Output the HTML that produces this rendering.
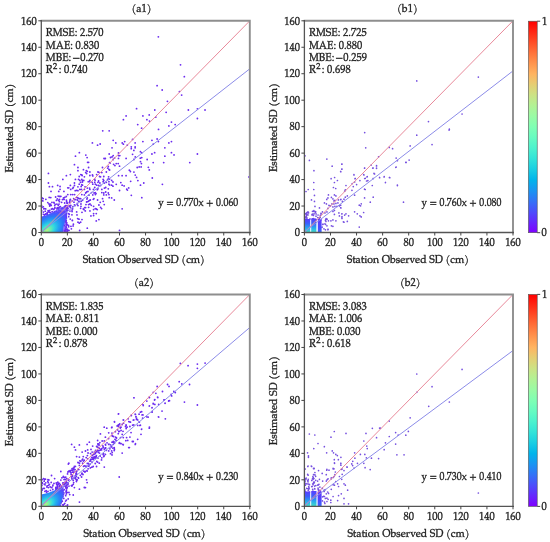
<!DOCTYPE html><html><head><meta charset="utf-8"><style>html,body{margin:0;padding:0;background:#fff}svg{display:block}text{font-family:"TeX Gyre Pagella","Liberation Serif",serif;font-size:10.5px;fill:#222;stroke:#222;stroke-width:0.3px}</style></head><body>
<svg width="550" height="542" viewBox="0 0 550 542">
<defs><filter id="soft" x="-20%" y="-20%" width="140%" height="140%"><feGaussianBlur stdDeviation="0.6"/></filter>
<radialGradient id="core" cx="0.5" cy="0.5" r="0.5"><stop offset="0" stop-color="#b8f566"/><stop offset="0.18" stop-color="#5cf0b0"/><stop offset="0.4" stop-color="#27c8e6"/><stop offset="0.7" stop-color="#2f8ef5"/><stop offset="1" stop-color="#3a6af8"/></radialGradient>
<linearGradient id="rb" x1="0" y1="1" x2="0" y2="0">
<stop offset="0.000" stop-color="rgb(127,0,255)"/>
<stop offset="0.050" stop-color="rgb(102,39,254)"/>
<stop offset="0.100" stop-color="rgb(76,78,251)"/>
<stop offset="0.150" stop-color="rgb(51,115,247)"/>
<stop offset="0.200" stop-color="rgb(25,149,242)"/>
<stop offset="0.250" stop-color="rgb(0,180,235)"/>
<stop offset="0.300" stop-color="rgb(25,206,227)"/>
<stop offset="0.350" stop-color="rgb(50,227,217)"/>
<stop offset="0.400" stop-color="rgb(76,242,206)"/>
<stop offset="0.450" stop-color="rgb(102,251,193)"/>
<stop offset="0.500" stop-color="rgb(127,255,180)"/>
<stop offset="0.550" stop-color="rgb(153,251,165)"/>
<stop offset="0.600" stop-color="rgb(178,242,149)"/>
<stop offset="0.650" stop-color="rgb(204,227,133)"/>
<stop offset="0.700" stop-color="rgb(229,206,115)"/>
<stop offset="0.750" stop-color="rgb(255,180,97)"/>
<stop offset="0.800" stop-color="rgb(255,149,78)"/>
<stop offset="0.850" stop-color="rgb(255,115,59)"/>
<stop offset="0.900" stop-color="rgb(255,78,39)"/>
<stop offset="0.950" stop-color="rgb(255,39,20)"/>
<stop offset="1.000" stop-color="rgb(255,0,0)"/>
</linearGradient></defs>
<clipPath id="ca1"><rect x="41.3" y="20.8" width="208.50" height="211.70"/></clipPath>
<g clip-path="url(#ca1)">
<polygon points="58,214 64,210 67,212 67,226 68,232.5 59,232.5" fill="#5a44ff" opacity="0.7" filter="url(#soft)"/>
<path d="M157.44 36.8a0.92 0.92 0 1 0 1.84 0a0.92 0.92 0 1 0 -1.84 0M179.59 64.8a0.92 0.92 0 1 0 1.84 0a0.92 0.92 0 1 0 -1.84 0M183.41 76.7a0.92 0.92 0 1 0 1.84 0a0.92 0.92 0 1 0 -1.84 0M156.17 85.7a0.92 0.92 0 1 0 1.84 0a0.92 0.92 0 1 0 -1.84 0M161.26 90.0a0.92 0.92 0 1 0 1.84 0a0.92 0.92 0 1 0 -1.84 0M166.52 101.3a0.92 0.92 0 1 0 1.84 0a0.92 0.92 0 1 0 -1.84 0M178.53 91.6a0.92 0.92 0 1 0 1.84 0a0.92 0.92 0 1 0 -1.84 0M135.65 108.7a0.92 0.92 0 1 0 1.84 0a0.92 0.92 0 1 0 -1.84 0M153.86 110.0a0.92 0.92 0 1 0 1.84 0a0.92 0.92 0 1 0 -1.84 0M165.23 112.3a0.92 0.92 0 1 0 1.84 0a0.92 0.92 0 1 0 -1.84 0M125.19 115.9a0.92 0.92 0 1 0 1.84 0a0.92 0.92 0 1 0 -1.84 0M122.48 119.7a0.92 0.92 0 1 0 1.84 0a0.92 0.92 0 1 0 -1.84 0M141.98 115.9a0.92 0.92 0 1 0 1.84 0a0.92 0.92 0 1 0 -1.84 0M148.31 114.9a0.92 0.92 0 1 0 1.84 0a0.92 0.92 0 1 0 -1.84 0M154.90 117.1a0.92 0.92 0 1 0 1.84 0a0.92 0.92 0 1 0 -1.84 0M145.98 119.7a0.92 0.92 0 1 0 1.84 0a0.92 0.92 0 1 0 -1.84 0M148.57 121.1a0.92 0.92 0 1 0 1.84 0a0.92 0.92 0 1 0 -1.84 0M136.81 124.6a0.92 0.92 0 1 0 1.84 0a0.92 0.92 0 1 0 -1.84 0M140.69 128.2a0.92 0.92 0 1 0 1.84 0a0.92 0.92 0 1 0 -1.84 0M170.52 122.1a0.92 0.92 0 1 0 1.84 0a0.92 0.92 0 1 0 -1.84 0M167.94 125.9a0.92 0.92 0 1 0 1.84 0a0.92 0.92 0 1 0 -1.84 0M174.27 124.6a0.92 0.92 0 1 0 1.84 0a0.92 0.92 0 1 0 -1.84 0M157.61 129.4a0.92 0.92 0 1 0 1.84 0a0.92 0.92 0 1 0 -1.84 0M112.28 140.3a0.92 0.92 0 1 0 1.84 0a0.92 0.92 0 1 0 -1.84 0M114.86 142.9a0.92 0.92 0 1 0 1.84 0a0.92 0.92 0 1 0 -1.84 0M123.77 141.6a0.92 0.92 0 1 0 1.84 0a0.92 0.92 0 1 0 -1.84 0M121.32 142.9a0.92 0.92 0 1 0 1.84 0a0.92 0.92 0 1 0 -1.84 0M122.48 144.2a0.92 0.92 0 1 0 1.84 0a0.92 0.92 0 1 0 -1.84 0M131.65 139.4a0.92 0.92 0 1 0 1.84 0a0.92 0.92 0 1 0 -1.84 0M126.35 145.2a0.92 0.92 0 1 0 1.84 0a0.92 0.92 0 1 0 -1.84 0M134.23 142.9a0.92 0.92 0 1 0 1.84 0a0.92 0.92 0 1 0 -1.84 0M134.23 146.8a0.92 0.92 0 1 0 1.84 0a0.92 0.92 0 1 0 -1.84 0M134.23 147.8a0.92 0.92 0 1 0 1.84 0a0.92 0.92 0 1 0 -1.84 0M130.36 146.8a0.92 0.92 0 1 0 1.84 0a0.92 0.92 0 1 0 -1.84 0M130.36 148.7a0.92 0.92 0 1 0 1.84 0a0.92 0.92 0 1 0 -1.84 0M132.94 150.4a0.92 0.92 0 1 0 1.84 0a0.92 0.92 0 1 0 -1.84 0M141.98 141.6a0.92 0.92 0 1 0 1.84 0a0.92 0.92 0 1 0 -1.84 0M151.02 140.3a0.92 0.92 0 1 0 1.84 0a0.92 0.92 0 1 0 -1.84 0M156.19 139.0a0.92 0.92 0 1 0 1.84 0a0.92 0.92 0 1 0 -1.84 0M157.48 141.6a0.92 0.92 0 1 0 1.84 0a0.92 0.92 0 1 0 -1.84 0M152.31 144.2a0.92 0.92 0 1 0 1.84 0a0.92 0.92 0 1 0 -1.84 0M167.94 142.9a0.92 0.92 0 1 0 1.84 0a0.92 0.92 0 1 0 -1.84 0M170.52 141.6a0.92 0.92 0 1 0 1.84 0a0.92 0.92 0 1 0 -1.84 0M163.94 147.8a0.92 0.92 0 1 0 1.84 0a0.92 0.92 0 1 0 -1.84 0M111.11 147.8a0.92 0.92 0 1 0 1.84 0a0.92 0.92 0 1 0 -1.84 0M117.57 153.0a0.92 0.92 0 1 0 1.84 0a0.92 0.92 0 1 0 -1.84 0M117.57 155.6a0.92 0.92 0 1 0 1.84 0a0.92 0.92 0 1 0 -1.84 0M118.86 155.6a0.92 0.92 0 1 0 1.84 0a0.92 0.92 0 1 0 -1.84 0M112.28 155.6a0.92 0.92 0 1 0 1.84 0a0.92 0.92 0 1 0 -1.84 0M111.11 156.9a0.92 0.92 0 1 0 1.84 0a0.92 0.92 0 1 0 -1.84 0M113.57 158.2a0.92 0.92 0 1 0 1.84 0a0.92 0.92 0 1 0 -1.84 0M112.28 159.5a0.92 0.92 0 1 0 1.84 0a0.92 0.92 0 1 0 -1.84 0M131.65 154.3a0.92 0.92 0 1 0 1.84 0a0.92 0.92 0 1 0 -1.84 0M134.36 156.9a0.92 0.92 0 1 0 1.84 0a0.92 0.92 0 1 0 -1.84 0M132.94 159.5a0.92 0.92 0 1 0 1.84 0a0.92 0.92 0 1 0 -1.84 0M139.53 151.7a0.92 0.92 0 1 0 1.84 0a0.92 0.92 0 1 0 -1.84 0M140.69 153.0a0.92 0.92 0 1 0 1.84 0a0.92 0.92 0 1 0 -1.84 0M139.40 158.2a0.92 0.92 0 1 0 1.84 0a0.92 0.92 0 1 0 -1.84 0M140.82 157.6a0.92 0.92 0 1 0 1.84 0a0.92 0.92 0 1 0 -1.84 0M151.02 154.0a0.92 0.92 0 1 0 1.84 0a0.92 0.92 0 1 0 -1.84 0M153.73 152.7a0.92 0.92 0 1 0 1.84 0a0.92 0.92 0 1 0 -1.84 0M163.94 156.2a0.92 0.92 0 1 0 1.84 0a0.92 0.92 0 1 0 -1.84 0M170.52 152.7a0.92 0.92 0 1 0 1.84 0a0.92 0.92 0 1 0 -1.84 0M173.11 154.9a0.92 0.92 0 1 0 1.84 0a0.92 0.92 0 1 0 -1.84 0M125.19 158.4a0.92 0.92 0 1 0 1.84 0a0.92 0.92 0 1 0 -1.84 0M117.57 158.4a0.92 0.92 0 1 0 1.84 0a0.92 0.92 0 1 0 -1.84 0M146.24 159.5a0.92 0.92 0 1 0 1.84 0a0.92 0.92 0 1 0 -1.84 0M180.73 95.1a0.92 0.92 0 1 0 1.84 0a0.92 0.92 0 1 0 -1.84 0M187.44 110.0a0.92 0.92 0 1 0 1.84 0a0.92 0.92 0 1 0 -1.84 0M196.48 108.8a0.92 0.92 0 1 0 1.84 0a0.92 0.92 0 1 0 -1.84 0M204.10 110.0a0.92 0.92 0 1 0 1.84 0a0.92 0.92 0 1 0 -1.84 0M196.48 118.5a0.92 0.92 0 1 0 1.84 0a0.92 0.92 0 1 0 -1.84 0M196.48 154.0a0.92 0.92 0 1 0 1.84 0a0.92 0.92 0 1 0 -1.84 0M188.86 162.6a0.92 0.92 0 1 0 1.84 0a0.92 0.92 0 1 0 -1.84 0M248.11 177.0a0.92 0.92 0 1 0 1.84 0a0.92 0.92 0 1 0 -1.84 0M101.81 130.8a0.92 0.92 0 1 0 1.84 0a0.92 0.92 0 1 0 -1.84 0M108.27 130.8a0.92 0.92 0 1 0 1.84 0a0.92 0.92 0 1 0 -1.84 0M91.48 142.9a0.92 0.92 0 1 0 1.84 0a0.92 0.92 0 1 0 -1.84 0M96.65 145.2a0.92 0.92 0 1 0 1.84 0a0.92 0.92 0 1 0 -1.84 0M99.23 144.0a0.92 0.92 0 1 0 1.84 0a0.92 0.92 0 1 0 -1.84 0M78.44 152.7a0.92 0.92 0 1 0 1.84 0a0.92 0.92 0 1 0 -1.84 0M74.56 156.2a0.92 0.92 0 1 0 1.84 0a0.92 0.92 0 1 0 -1.84 0M84.90 155.1a0.92 0.92 0 1 0 1.84 0a0.92 0.92 0 1 0 -1.84 0M86.19 157.6a0.92 0.92 0 1 0 1.84 0a0.92 0.92 0 1 0 -1.84 0M103.11 158.5a0.92 0.92 0 1 0 1.84 0a0.92 0.92 0 1 0 -1.84 0M104.40 158.5a0.92 0.92 0 1 0 1.84 0a0.92 0.92 0 1 0 -1.84 0M108.27 154.0a0.92 0.92 0 1 0 1.84 0a0.92 0.92 0 1 0 -1.84 0M109.56 157.5a0.92 0.92 0 1 0 1.84 0a0.92 0.92 0 1 0 -1.84 0M112.70 164.3a0.92 0.92 0 1 0 1.84 0a0.92 0.92 0 1 0 -1.84 0M114.01 165.6a0.92 0.92 0 1 0 1.84 0a0.92 0.92 0 1 0 -1.84 0M115.32 163.6a0.92 0.92 0 1 0 1.84 0a0.92 0.92 0 1 0 -1.84 0M117.29 163.6a0.92 0.92 0 1 0 1.84 0a0.92 0.92 0 1 0 -1.84 0M118.60 166.2a0.92 0.92 0 1 0 1.84 0a0.92 0.92 0 1 0 -1.84 0M139.57 161.7a0.92 0.92 0 1 0 1.84 0a0.92 0.92 0 1 0 -1.84 0M140.49 163.6a0.92 0.92 0 1 0 1.84 0a0.92 0.92 0 1 0 -1.84 0M152.29 162.6a0.92 0.92 0 1 0 1.84 0a0.92 0.92 0 1 0 -1.84 0M162.78 162.6a0.92 0.92 0 1 0 1.84 0a0.92 0.92 0 1 0 -1.84 0M136.30 167.5a0.92 0.92 0 1 0 1.84 0a0.92 0.92 0 1 0 -1.84 0M138.26 166.9a0.92 0.92 0 1 0 1.84 0a0.92 0.92 0 1 0 -1.84 0M140.23 166.9a0.92 0.92 0 1 0 1.84 0a0.92 0.92 0 1 0 -1.84 0M147.44 167.3a0.92 0.92 0 1 0 1.84 0a0.92 0.92 0 1 0 -1.84 0M148.36 169.9a0.92 0.92 0 1 0 1.84 0a0.92 0.92 0 1 0 -1.84 0M128.43 170.2a0.92 0.92 0 1 0 1.84 0a0.92 0.92 0 1 0 -1.84 0M129.48 171.5a0.92 0.92 0 1 0 1.84 0a0.92 0.92 0 1 0 -1.84 0M133.02 172.1a0.92 0.92 0 1 0 1.84 0a0.92 0.92 0 1 0 -1.84 0M117.68 175.7a0.92 0.92 0 1 0 1.84 0a0.92 0.92 0 1 0 -1.84 0M121.22 175.7a0.92 0.92 0 1 0 1.84 0a0.92 0.92 0 1 0 -1.84 0M125.15 175.7a0.92 0.92 0 1 0 1.84 0a0.92 0.92 0 1 0 -1.84 0M134.33 175.1a0.92 0.92 0 1 0 1.84 0a0.92 0.92 0 1 0 -1.84 0M135.64 177.4a0.92 0.92 0 1 0 1.84 0a0.92 0.92 0 1 0 -1.84 0M151.37 178.0a0.92 0.92 0 1 0 1.84 0a0.92 0.92 0 1 0 -1.84 0M110.74 180.4a0.92 0.92 0 1 0 1.84 0a0.92 0.92 0 1 0 -1.84 0M112.05 182.0a0.92 0.92 0 1 0 1.84 0a0.92 0.92 0 1 0 -1.84 0M115.32 184.3a0.92 0.92 0 1 0 1.84 0a0.92 0.92 0 1 0 -1.84 0M119.91 182.6a0.92 0.92 0 1 0 1.84 0a0.92 0.92 0 1 0 -1.84 0M121.22 185.2a0.92 0.92 0 1 0 1.84 0a0.92 0.92 0 1 0 -1.84 0M123.19 185.9a0.92 0.92 0 1 0 1.84 0a0.92 0.92 0 1 0 -1.84 0M129.74 181.3a0.92 0.92 0 1 0 1.84 0a0.92 0.92 0 1 0 -1.84 0M136.95 180.6a0.92 0.92 0 1 0 1.84 0a0.92 0.92 0 1 0 -1.84 0M142.85 183.0a0.92 0.92 0 1 0 1.84 0a0.92 0.92 0 1 0 -1.84 0M139.57 185.2a0.92 0.92 0 1 0 1.84 0a0.92 0.92 0 1 0 -1.84 0M161.47 184.3a0.92 0.92 0 1 0 1.84 0a0.92 0.92 0 1 0 -1.84 0M110.74 185.2a0.92 0.92 0 1 0 1.84 0a0.92 0.92 0 1 0 -1.84 0M112.05 186.2a0.92 0.92 0 1 0 1.84 0a0.92 0.92 0 1 0 -1.84 0M118.60 190.5a0.92 0.92 0 1 0 1.84 0a0.92 0.92 0 1 0 -1.84 0M125.81 189.2a0.92 0.92 0 1 0 1.84 0a0.92 0.92 0 1 0 -1.84 0M126.47 190.1a0.92 0.92 0 1 0 1.84 0a0.92 0.92 0 1 0 -1.84 0M127.78 187.9a0.92 0.92 0 1 0 1.84 0a0.92 0.92 0 1 0 -1.84 0M130.40 195.3a0.92 0.92 0 1 0 1.84 0a0.92 0.92 0 1 0 -1.84 0M140.89 197.7a0.92 0.92 0 1 0 1.84 0a0.92 0.92 0 1 0 -1.84 0M110.74 197.9a0.92 0.92 0 1 0 1.84 0a0.92 0.92 0 1 0 -1.84 0M113.36 200.0a0.92 0.92 0 1 0 1.84 0a0.92 0.92 0 1 0 -1.84 0M121.22 208.8a0.92 0.92 0 1 0 1.84 0a0.92 0.92 0 1 0 -1.84 0M118.60 230.4a0.92 0.92 0 1 0 1.84 0a0.92 0.92 0 1 0 -1.84 0M73.53 164.7a0.92 0.92 0 1 0 1.84 0a0.92 0.92 0 1 0 -1.84 0M47.51 173.4a0.92 0.92 0 1 0 1.84 0a0.92 0.92 0 1 0 -1.84 0M65.46 175.7a0.92 0.92 0 1 0 1.84 0a0.92 0.92 0 1 0 -1.84 0M69.46 174.6a0.92 0.92 0 1 0 1.84 0a0.92 0.92 0 1 0 -1.84 0M61.91 179.4a0.92 0.92 0 1 0 1.84 0a0.92 0.92 0 1 0 -1.84 0M74.50 179.4a0.92 0.92 0 1 0 1.84 0a0.92 0.92 0 1 0 -1.84 0M47.51 183.0a0.92 0.92 0 1 0 1.84 0a0.92 0.92 0 1 0 -1.84 0M73.53 183.0a0.92 0.92 0 1 0 1.84 0a0.92 0.92 0 1 0 -1.84 0M48.47 186.7a0.92 0.92 0 1 0 1.84 0a0.92 0.92 0 1 0 -1.84 0M51.57 186.7a0.92 0.92 0 1 0 1.84 0a0.92 0.92 0 1 0 -1.84 0M56.74 185.4a0.92 0.92 0 1 0 1.84 0a0.92 0.92 0 1 0 -1.84 0M59.13 186.5a0.92 0.92 0 1 0 1.84 0a0.92 0.92 0 1 0 -1.84 0M59.13 189.3a0.92 0.92 0 1 0 1.84 0a0.92 0.92 0 1 0 -1.84 0M69.46 185.4a0.92 0.92 0 1 0 1.84 0a0.92 0.92 0 1 0 -1.84 0M73.53 185.5a0.92 0.92 0 1 0 1.84 0a0.92 0.92 0 1 0 -1.84 0M66.88 187.8a0.92 0.92 0 1 0 1.84 0a0.92 0.92 0 1 0 -1.84 0M67.85 187.8a0.92 0.92 0 1 0 1.84 0a0.92 0.92 0 1 0 -1.84 0M69.78 189.4a0.92 0.92 0 1 0 1.84 0a0.92 0.92 0 1 0 -1.84 0M71.72 188.4a0.92 0.92 0 1 0 1.84 0a0.92 0.92 0 1 0 -1.84 0M72.37 187.5a0.92 0.92 0 1 0 1.84 0a0.92 0.92 0 1 0 -1.84 0M74.31 190.7a0.92 0.92 0 1 0 1.84 0a0.92 0.92 0 1 0 -1.84 0M50.09 191.4a0.92 0.92 0 1 0 1.84 0a0.92 0.92 0 1 0 -1.84 0M57.84 191.4a0.92 0.92 0 1 0 1.84 0a0.92 0.92 0 1 0 -1.84 0M63.00 191.4a0.92 0.92 0 1 0 1.84 0a0.92 0.92 0 1 0 -1.84 0M66.88 194.6a0.92 0.92 0 1 0 1.84 0a0.92 0.92 0 1 0 -1.84 0M69.78 194.6a0.92 0.92 0 1 0 1.84 0a0.92 0.92 0 1 0 -1.84 0M71.72 194.6a0.92 0.92 0 1 0 1.84 0a0.92 0.92 0 1 0 -1.84 0M73.66 194.6a0.92 0.92 0 1 0 1.84 0a0.92 0.92 0 1 0 -1.84 0M86.70 162.3a0.92 0.92 0 1 0 1.84 0a0.92 0.92 0 1 0 -1.84 0M87.67 162.3a0.92 0.92 0 1 0 1.84 0a0.92 0.92 0 1 0 -1.84 0M108.66 162.6a0.92 0.92 0 1 0 1.84 0a0.92 0.92 0 1 0 -1.84 0M109.31 162.9a0.92 0.92 0 1 0 1.84 0a0.92 0.92 0 1 0 -1.84 0M77.02 167.5a0.92 0.92 0 1 0 1.84 0a0.92 0.92 0 1 0 -1.84 0M87.67 167.5a0.92 0.92 0 1 0 1.84 0a0.92 0.92 0 1 0 -1.84 0M101.56 167.5a0.92 0.92 0 1 0 1.84 0a0.92 0.92 0 1 0 -1.84 0M107.37 166.5a0.92 0.92 0 1 0 1.84 0a0.92 0.92 0 1 0 -1.84 0M106.72 168.1a0.92 0.92 0 1 0 1.84 0a0.92 0.92 0 1 0 -1.84 0M82.51 169.7a0.92 0.92 0 1 0 1.84 0a0.92 0.92 0 1 0 -1.84 0M77.02 170.7a0.92 0.92 0 1 0 1.84 0a0.92 0.92 0 1 0 -1.84 0M85.41 170.7a0.92 0.92 0 1 0 1.84 0a0.92 0.92 0 1 0 -1.84 0M86.38 171.3a0.92 0.92 0 1 0 1.84 0a0.92 0.92 0 1 0 -1.84 0M108.01 169.4a0.92 0.92 0 1 0 1.84 0a0.92 0.92 0 1 0 -1.84 0M108.66 170.0a0.92 0.92 0 1 0 1.84 0a0.92 0.92 0 1 0 -1.84 0M84.77 172.6a0.92 0.92 0 1 0 1.84 0a0.92 0.92 0 1 0 -1.84 0M85.73 173.6a0.92 0.92 0 1 0 1.84 0a0.92 0.92 0 1 0 -1.84 0M88.96 172.0a0.92 0.92 0 1 0 1.84 0a0.92 0.92 0 1 0 -1.84 0M97.04 172.0a0.92 0.92 0 1 0 1.84 0a0.92 0.92 0 1 0 -1.84 0M98.00 172.3a0.92 0.92 0 1 0 1.84 0a0.92 0.92 0 1 0 -1.84 0M105.43 172.0a0.92 0.92 0 1 0 1.84 0a0.92 0.92 0 1 0 -1.84 0M100.91 172.6a0.92 0.92 0 1 0 1.84 0a0.92 0.92 0 1 0 -1.84 0M79.92 174.6a0.92 0.92 0 1 0 1.84 0a0.92 0.92 0 1 0 -1.84 0M80.89 174.9a0.92 0.92 0 1 0 1.84 0a0.92 0.92 0 1 0 -1.84 0M81.21 175.5a0.92 0.92 0 1 0 1.84 0a0.92 0.92 0 1 0 -1.84 0M88.96 175.5a0.92 0.92 0 1 0 1.84 0a0.92 0.92 0 1 0 -1.84 0M91.55 174.9a0.92 0.92 0 1 0 1.84 0a0.92 0.92 0 1 0 -1.84 0M91.87 175.9a0.92 0.92 0 1 0 1.84 0a0.92 0.92 0 1 0 -1.84 0M95.74 174.6a0.92 0.92 0 1 0 1.84 0a0.92 0.92 0 1 0 -1.84 0M98.65 176.5a0.92 0.92 0 1 0 1.84 0a0.92 0.92 0 1 0 -1.84 0M99.62 176.8a0.92 0.92 0 1 0 1.84 0a0.92 0.92 0 1 0 -1.84 0M102.85 176.5a0.92 0.92 0 1 0 1.84 0a0.92 0.92 0 1 0 -1.84 0M107.69 176.8a0.92 0.92 0 1 0 1.84 0a0.92 0.92 0 1 0 -1.84 0M78.31 176.5a0.92 0.92 0 1 0 1.84 0a0.92 0.92 0 1 0 -1.84 0M83.47 176.8a0.92 0.92 0 1 0 1.84 0a0.92 0.92 0 1 0 -1.84 0M77.66 179.4a0.92 0.92 0 1 0 1.84 0a0.92 0.92 0 1 0 -1.84 0M80.89 179.4a0.92 0.92 0 1 0 1.84 0a0.92 0.92 0 1 0 -1.84 0M81.54 180.4a0.92 0.92 0 1 0 1.84 0a0.92 0.92 0 1 0 -1.84 0M78.95 180.4a0.92 0.92 0 1 0 1.84 0a0.92 0.92 0 1 0 -1.84 0M82.83 180.4a0.92 0.92 0 1 0 1.84 0a0.92 0.92 0 1 0 -1.84 0M88.96 180.4a0.92 0.92 0 1 0 1.84 0a0.92 0.92 0 1 0 -1.84 0M93.81 179.1a0.92 0.92 0 1 0 1.84 0a0.92 0.92 0 1 0 -1.84 0M94.13 180.4a0.92 0.92 0 1 0 1.84 0a0.92 0.92 0 1 0 -1.84 0M97.68 181.0a0.92 0.92 0 1 0 1.84 0a0.92 0.92 0 1 0 -1.84 0M102.20 179.4a0.92 0.92 0 1 0 1.84 0a0.92 0.92 0 1 0 -1.84 0M102.85 180.4a0.92 0.92 0 1 0 1.84 0a0.92 0.92 0 1 0 -1.84 0M107.37 178.8a0.92 0.92 0 1 0 1.84 0a0.92 0.92 0 1 0 -1.84 0M106.72 179.7a0.92 0.92 0 1 0 1.84 0a0.92 0.92 0 1 0 -1.84 0M108.66 179.1a0.92 0.92 0 1 0 1.84 0a0.92 0.92 0 1 0 -1.84 0M79.60 182.3a0.92 0.92 0 1 0 1.84 0a0.92 0.92 0 1 0 -1.84 0M81.54 182.0a0.92 0.92 0 1 0 1.84 0a0.92 0.92 0 1 0 -1.84 0M87.35 181.7a0.92 0.92 0 1 0 1.84 0a0.92 0.92 0 1 0 -1.84 0M88.64 181.7a0.92 0.92 0 1 0 1.84 0a0.92 0.92 0 1 0 -1.84 0M91.22 182.3a0.92 0.92 0 1 0 1.84 0a0.92 0.92 0 1 0 -1.84 0M93.81 182.3a0.92 0.92 0 1 0 1.84 0a0.92 0.92 0 1 0 -1.84 0M97.04 182.3a0.92 0.92 0 1 0 1.84 0a0.92 0.92 0 1 0 -1.84 0M98.97 183.0a0.92 0.92 0 1 0 1.84 0a0.92 0.92 0 1 0 -1.84 0M102.20 181.7a0.92 0.92 0 1 0 1.84 0a0.92 0.92 0 1 0 -1.84 0M103.49 183.0a0.92 0.92 0 1 0 1.84 0a0.92 0.92 0 1 0 -1.84 0M105.43 182.3a0.92 0.92 0 1 0 1.84 0a0.92 0.92 0 1 0 -1.84 0M108.01 181.7a0.92 0.92 0 1 0 1.84 0a0.92 0.92 0 1 0 -1.84 0M78.31 184.2a0.92 0.92 0 1 0 1.84 0a0.92 0.92 0 1 0 -1.84 0M80.89 184.6a0.92 0.92 0 1 0 1.84 0a0.92 0.92 0 1 0 -1.84 0M81.54 185.2a0.92 0.92 0 1 0 1.84 0a0.92 0.92 0 1 0 -1.84 0M94.45 184.2a0.92 0.92 0 1 0 1.84 0a0.92 0.92 0 1 0 -1.84 0M95.74 185.2a0.92 0.92 0 1 0 1.84 0a0.92 0.92 0 1 0 -1.84 0M97.68 185.5a0.92 0.92 0 1 0 1.84 0a0.92 0.92 0 1 0 -1.84 0M99.62 185.5a0.92 0.92 0 1 0 1.84 0a0.92 0.92 0 1 0 -1.84 0M108.01 184.2a0.92 0.92 0 1 0 1.84 0a0.92 0.92 0 1 0 -1.84 0M108.66 184.9a0.92 0.92 0 1 0 1.84 0a0.92 0.92 0 1 0 -1.84 0M91.87 184.2a0.92 0.92 0 1 0 1.84 0a0.92 0.92 0 1 0 -1.84 0M77.02 186.8a0.92 0.92 0 1 0 1.84 0a0.92 0.92 0 1 0 -1.84 0M80.25 186.5a0.92 0.92 0 1 0 1.84 0a0.92 0.92 0 1 0 -1.84 0M84.12 186.8a0.92 0.92 0 1 0 1.84 0a0.92 0.92 0 1 0 -1.84 0M86.38 188.1a0.92 0.92 0 1 0 1.84 0a0.92 0.92 0 1 0 -1.84 0M88.64 188.1a0.92 0.92 0 1 0 1.84 0a0.92 0.92 0 1 0 -1.84 0M88.96 189.4a0.92 0.92 0 1 0 1.84 0a0.92 0.92 0 1 0 -1.84 0M93.81 187.5a0.92 0.92 0 1 0 1.84 0a0.92 0.92 0 1 0 -1.84 0M97.04 188.8a0.92 0.92 0 1 0 1.84 0a0.92 0.92 0 1 0 -1.84 0M100.91 189.4a0.92 0.92 0 1 0 1.84 0a0.92 0.92 0 1 0 -1.84 0M103.49 188.1a0.92 0.92 0 1 0 1.84 0a0.92 0.92 0 1 0 -1.84 0M104.78 187.5a0.92 0.92 0 1 0 1.84 0a0.92 0.92 0 1 0 -1.84 0M107.37 188.8a0.92 0.92 0 1 0 1.84 0a0.92 0.92 0 1 0 -1.84 0M75.73 190.4a0.92 0.92 0 1 0 1.84 0a0.92 0.92 0 1 0 -1.84 0M77.02 190.7a0.92 0.92 0 1 0 1.84 0a0.92 0.92 0 1 0 -1.84 0M78.95 189.4a0.92 0.92 0 1 0 1.84 0a0.92 0.92 0 1 0 -1.84 0M80.57 189.4a0.92 0.92 0 1 0 1.84 0a0.92 0.92 0 1 0 -1.84 0M83.47 189.4a0.92 0.92 0 1 0 1.84 0a0.92 0.92 0 1 0 -1.84 0M92.52 189.4a0.92 0.92 0 1 0 1.84 0a0.92 0.92 0 1 0 -1.84 0M96.39 189.7a0.92 0.92 0 1 0 1.84 0a0.92 0.92 0 1 0 -1.84 0M85.73 192.0a0.92 0.92 0 1 0 1.84 0a0.92 0.92 0 1 0 -1.84 0M87.03 191.4a0.92 0.92 0 1 0 1.84 0a0.92 0.92 0 1 0 -1.84 0M84.77 193.0a0.92 0.92 0 1 0 1.84 0a0.92 0.92 0 1 0 -1.84 0M90.58 192.6a0.92 0.92 0 1 0 1.84 0a0.92 0.92 0 1 0 -1.84 0M93.16 193.0a0.92 0.92 0 1 0 1.84 0a0.92 0.92 0 1 0 -1.84 0M94.45 192.6a0.92 0.92 0 1 0 1.84 0a0.92 0.92 0 1 0 -1.84 0M95.10 193.6a0.92 0.92 0 1 0 1.84 0a0.92 0.92 0 1 0 -1.84 0M100.91 192.6a0.92 0.92 0 1 0 1.84 0a0.92 0.92 0 1 0 -1.84 0M102.85 193.0a0.92 0.92 0 1 0 1.84 0a0.92 0.92 0 1 0 -1.84 0M104.78 192.0a0.92 0.92 0 1 0 1.84 0a0.92 0.92 0 1 0 -1.84 0M107.37 193.0a0.92 0.92 0 1 0 1.84 0a0.92 0.92 0 1 0 -1.84 0M80.89 194.6a0.92 0.92 0 1 0 1.84 0a0.92 0.92 0 1 0 -1.84 0M83.47 194.9a0.92 0.92 0 1 0 1.84 0a0.92 0.92 0 1 0 -1.84 0M88.00 195.2a0.92 0.92 0 1 0 1.84 0a0.92 0.92 0 1 0 -1.84 0M91.87 194.9a0.92 0.92 0 1 0 1.84 0a0.92 0.92 0 1 0 -1.84 0M94.45 194.6a0.92 0.92 0 1 0 1.84 0a0.92 0.92 0 1 0 -1.84 0M102.85 194.9a0.92 0.92 0 1 0 1.84 0a0.92 0.92 0 1 0 -1.84 0M105.43 194.9a0.92 0.92 0 1 0 1.84 0a0.92 0.92 0 1 0 -1.84 0M108.01 194.6a0.92 0.92 0 1 0 1.84 0a0.92 0.92 0 1 0 -1.84 0M75.74 197.3a0.92 0.92 0 1 0 1.84 0a0.92 0.92 0 1 0 -1.84 0M77.07 198.0a0.92 0.92 0 1 0 1.84 0a0.92 0.92 0 1 0 -1.84 0M78.40 198.7a0.92 0.92 0 1 0 1.84 0a0.92 0.92 0 1 0 -1.84 0M79.73 198.7a0.92 0.92 0 1 0 1.84 0a0.92 0.92 0 1 0 -1.84 0M76.41 200.0a0.92 0.92 0 1 0 1.84 0a0.92 0.92 0 1 0 -1.84 0M77.74 201.3a0.92 0.92 0 1 0 1.84 0a0.92 0.92 0 1 0 -1.84 0M79.06 201.3a0.92 0.92 0 1 0 1.84 0a0.92 0.92 0 1 0 -1.84 0M80.39 201.3a0.92 0.92 0 1 0 1.84 0a0.92 0.92 0 1 0 -1.84 0M81.72 200.0a0.92 0.92 0 1 0 1.84 0a0.92 0.92 0 1 0 -1.84 0M86.37 198.0a0.92 0.92 0 1 0 1.84 0a0.92 0.92 0 1 0 -1.84 0M86.04 199.0a0.92 0.92 0 1 0 1.84 0a0.92 0.92 0 1 0 -1.84 0M88.36 200.6a0.92 0.92 0 1 0 1.84 0a0.92 0.92 0 1 0 -1.84 0M89.36 200.0a0.92 0.92 0 1 0 1.84 0a0.92 0.92 0 1 0 -1.84 0M92.35 199.3a0.92 0.92 0 1 0 1.84 0a0.92 0.92 0 1 0 -1.84 0M93.01 198.7a0.92 0.92 0 1 0 1.84 0a0.92 0.92 0 1 0 -1.84 0M96.66 200.0a0.92 0.92 0 1 0 1.84 0a0.92 0.92 0 1 0 -1.84 0M99.32 202.3a0.92 0.92 0 1 0 1.84 0a0.92 0.92 0 1 0 -1.84 0M101.65 198.7a0.92 0.92 0 1 0 1.84 0a0.92 0.92 0 1 0 -1.84 0M102.31 201.3a0.92 0.92 0 1 0 1.84 0a0.92 0.92 0 1 0 -1.84 0M108.29 197.7a0.92 0.92 0 1 0 1.84 0a0.92 0.92 0 1 0 -1.84 0M85.71 202.0a0.92 0.92 0 1 0 1.84 0a0.92 0.92 0 1 0 -1.84 0M86.70 201.6a0.92 0.92 0 1 0 1.84 0a0.92 0.92 0 1 0 -1.84 0M87.37 201.3a0.92 0.92 0 1 0 1.84 0a0.92 0.92 0 1 0 -1.84 0M76.41 203.3a0.92 0.92 0 1 0 1.84 0a0.92 0.92 0 1 0 -1.84 0M76.41 204.6a0.92 0.92 0 1 0 1.84 0a0.92 0.92 0 1 0 -1.84 0M77.07 205.6a0.92 0.92 0 1 0 1.84 0a0.92 0.92 0 1 0 -1.84 0M80.06 204.0a0.92 0.92 0 1 0 1.84 0a0.92 0.92 0 1 0 -1.84 0M80.06 206.3a0.92 0.92 0 1 0 1.84 0a0.92 0.92 0 1 0 -1.84 0M85.04 204.6a0.92 0.92 0 1 0 1.84 0a0.92 0.92 0 1 0 -1.84 0M87.70 204.6a0.92 0.92 0 1 0 1.84 0a0.92 0.92 0 1 0 -1.84 0M89.03 204.0a0.92 0.92 0 1 0 1.84 0a0.92 0.92 0 1 0 -1.84 0M90.36 205.3a0.92 0.92 0 1 0 1.84 0a0.92 0.92 0 1 0 -1.84 0M92.68 206.3a0.92 0.92 0 1 0 1.84 0a0.92 0.92 0 1 0 -1.84 0M97.99 205.0a0.92 0.92 0 1 0 1.84 0a0.92 0.92 0 1 0 -1.84 0M103.31 204.6a0.92 0.92 0 1 0 1.84 0a0.92 0.92 0 1 0 -1.84 0M79.73 208.3a0.92 0.92 0 1 0 1.84 0a0.92 0.92 0 1 0 -1.84 0M82.39 209.0a0.92 0.92 0 1 0 1.84 0a0.92 0.92 0 1 0 -1.84 0M83.05 209.6a0.92 0.92 0 1 0 1.84 0a0.92 0.92 0 1 0 -1.84 0M83.71 207.6a0.92 0.92 0 1 0 1.84 0a0.92 0.92 0 1 0 -1.84 0M84.71 207.6a0.92 0.92 0 1 0 1.84 0a0.92 0.92 0 1 0 -1.84 0M84.38 210.9a0.92 0.92 0 1 0 1.84 0a0.92 0.92 0 1 0 -1.84 0M87.70 207.3a0.92 0.92 0 1 0 1.84 0a0.92 0.92 0 1 0 -1.84 0M89.03 210.9a0.92 0.92 0 1 0 1.84 0a0.92 0.92 0 1 0 -1.84 0M92.68 209.6a0.92 0.92 0 1 0 1.84 0a0.92 0.92 0 1 0 -1.84 0M94.34 208.6a0.92 0.92 0 1 0 1.84 0a0.92 0.92 0 1 0 -1.84 0M95.34 209.0a0.92 0.92 0 1 0 1.84 0a0.92 0.92 0 1 0 -1.84 0M96.33 209.6a0.92 0.92 0 1 0 1.84 0a0.92 0.92 0 1 0 -1.84 0M99.65 207.3a0.92 0.92 0 1 0 1.84 0a0.92 0.92 0 1 0 -1.84 0M100.65 208.6a0.92 0.92 0 1 0 1.84 0a0.92 0.92 0 1 0 -1.84 0M75.74 211.9a0.92 0.92 0 1 0 1.84 0a0.92 0.92 0 1 0 -1.84 0M81.06 212.3a0.92 0.92 0 1 0 1.84 0a0.92 0.92 0 1 0 -1.84 0M76.08 214.9a0.92 0.92 0 1 0 1.84 0a0.92 0.92 0 1 0 -1.84 0M90.02 215.9a0.92 0.92 0 1 0 1.84 0a0.92 0.92 0 1 0 -1.84 0M92.68 213.6a0.92 0.92 0 1 0 1.84 0a0.92 0.92 0 1 0 -1.84 0M92.68 215.6a0.92 0.92 0 1 0 1.84 0a0.92 0.92 0 1 0 -1.84 0M95.34 213.6a0.92 0.92 0 1 0 1.84 0a0.92 0.92 0 1 0 -1.84 0M76.74 218.6a0.92 0.92 0 1 0 1.84 0a0.92 0.92 0 1 0 -1.84 0M78.07 219.2a0.92 0.92 0 1 0 1.84 0a0.92 0.92 0 1 0 -1.84 0M81.06 219.6a0.92 0.92 0 1 0 1.84 0a0.92 0.92 0 1 0 -1.84 0M77.07 222.2a0.92 0.92 0 1 0 1.84 0a0.92 0.92 0 1 0 -1.84 0M78.40 223.2a0.92 0.92 0 1 0 1.84 0a0.92 0.92 0 1 0 -1.84 0M79.73 222.2a0.92 0.92 0 1 0 1.84 0a0.92 0.92 0 1 0 -1.84 0M95.34 220.9a0.92 0.92 0 1 0 1.84 0a0.92 0.92 0 1 0 -1.84 0M97.99 219.6a0.92 0.92 0 1 0 1.84 0a0.92 0.92 0 1 0 -1.84 0M86.37 228.2a0.92 0.92 0 1 0 1.84 0a0.92 0.92 0 1 0 -1.84 0M78.73 230.5a0.92 0.92 0 1 0 1.84 0a0.92 0.92 0 1 0 -1.84 0M44.94 199.3a0.92 0.92 0 1 0 1.84 0a0.92 0.92 0 1 0 -1.84 0M49.84 197.6a0.92 0.92 0 1 0 1.84 0a0.92 0.92 0 1 0 -1.84 0M48.12 204.0a0.92 0.92 0 1 0 1.84 0a0.92 0.92 0 1 0 -1.84 0M40.95 207.2a0.92 0.92 0 1 0 1.84 0a0.92 0.92 0 1 0 -1.84 0M40.64 205.5a0.92 0.92 0 1 0 1.84 0a0.92 0.92 0 1 0 -1.84 0M41.13 198.0a0.92 0.92 0 1 0 1.84 0a0.92 0.92 0 1 0 -1.84 0M46.45 214.2a0.92 0.92 0 1 0 1.84 0a0.92 0.92 0 1 0 -1.84 0M41.94 200.9a0.92 0.92 0 1 0 1.84 0a0.92 0.92 0 1 0 -1.84 0M48.74 204.7a0.92 0.92 0 1 0 1.84 0a0.92 0.92 0 1 0 -1.84 0M54.72 197.0a0.92 0.92 0 1 0 1.84 0a0.92 0.92 0 1 0 -1.84 0M52.96 202.4a0.92 0.92 0 1 0 1.84 0a0.92 0.92 0 1 0 -1.84 0M42.24 198.6a0.92 0.92 0 1 0 1.84 0a0.92 0.92 0 1 0 -1.84 0M44.71 214.0a0.92 0.92 0 1 0 1.84 0a0.92 0.92 0 1 0 -1.84 0M42.79 208.8a0.92 0.92 0 1 0 1.84 0a0.92 0.92 0 1 0 -1.84 0M49.66 204.2a0.92 0.92 0 1 0 1.84 0a0.92 0.92 0 1 0 -1.84 0M48.30 197.4a0.92 0.92 0 1 0 1.84 0a0.92 0.92 0 1 0 -1.84 0M40.97 200.5a0.92 0.92 0 1 0 1.84 0a0.92 0.92 0 1 0 -1.84 0M50.29 205.4a0.92 0.92 0 1 0 1.84 0a0.92 0.92 0 1 0 -1.84 0M44.79 208.9a0.92 0.92 0 1 0 1.84 0a0.92 0.92 0 1 0 -1.84 0M46.88 202.6a0.92 0.92 0 1 0 1.84 0a0.92 0.92 0 1 0 -1.84 0M43.74 208.6a0.92 0.92 0 1 0 1.84 0a0.92 0.92 0 1 0 -1.84 0M51.02 202.3a0.92 0.92 0 1 0 1.84 0a0.92 0.92 0 1 0 -1.84 0M46.35 212.7a0.92 0.92 0 1 0 1.84 0a0.92 0.92 0 1 0 -1.84 0M42.36 206.8a0.92 0.92 0 1 0 1.84 0a0.92 0.92 0 1 0 -1.84 0M40.67 210.7a0.92 0.92 0 1 0 1.84 0a0.92 0.92 0 1 0 -1.84 0M51.55 208.6a0.92 0.92 0 1 0 1.84 0a0.92 0.92 0 1 0 -1.84 0M53.21 202.9a0.92 0.92 0 1 0 1.84 0a0.92 0.92 0 1 0 -1.84 0M50.51 209.1a0.92 0.92 0 1 0 1.84 0a0.92 0.92 0 1 0 -1.84 0M48.78 206.0a0.92 0.92 0 1 0 1.84 0a0.92 0.92 0 1 0 -1.84 0M47.19 210.6a0.92 0.92 0 1 0 1.84 0a0.92 0.92 0 1 0 -1.84 0M68.85 202.8a0.92 0.92 0 1 0 1.84 0a0.92 0.92 0 1 0 -1.84 0M53.58 212.0a0.92 0.92 0 1 0 1.84 0a0.92 0.92 0 1 0 -1.84 0M53.76 216.9a0.92 0.92 0 1 0 1.84 0a0.92 0.92 0 1 0 -1.84 0M52.64 217.2a0.92 0.92 0 1 0 1.84 0a0.92 0.92 0 1 0 -1.84 0M73.60 199.6a0.92 0.92 0 1 0 1.84 0a0.92 0.92 0 1 0 -1.84 0M60.70 202.3a0.92 0.92 0 1 0 1.84 0a0.92 0.92 0 1 0 -1.84 0M53.00 209.6a0.92 0.92 0 1 0 1.84 0a0.92 0.92 0 1 0 -1.84 0M58.12 210.8a0.92 0.92 0 1 0 1.84 0a0.92 0.92 0 1 0 -1.84 0M63.75 197.3a0.92 0.92 0 1 0 1.84 0a0.92 0.92 0 1 0 -1.84 0M53.81 205.6a0.92 0.92 0 1 0 1.84 0a0.92 0.92 0 1 0 -1.84 0M61.57 199.6a0.92 0.92 0 1 0 1.84 0a0.92 0.92 0 1 0 -1.84 0M56.39 207.6a0.92 0.92 0 1 0 1.84 0a0.92 0.92 0 1 0 -1.84 0M69.09 199.9a0.92 0.92 0 1 0 1.84 0a0.92 0.92 0 1 0 -1.84 0M40.89 218.8a0.92 0.92 0 1 0 1.84 0a0.92 0.92 0 1 0 -1.84 0M58.57 199.5a0.92 0.92 0 1 0 1.84 0a0.92 0.92 0 1 0 -1.84 0M59.09 196.6a0.92 0.92 0 1 0 1.84 0a0.92 0.92 0 1 0 -1.84 0M58.72 214.7a0.92 0.92 0 1 0 1.84 0a0.92 0.92 0 1 0 -1.84 0M49.15 212.6a0.92 0.92 0 1 0 1.84 0a0.92 0.92 0 1 0 -1.84 0M73.51 204.8a0.92 0.92 0 1 0 1.84 0a0.92 0.92 0 1 0 -1.84 0M69.50 207.5a0.92 0.92 0 1 0 1.84 0a0.92 0.92 0 1 0 -1.84 0M66.33 207.5a0.92 0.92 0 1 0 1.84 0a0.92 0.92 0 1 0 -1.84 0M46.33 214.9a0.92 0.92 0 1 0 1.84 0a0.92 0.92 0 1 0 -1.84 0M51.72 215.2a0.92 0.92 0 1 0 1.84 0a0.92 0.92 0 1 0 -1.84 0M74.09 205.5a0.92 0.92 0 1 0 1.84 0a0.92 0.92 0 1 0 -1.84 0M65.45 200.1a0.92 0.92 0 1 0 1.84 0a0.92 0.92 0 1 0 -1.84 0M52.34 209.2a0.92 0.92 0 1 0 1.84 0a0.92 0.92 0 1 0 -1.84 0M69.00 201.1a0.92 0.92 0 1 0 1.84 0a0.92 0.92 0 1 0 -1.84 0M44.67 217.8a0.92 0.92 0 1 0 1.84 0a0.92 0.92 0 1 0 -1.84 0M57.64 208.8a0.92 0.92 0 1 0 1.84 0a0.92 0.92 0 1 0 -1.84 0M58.40 196.4a0.92 0.92 0 1 0 1.84 0a0.92 0.92 0 1 0 -1.84 0M55.48 200.4a0.92 0.92 0 1 0 1.84 0a0.92 0.92 0 1 0 -1.84 0M65.46 209.4a0.92 0.92 0 1 0 1.84 0a0.92 0.92 0 1 0 -1.84 0M67.11 208.2a0.92 0.92 0 1 0 1.84 0a0.92 0.92 0 1 0 -1.84 0M72.02 206.6a0.92 0.92 0 1 0 1.84 0a0.92 0.92 0 1 0 -1.84 0M61.52 208.1a0.92 0.92 0 1 0 1.84 0a0.92 0.92 0 1 0 -1.84 0M58.01 212.6a0.92 0.92 0 1 0 1.84 0a0.92 0.92 0 1 0 -1.84 0M55.91 208.8a0.92 0.92 0 1 0 1.84 0a0.92 0.92 0 1 0 -1.84 0M73.06 202.2a0.92 0.92 0 1 0 1.84 0a0.92 0.92 0 1 0 -1.84 0M69.48 199.3a0.92 0.92 0 1 0 1.84 0a0.92 0.92 0 1 0 -1.84 0M63.19 199.4a0.92 0.92 0 1 0 1.84 0a0.92 0.92 0 1 0 -1.84 0M47.77 218.9a0.92 0.92 0 1 0 1.84 0a0.92 0.92 0 1 0 -1.84 0M54.02 207.7a0.92 0.92 0 1 0 1.84 0a0.92 0.92 0 1 0 -1.84 0M58.13 204.1a0.92 0.92 0 1 0 1.84 0a0.92 0.92 0 1 0 -1.84 0M65.36 196.5a0.92 0.92 0 1 0 1.84 0a0.92 0.92 0 1 0 -1.84 0M59.47 206.6a0.92 0.92 0 1 0 1.84 0a0.92 0.92 0 1 0 -1.84 0M61.92 208.3a0.92 0.92 0 1 0 1.84 0a0.92 0.92 0 1 0 -1.84 0M42.33 219.6a0.92 0.92 0 1 0 1.84 0a0.92 0.92 0 1 0 -1.84 0M68.74 202.2a0.92 0.92 0 1 0 1.84 0a0.92 0.92 0 1 0 -1.84 0M45.31 218.1a0.92 0.92 0 1 0 1.84 0a0.92 0.92 0 1 0 -1.84 0M60.05 212.8a0.92 0.92 0 1 0 1.84 0a0.92 0.92 0 1 0 -1.84 0M64.17 206.2a0.92 0.92 0 1 0 1.84 0a0.92 0.92 0 1 0 -1.84 0M42.61 218.5a0.92 0.92 0 1 0 1.84 0a0.92 0.92 0 1 0 -1.84 0M55.96 204.1a0.92 0.92 0 1 0 1.84 0a0.92 0.92 0 1 0 -1.84 0M58.52 201.7a0.92 0.92 0 1 0 1.84 0a0.92 0.92 0 1 0 -1.84 0M66.66 203.0a0.92 0.92 0 1 0 1.84 0a0.92 0.92 0 1 0 -1.84 0M57.58 200.3a0.92 0.92 0 1 0 1.84 0a0.92 0.92 0 1 0 -1.84 0M65.74 209.2a0.92 0.92 0 1 0 1.84 0a0.92 0.92 0 1 0 -1.84 0M72.79 198.6a0.92 0.92 0 1 0 1.84 0a0.92 0.92 0 1 0 -1.84 0M68.74 206.4a0.92 0.92 0 1 0 1.84 0a0.92 0.92 0 1 0 -1.84 0M53.84 208.2a0.92 0.92 0 1 0 1.84 0a0.92 0.92 0 1 0 -1.84 0M52.07 216.0a0.92 0.92 0 1 0 1.84 0a0.92 0.92 0 1 0 -1.84 0M54.24 204.3a0.92 0.92 0 1 0 1.84 0a0.92 0.92 0 1 0 -1.84 0M56.69 208.1a0.92 0.92 0 1 0 1.84 0a0.92 0.92 0 1 0 -1.84 0M60.58 208.7a0.92 0.92 0 1 0 1.84 0a0.92 0.92 0 1 0 -1.84 0M74.55 199.6a0.92 0.92 0 1 0 1.84 0a0.92 0.92 0 1 0 -1.84 0M59.63 211.1a0.92 0.92 0 1 0 1.84 0a0.92 0.92 0 1 0 -1.84 0M57.21 196.1a0.92 0.92 0 1 0 1.84 0a0.92 0.92 0 1 0 -1.84 0M57.68 208.8a0.92 0.92 0 1 0 1.84 0a0.92 0.92 0 1 0 -1.84 0M63.16 197.6a0.92 0.92 0 1 0 1.84 0a0.92 0.92 0 1 0 -1.84 0M65.87 202.1a0.92 0.92 0 1 0 1.84 0a0.92 0.92 0 1 0 -1.84 0M65.61 200.9a0.92 0.92 0 1 0 1.84 0a0.92 0.92 0 1 0 -1.84 0M57.37 205.2a0.92 0.92 0 1 0 1.84 0a0.92 0.92 0 1 0 -1.84 0M56.85 212.4a0.92 0.92 0 1 0 1.84 0a0.92 0.92 0 1 0 -1.84 0M62.58 197.9a0.92 0.92 0 1 0 1.84 0a0.92 0.92 0 1 0 -1.84 0M66.09 203.3a0.92 0.92 0 1 0 1.84 0a0.92 0.92 0 1 0 -1.84 0M59.95 196.3a0.92 0.92 0 1 0 1.84 0a0.92 0.92 0 1 0 -1.84 0M63.73 203.0a0.92 0.92 0 1 0 1.84 0a0.92 0.92 0 1 0 -1.84 0M58.16 207.2a0.92 0.92 0 1 0 1.84 0a0.92 0.92 0 1 0 -1.84 0M56.40 198.8a0.92 0.92 0 1 0 1.84 0a0.92 0.92 0 1 0 -1.84 0M71.36 200.8a0.92 0.92 0 1 0 1.84 0a0.92 0.92 0 1 0 -1.84 0M40.38 213.5a0.92 0.92 0 1 0 1.84 0a0.92 0.92 0 1 0 -1.84 0M47.72 211.2a0.92 0.92 0 1 0 1.84 0a0.92 0.92 0 1 0 -1.84 0M43.65 219.3a0.92 0.92 0 1 0 1.84 0a0.92 0.92 0 1 0 -1.84 0M43.66 215.0a0.92 0.92 0 1 0 1.84 0a0.92 0.92 0 1 0 -1.84 0M42.49 214.3a0.92 0.92 0 1 0 1.84 0a0.92 0.92 0 1 0 -1.84 0M54.02 214.1a0.92 0.92 0 1 0 1.84 0a0.92 0.92 0 1 0 -1.84 0M44.01 218.8a0.92 0.92 0 1 0 1.84 0a0.92 0.92 0 1 0 -1.84 0M40.14 213.9a0.92 0.92 0 1 0 1.84 0a0.92 0.92 0 1 0 -1.84 0M47.74 211.6a0.92 0.92 0 1 0 1.84 0a0.92 0.92 0 1 0 -1.84 0M42.47 212.1a0.92 0.92 0 1 0 1.84 0a0.92 0.92 0 1 0 -1.84 0M45.45 218.1a0.92 0.92 0 1 0 1.84 0a0.92 0.92 0 1 0 -1.84 0M40.11 217.0a0.92 0.92 0 1 0 1.84 0a0.92 0.92 0 1 0 -1.84 0M55.41 211.5a0.92 0.92 0 1 0 1.84 0a0.92 0.92 0 1 0 -1.84 0M46.41 212.7a0.92 0.92 0 1 0 1.84 0a0.92 0.92 0 1 0 -1.84 0M46.21 213.1a0.92 0.92 0 1 0 1.84 0a0.92 0.92 0 1 0 -1.84 0M41.81 218.0a0.92 0.92 0 1 0 1.84 0a0.92 0.92 0 1 0 -1.84 0M44.32 211.2a0.92 0.92 0 1 0 1.84 0a0.92 0.92 0 1 0 -1.84 0M48.77 210.3a0.92 0.92 0 1 0 1.84 0a0.92 0.92 0 1 0 -1.84 0M52.53 213.4a0.92 0.92 0 1 0 1.84 0a0.92 0.92 0 1 0 -1.84 0M52.88 215.7a0.92 0.92 0 1 0 1.84 0a0.92 0.92 0 1 0 -1.84 0M48.11 212.1a0.92 0.92 0 1 0 1.84 0a0.92 0.92 0 1 0 -1.84 0M45.14 216.9a0.92 0.92 0 1 0 1.84 0a0.92 0.92 0 1 0 -1.84 0M51.23 211.6a0.92 0.92 0 1 0 1.84 0a0.92 0.92 0 1 0 -1.84 0M49.55 212.7a0.92 0.92 0 1 0 1.84 0a0.92 0.92 0 1 0 -1.84 0M43.61 218.9a0.92 0.92 0 1 0 1.84 0a0.92 0.92 0 1 0 -1.84 0M65.54 214.8a0.92 0.92 0 1 0 1.84 0a0.92 0.92 0 1 0 -1.84 0M64.83 213.1a0.92 0.92 0 1 0 1.84 0a0.92 0.92 0 1 0 -1.84 0M60.97 212.0a0.92 0.92 0 1 0 1.84 0a0.92 0.92 0 1 0 -1.84 0M63.21 212.0a0.92 0.92 0 1 0 1.84 0a0.92 0.92 0 1 0 -1.84 0M61.67 215.7a0.92 0.92 0 1 0 1.84 0a0.92 0.92 0 1 0 -1.84 0M66.62 229.5a0.92 0.92 0 1 0 1.84 0a0.92 0.92 0 1 0 -1.84 0M69.32 219.1a0.92 0.92 0 1 0 1.84 0a0.92 0.92 0 1 0 -1.84 0M64.29 221.5a0.92 0.92 0 1 0 1.84 0a0.92 0.92 0 1 0 -1.84 0M63.73 217.4a0.92 0.92 0 1 0 1.84 0a0.92 0.92 0 1 0 -1.84 0M59.01 216.1a0.92 0.92 0 1 0 1.84 0a0.92 0.92 0 1 0 -1.84 0M65.63 223.9a0.92 0.92 0 1 0 1.84 0a0.92 0.92 0 1 0 -1.84 0M71.02 214.8a0.92 0.92 0 1 0 1.84 0a0.92 0.92 0 1 0 -1.84 0M62.15 215.5a0.92 0.92 0 1 0 1.84 0a0.92 0.92 0 1 0 -1.84 0M64.08 219.8a0.92 0.92 0 1 0 1.84 0a0.92 0.92 0 1 0 -1.84 0M71.52 220.4a0.92 0.92 0 1 0 1.84 0a0.92 0.92 0 1 0 -1.84 0M63.95 230.4a0.92 0.92 0 1 0 1.84 0a0.92 0.92 0 1 0 -1.84 0M70.46 228.8a0.92 0.92 0 1 0 1.84 0a0.92 0.92 0 1 0 -1.84 0M59.72 213.4a0.92 0.92 0 1 0 1.84 0a0.92 0.92 0 1 0 -1.84 0M65.92 225.0a0.92 0.92 0 1 0 1.84 0a0.92 0.92 0 1 0 -1.84 0M72.20 225.9a0.92 0.92 0 1 0 1.84 0a0.92 0.92 0 1 0 -1.84 0M67.79 226.8a0.92 0.92 0 1 0 1.84 0a0.92 0.92 0 1 0 -1.84 0M64.94 222.1a0.92 0.92 0 1 0 1.84 0a0.92 0.92 0 1 0 -1.84 0M61.57 230.2a0.92 0.92 0 1 0 1.84 0a0.92 0.92 0 1 0 -1.84 0M67.76 216.7a0.92 0.92 0 1 0 1.84 0a0.92 0.92 0 1 0 -1.84 0M60.00 215.5a0.92 0.92 0 1 0 1.84 0a0.92 0.92 0 1 0 -1.84 0M67.62 225.4a0.92 0.92 0 1 0 1.84 0a0.92 0.92 0 1 0 -1.84 0M65.95 222.8a0.92 0.92 0 1 0 1.84 0a0.92 0.92 0 1 0 -1.84 0M63.90 214.9a0.92 0.92 0 1 0 1.84 0a0.92 0.92 0 1 0 -1.84 0M62.60 220.1a0.92 0.92 0 1 0 1.84 0a0.92 0.92 0 1 0 -1.84 0M72.46 224.2a0.92 0.92 0 1 0 1.84 0a0.92 0.92 0 1 0 -1.84 0M71.34 220.5a0.92 0.92 0 1 0 1.84 0a0.92 0.92 0 1 0 -1.84 0M61.60 215.4a0.92 0.92 0 1 0 1.84 0a0.92 0.92 0 1 0 -1.84 0M65.55 224.8a0.92 0.92 0 1 0 1.84 0a0.92 0.92 0 1 0 -1.84 0M64.38 215.7a0.92 0.92 0 1 0 1.84 0a0.92 0.92 0 1 0 -1.84 0M68.09 230.4a0.92 0.92 0 1 0 1.84 0a0.92 0.92 0 1 0 -1.84 0M63.15 219.3a0.92 0.92 0 1 0 1.84 0a0.92 0.92 0 1 0 -1.84 0M68.32 214.4a0.92 0.92 0 1 0 1.84 0a0.92 0.92 0 1 0 -1.84 0M70.04 226.3a0.92 0.92 0 1 0 1.84 0a0.92 0.92 0 1 0 -1.84 0M62.13 216.1a0.92 0.92 0 1 0 1.84 0a0.92 0.92 0 1 0 -1.84 0M65.28 216.6a0.92 0.92 0 1 0 1.84 0a0.92 0.92 0 1 0 -1.84 0M59.29 227.2a0.92 0.92 0 1 0 1.84 0a0.92 0.92 0 1 0 -1.84 0M60.03 231.0a0.92 0.92 0 1 0 1.84 0a0.92 0.92 0 1 0 -1.84 0M62.04 215.7a0.92 0.92 0 1 0 1.84 0a0.92 0.92 0 1 0 -1.84 0M59.31 220.3a0.92 0.92 0 1 0 1.84 0a0.92 0.92 0 1 0 -1.84 0M63.73 231.0a0.92 0.92 0 1 0 1.84 0a0.92 0.92 0 1 0 -1.84 0M58.54 219.9a0.92 0.92 0 1 0 1.84 0a0.92 0.92 0 1 0 -1.84 0M59.21 231.5a0.92 0.92 0 1 0 1.84 0a0.92 0.92 0 1 0 -1.84 0M57.68 219.9a0.92 0.92 0 1 0 1.84 0a0.92 0.92 0 1 0 -1.84 0M66.06 229.7a0.92 0.92 0 1 0 1.84 0a0.92 0.92 0 1 0 -1.84 0M64.41 232.0a0.92 0.92 0 1 0 1.84 0a0.92 0.92 0 1 0 -1.84 0M58.94 230.7a0.92 0.92 0 1 0 1.84 0a0.92 0.92 0 1 0 -1.84 0M64.54 212.6a0.92 0.92 0 1 0 1.84 0a0.92 0.92 0 1 0 -1.84 0M63.72 219.6a0.92 0.92 0 1 0 1.84 0a0.92 0.92 0 1 0 -1.84 0M60.82 218.6a0.92 0.92 0 1 0 1.84 0a0.92 0.92 0 1 0 -1.84 0M59.88 219.0a0.92 0.92 0 1 0 1.84 0a0.92 0.92 0 1 0 -1.84 0M60.65 228.4a0.92 0.92 0 1 0 1.84 0a0.92 0.92 0 1 0 -1.84 0M65.30 220.6a0.92 0.92 0 1 0 1.84 0a0.92 0.92 0 1 0 -1.84 0M57.57 221.5a0.92 0.92 0 1 0 1.84 0a0.92 0.92 0 1 0 -1.84 0M60.81 230.4a0.92 0.92 0 1 0 1.84 0a0.92 0.92 0 1 0 -1.84 0M59.01 219.3a0.92 0.92 0 1 0 1.84 0a0.92 0.92 0 1 0 -1.84 0M61.19 228.2a0.92 0.92 0 1 0 1.84 0a0.92 0.92 0 1 0 -1.84 0M64.75 212.8a0.92 0.92 0 1 0 1.84 0a0.92 0.92 0 1 0 -1.84 0M64.55 230.0a0.92 0.92 0 1 0 1.84 0a0.92 0.92 0 1 0 -1.84 0M60.47 217.4a0.92 0.92 0 1 0 1.84 0a0.92 0.92 0 1 0 -1.84 0M59.70 226.3a0.92 0.92 0 1 0 1.84 0a0.92 0.92 0 1 0 -1.84 0M60.24 217.5a0.92 0.92 0 1 0 1.84 0a0.92 0.92 0 1 0 -1.84 0M66.24 224.7a0.92 0.92 0 1 0 1.84 0a0.92 0.92 0 1 0 -1.84 0M59.42 221.5a0.92 0.92 0 1 0 1.84 0a0.92 0.92 0 1 0 -1.84 0M66.65 231.1a0.92 0.92 0 1 0 1.84 0a0.92 0.92 0 1 0 -1.84 0M60.95 217.0a0.92 0.92 0 1 0 1.84 0a0.92 0.92 0 1 0 -1.84 0M61.38 221.9a0.92 0.92 0 1 0 1.84 0a0.92 0.92 0 1 0 -1.84 0M65.11 226.8a0.92 0.92 0 1 0 1.84 0a0.92 0.92 0 1 0 -1.84 0M65.31 227.5a0.92 0.92 0 1 0 1.84 0a0.92 0.92 0 1 0 -1.84 0M63.15 218.6a0.92 0.92 0 1 0 1.84 0a0.92 0.92 0 1 0 -1.84 0M60.28 219.2a0.92 0.92 0 1 0 1.84 0a0.92 0.92 0 1 0 -1.84 0M64.90 213.6a0.92 0.92 0 1 0 1.84 0a0.92 0.92 0 1 0 -1.84 0M59.05 227.1a0.92 0.92 0 1 0 1.84 0a0.92 0.92 0 1 0 -1.84 0M60.34 231.6a0.92 0.92 0 1 0 1.84 0a0.92 0.92 0 1 0 -1.84 0M65.91 231.8a0.92 0.92 0 1 0 1.84 0a0.92 0.92 0 1 0 -1.84 0M59.73 213.7a0.92 0.92 0 1 0 1.84 0a0.92 0.92 0 1 0 -1.84 0M58.04 222.0a0.92 0.92 0 1 0 1.84 0a0.92 0.92 0 1 0 -1.84 0M64.18 220.9a0.92 0.92 0 1 0 1.84 0a0.92 0.92 0 1 0 -1.84 0M59.42 220.3a0.92 0.92 0 1 0 1.84 0a0.92 0.92 0 1 0 -1.84 0M63.28 225.5a0.92 0.92 0 1 0 1.84 0a0.92 0.92 0 1 0 -1.84 0M64.56 228.9a0.92 0.92 0 1 0 1.84 0a0.92 0.92 0 1 0 -1.84 0M63.72 214.4a0.92 0.92 0 1 0 1.84 0a0.92 0.92 0 1 0 -1.84 0M65.49 217.9a0.92 0.92 0 1 0 1.84 0a0.92 0.92 0 1 0 -1.84 0M62.75 219.5a0.92 0.92 0 1 0 1.84 0a0.92 0.92 0 1 0 -1.84 0M64.46 216.0a0.92 0.92 0 1 0 1.84 0a0.92 0.92 0 1 0 -1.84 0M59.55 216.9a0.92 0.92 0 1 0 1.84 0a0.92 0.92 0 1 0 -1.84 0M58.61 229.7a0.92 0.92 0 1 0 1.84 0a0.92 0.92 0 1 0 -1.84 0M62.86 218.5a0.92 0.92 0 1 0 1.84 0a0.92 0.92 0 1 0 -1.84 0M61.04 231.8a0.92 0.92 0 1 0 1.84 0a0.92 0.92 0 1 0 -1.84 0M68.15 206.0a0.92 0.92 0 1 0 1.84 0a0.92 0.92 0 1 0 -1.84 0M71.16 211.5a0.92 0.92 0 1 0 1.84 0a0.92 0.92 0 1 0 -1.84 0M67.83 213.6a0.92 0.92 0 1 0 1.84 0a0.92 0.92 0 1 0 -1.84 0M63.48 206.8a0.92 0.92 0 1 0 1.84 0a0.92 0.92 0 1 0 -1.84 0M71.74 208.8a0.92 0.92 0 1 0 1.84 0a0.92 0.92 0 1 0 -1.84 0M65.68 213.1a0.92 0.92 0 1 0 1.84 0a0.92 0.92 0 1 0 -1.84 0M69.04 211.1a0.92 0.92 0 1 0 1.84 0a0.92 0.92 0 1 0 -1.84 0M65.26 207.8a0.92 0.92 0 1 0 1.84 0a0.92 0.92 0 1 0 -1.84 0M64.49 205.7a0.92 0.92 0 1 0 1.84 0a0.92 0.92 0 1 0 -1.84 0M65.63 210.8a0.92 0.92 0 1 0 1.84 0a0.92 0.92 0 1 0 -1.84 0M69.60 205.6a0.92 0.92 0 1 0 1.84 0a0.92 0.92 0 1 0 -1.84 0M69.86 205.4a0.92 0.92 0 1 0 1.84 0a0.92 0.92 0 1 0 -1.84 0M66.20 205.6a0.92 0.92 0 1 0 1.84 0a0.92 0.92 0 1 0 -1.84 0M71.03 210.1a0.92 0.92 0 1 0 1.84 0a0.92 0.92 0 1 0 -1.84 0M67.03 210.2a0.92 0.92 0 1 0 1.84 0a0.92 0.92 0 1 0 -1.84 0" fill="#6c2cf0"/>
<radialGradient id="g_a1" gradientUnits="userSpaceOnUse" cx="47" cy="230.5" r="25" gradientTransform="translate(47 230.5) rotate(-38) scale(1 0.62) translate(-47 -230.5)"><stop offset="0" stop-color="#b8f07a"/><stop offset="0.15" stop-color="#70f0a8"/><stop offset="0.33" stop-color="#30d8e0"/><stop offset="0.52" stop-color="#24a8f0"/><stop offset="0.72" stop-color="#2c78fa"/><stop offset="0.87" stop-color="#4858ff"/><stop offset="1" stop-color="#5a44ff" stop-opacity="0.75"/></radialGradient>
<polygon points="41.3,216.6 46.5,215.3 54.3,211.3 60,207.5 64,206.5 67,208.5 67.4,213 66,219.3 63.5,225.9 62.6,232.5 41.3,232.5" fill="url(#g_a1)" filter="url(#soft)"/>
<line x1="41.3" y1="232.5" x2="249.8" y2="20.8" stroke="#e8899a" stroke-width="1"/>
<line x1="41.3" y1="231.92" x2="249.8" y2="68.81" stroke="#8c8ce8" stroke-width="1"/>
</g>
<path d="M40.599999999999994 20.8H249.8V233.2" fill="none" stroke="#8e8e8e" stroke-width="1.9"/>
<path d="M41.3 19.900000000000002V232.5H250.70000000000002" fill="none" stroke="#555" stroke-width="1.3"/>
<line x1="41.30" y1="232.5" x2="41.30" y2="235.5" stroke="#444" stroke-width="1"/>
<line x1="38.3" y1="232.50" x2="41.3" y2="232.50" stroke="#444" stroke-width="1"/>
<text x="41.30" y="246.00" text-anchor="middle">0</text>
<text x="36.80" y="236.20" text-anchor="end">0</text>
<line x1="67.36" y1="232.5" x2="67.36" y2="235.5" stroke="#444" stroke-width="1"/>
<line x1="38.3" y1="206.04" x2="41.3" y2="206.04" stroke="#444" stroke-width="1"/>
<text x="67.36" y="246.00" text-anchor="middle">20</text>
<text x="36.80" y="209.74" text-anchor="end">20</text>
<line x1="93.42" y1="232.5" x2="93.42" y2="235.5" stroke="#444" stroke-width="1"/>
<line x1="38.3" y1="179.57" x2="41.3" y2="179.57" stroke="#444" stroke-width="1"/>
<text x="93.42" y="246.00" text-anchor="middle">40</text>
<text x="36.80" y="183.27" text-anchor="end">40</text>
<line x1="119.49" y1="232.5" x2="119.49" y2="235.5" stroke="#444" stroke-width="1"/>
<line x1="38.3" y1="153.11" x2="41.3" y2="153.11" stroke="#444" stroke-width="1"/>
<text x="119.49" y="246.00" text-anchor="middle">60</text>
<text x="36.80" y="156.81" text-anchor="end">60</text>
<line x1="145.55" y1="232.5" x2="145.55" y2="235.5" stroke="#444" stroke-width="1"/>
<line x1="38.3" y1="126.65" x2="41.3" y2="126.65" stroke="#444" stroke-width="1"/>
<text x="145.55" y="246.00" text-anchor="middle">80</text>
<text x="36.80" y="130.35" text-anchor="end">80</text>
<line x1="171.61" y1="232.5" x2="171.61" y2="235.5" stroke="#444" stroke-width="1"/>
<line x1="38.3" y1="100.19" x2="41.3" y2="100.19" stroke="#444" stroke-width="1"/>
<text x="171.61" y="246.00" text-anchor="middle">100</text>
<text x="36.80" y="103.89" text-anchor="end">100</text>
<line x1="197.68" y1="232.5" x2="197.68" y2="235.5" stroke="#444" stroke-width="1"/>
<line x1="38.3" y1="73.72" x2="41.3" y2="73.72" stroke="#444" stroke-width="1"/>
<text x="197.68" y="246.00" text-anchor="middle">120</text>
<text x="36.80" y="77.42" text-anchor="end">120</text>
<line x1="223.74" y1="232.5" x2="223.74" y2="235.5" stroke="#444" stroke-width="1"/>
<line x1="38.3" y1="47.26" x2="41.3" y2="47.26" stroke="#444" stroke-width="1"/>
<text x="223.74" y="246.00" text-anchor="middle">140</text>
<text x="36.80" y="50.96" text-anchor="end">140</text>
<line x1="249.80" y1="232.5" x2="249.80" y2="235.5" stroke="#444" stroke-width="1"/>
<line x1="38.3" y1="20.80" x2="41.3" y2="20.80" stroke="#444" stroke-width="1"/>
<text x="249.80" y="246.00" text-anchor="middle">160</text>
<text x="36.80" y="24.50" text-anchor="end">160</text>
<text x="141.60" y="12.10" text-anchor="middle">(a1)</text>
<text x="143.80" y="263.40" text-anchor="middle" font-size="10.6" textLength="122.14" lengthAdjust="spacingAndGlyphs">Station Observed SD (cm)</text>
<text transform="translate(13.40,128.10) rotate(-90)" text-anchor="middle" textLength="88.94" lengthAdjust="spacingAndGlyphs">Estimated SD (cm)</text>
<text x="45.80" y="36.30" textLength="57.75" lengthAdjust="spacingAndGlyphs">RMSE: 2.570</text>
<text x="45.80" y="48.60" textLength="53.41" lengthAdjust="spacingAndGlyphs">MAE: 0.830</text>
<text x="45.80" y="60.90">MBE:<tspan dx="1">−0.270</tspan></text>
<text x="45.80" y="73.20">R<tspan dx="0.3" dy="-3.9" font-size="8.6">2</tspan><tspan dx="1.3" dy="3.9">: 0.740</tspan></text>
<text x="238.30" y="206.24" text-anchor="end" textLength="80" lengthAdjust="spacingAndGlyphs">y = 0.770x + 0.060</text>
<clipPath id="cb1"><rect x="304.4" y="20.8" width="208.60" height="211.70"/></clipPath>
<g clip-path="url(#cb1)">
<path d="M415.91 80.9a0.85 0.85 0 1 0 1.7 0a0.85 0.85 0 1 0 -1.7 0M477.51 77.1a0.85 0.85 0 1 0 1.7 0a0.85 0.85 0 1 0 -1.7 0M461.22 114.0a0.85 0.85 0 1 0 1.7 0a0.85 0.85 0 1 0 -1.7 0M427.62 121.6a0.85 0.85 0 1 0 1.7 0a0.85 0.85 0 1 0 -1.7 0M448.50 129.2a0.85 0.85 0 1 0 1.7 0a0.85 0.85 0 1 0 -1.7 0M448.24 130.1a0.85 0.85 0 1 0 1.7 0a0.85 0.85 0 1 0 -1.7 0M415.91 135.2a0.85 0.85 0 1 0 1.7 0a0.85 0.85 0 1 0 -1.7 0M431.19 144.6a0.85 0.85 0 1 0 1.7 0a0.85 0.85 0 1 0 -1.7 0M409.30 145.9a0.85 0.85 0 1 0 1.7 0a0.85 0.85 0 1 0 -1.7 0M388.42 147.4a0.85 0.85 0 1 0 1.7 0a0.85 0.85 0 1 0 -1.7 0M391.73 148.7a0.85 0.85 0 1 0 1.7 0a0.85 0.85 0 1 0 -1.7 0M377.73 156.8a0.85 0.85 0 1 0 1.7 0a0.85 0.85 0 1 0 -1.7 0M395.30 158.1a0.85 0.85 0 1 0 1.7 0a0.85 0.85 0 1 0 -1.7 0M396.57 160.6a0.85 0.85 0 1 0 1.7 0a0.85 0.85 0 1 0 -1.7 0M404.97 162.4a0.85 0.85 0 1 0 1.7 0a0.85 0.85 0 1 0 -1.7 0M408.28 160.1a0.85 0.85 0 1 0 1.7 0a0.85 0.85 0 1 0 -1.7 0M395.30 167.0a0.85 0.85 0 1 0 1.7 0a0.85 0.85 0 1 0 -1.7 0M375.70 165.7a0.85 0.85 0 1 0 1.7 0a0.85 0.85 0 1 0 -1.7 0M375.70 168.3a0.85 0.85 0 1 0 1.7 0a0.85 0.85 0 1 0 -1.7 0M373.15 173.4a0.85 0.85 0 1 0 1.7 0a0.85 0.85 0 1 0 -1.7 0M378.75 177.7a0.85 0.85 0 1 0 1.7 0a0.85 0.85 0 1 0 -1.7 0M383.33 176.7a0.85 0.85 0 1 0 1.7 0a0.85 0.85 0 1 0 -1.7 0M388.93 177.7a0.85 0.85 0 1 0 1.7 0a0.85 0.85 0 1 0 -1.7 0M384.60 182.5a0.85 0.85 0 1 0 1.7 0a0.85 0.85 0 1 0 -1.7 0M396.57 185.6a0.85 0.85 0 1 0 1.7 0a0.85 0.85 0 1 0 -1.7 0M363.85 132.6a0.85 0.85 0 1 0 1.7 0a0.85 0.85 0 1 0 -1.7 0M364.88 147.8a0.85 0.85 0 1 0 1.7 0a0.85 0.85 0 1 0 -1.7 0M304.18 155.8a0.85 0.85 0 1 0 1.7 0a0.85 0.85 0 1 0 -1.7 0M308.57 160.4a0.85 0.85 0 1 0 1.7 0a0.85 0.85 0 1 0 -1.7 0M326.01 159.1a0.85 0.85 0 1 0 1.7 0a0.85 0.85 0 1 0 -1.7 0M331.30 166.2a0.85 0.85 0 1 0 1.7 0a0.85 0.85 0 1 0 -1.7 0M340.99 164.2a0.85 0.85 0 1 0 1.7 0a0.85 0.85 0 1 0 -1.7 0M340.99 169.2a0.85 0.85 0 1 0 1.7 0a0.85 0.85 0 1 0 -1.7 0M339.96 171.7a0.85 0.85 0 1 0 1.7 0a0.85 0.85 0 1 0 -1.7 0M313.09 170.7a0.85 0.85 0 1 0 1.7 0a0.85 0.85 0 1 0 -1.7 0M330.27 178.7a0.85 0.85 0 1 0 1.7 0a0.85 0.85 0 1 0 -1.7 0M333.76 177.5a0.85 0.85 0 1 0 1.7 0a0.85 0.85 0 1 0 -1.7 0M353.13 175.0a0.85 0.85 0 1 0 1.7 0a0.85 0.85 0 1 0 -1.7 0M354.16 178.7a0.85 0.85 0 1 0 1.7 0a0.85 0.85 0 1 0 -1.7 0M363.85 168.1a0.85 0.85 0 1 0 1.7 0a0.85 0.85 0 1 0 -1.7 0M362.82 174.6a0.85 0.85 0 1 0 1.7 0a0.85 0.85 0 1 0 -1.7 0M366.18 176.9a0.85 0.85 0 1 0 1.7 0a0.85 0.85 0 1 0 -1.7 0M363.85 178.5a0.85 0.85 0 1 0 1.7 0a0.85 0.85 0 1 0 -1.7 0M371.86 168.1a0.85 0.85 0 1 0 1.7 0a0.85 0.85 0 1 0 -1.7 0M372.25 178.5a0.85 0.85 0 1 0 1.7 0a0.85 0.85 0 1 0 -1.7 0M341.14 164.0a0.85 0.85 0 1 0 1.7 0a0.85 0.85 0 1 0 -1.7 0M341.14 169.0a0.85 0.85 0 1 0 1.7 0a0.85 0.85 0 1 0 -1.7 0M339.81 171.7a0.85 0.85 0 1 0 1.7 0a0.85 0.85 0 1 0 -1.7 0M363.72 168.2a0.85 0.85 0 1 0 1.7 0a0.85 0.85 0 1 0 -1.7 0M370.36 165.0a0.85 0.85 0 1 0 1.7 0a0.85 0.85 0 1 0 -1.7 0M372.36 168.0a0.85 0.85 0 1 0 1.7 0a0.85 0.85 0 1 0 -1.7 0M375.68 166.0a0.85 0.85 0 1 0 1.7 0a0.85 0.85 0 1 0 -1.7 0M375.68 168.2a0.85 0.85 0 1 0 1.7 0a0.85 0.85 0 1 0 -1.7 0M396.53 160.7a0.85 0.85 0 1 0 1.7 0a0.85 0.85 0 1 0 -1.7 0M405.30 162.4a0.85 0.85 0 1 0 1.7 0a0.85 0.85 0 1 0 -1.7 0M394.94 167.3a0.85 0.85 0 1 0 1.7 0a0.85 0.85 0 1 0 -1.7 0M353.10 174.6a0.85 0.85 0 1 0 1.7 0a0.85 0.85 0 1 0 -1.7 0M354.43 178.6a0.85 0.85 0 1 0 1.7 0a0.85 0.85 0 1 0 -1.7 0M363.06 174.9a0.85 0.85 0 1 0 1.7 0a0.85 0.85 0 1 0 -1.7 0M364.39 178.3a0.85 0.85 0 1 0 1.7 0a0.85 0.85 0 1 0 -1.7 0M366.38 176.6a0.85 0.85 0 1 0 1.7 0a0.85 0.85 0 1 0 -1.7 0M373.69 173.9a0.85 0.85 0 1 0 1.7 0a0.85 0.85 0 1 0 -1.7 0M365.72 181.0a0.85 0.85 0 1 0 1.7 0a0.85 0.85 0 1 0 -1.7 0M367.04 180.6a0.85 0.85 0 1 0 1.7 0a0.85 0.85 0 1 0 -1.7 0M359.07 180.6a0.85 0.85 0 1 0 1.7 0a0.85 0.85 0 1 0 -1.7 0M355.75 184.6a0.85 0.85 0 1 0 1.7 0a0.85 0.85 0 1 0 -1.7 0M351.37 183.6a0.85 0.85 0 1 0 1.7 0a0.85 0.85 0 1 0 -1.7 0M353.76 181.9a0.85 0.85 0 1 0 1.7 0a0.85 0.85 0 1 0 -1.7 0M345.13 185.5a0.85 0.85 0 1 0 1.7 0a0.85 0.85 0 1 0 -1.7 0M352.43 186.6a0.85 0.85 0 1 0 1.7 0a0.85 0.85 0 1 0 -1.7 0M344.46 189.9a0.85 0.85 0 1 0 1.7 0a0.85 0.85 0 1 0 -1.7 0M343.80 191.2a0.85 0.85 0 1 0 1.7 0a0.85 0.85 0 1 0 -1.7 0M351.10 190.3a0.85 0.85 0 1 0 1.7 0a0.85 0.85 0 1 0 -1.7 0M363.72 189.2a0.85 0.85 0 1 0 1.7 0a0.85 0.85 0 1 0 -1.7 0M364.39 189.5a0.85 0.85 0 1 0 1.7 0a0.85 0.85 0 1 0 -1.7 0M371.43 185.5a0.85 0.85 0 1 0 1.7 0a0.85 0.85 0 1 0 -1.7 0M378.73 177.5a0.85 0.85 0 1 0 1.7 0a0.85 0.85 0 1 0 -1.7 0M383.25 177.0a0.85 0.85 0 1 0 1.7 0a0.85 0.85 0 1 0 -1.7 0M388.56 177.5a0.85 0.85 0 1 0 1.7 0a0.85 0.85 0 1 0 -1.7 0M384.58 182.6a0.85 0.85 0 1 0 1.7 0a0.85 0.85 0 1 0 -1.7 0M396.53 185.2a0.85 0.85 0 1 0 1.7 0a0.85 0.85 0 1 0 -1.7 0M372.36 178.6a0.85 0.85 0 1 0 1.7 0a0.85 0.85 0 1 0 -1.7 0M339.81 199.6a0.85 0.85 0 1 0 1.7 0a0.85 0.85 0 1 0 -1.7 0M343.13 199.2a0.85 0.85 0 1 0 1.7 0a0.85 0.85 0 1 0 -1.7 0M344.46 197.2a0.85 0.85 0 1 0 1.7 0a0.85 0.85 0 1 0 -1.7 0M346.46 195.9a0.85 0.85 0 1 0 1.7 0a0.85 0.85 0 1 0 -1.7 0M353.76 195.2a0.85 0.85 0 1 0 1.7 0a0.85 0.85 0 1 0 -1.7 0M363.72 197.9a0.85 0.85 0 1 0 1.7 0a0.85 0.85 0 1 0 -1.7 0M372.36 197.2a0.85 0.85 0 1 0 1.7 0a0.85 0.85 0 1 0 -1.7 0M369.43 202.2a0.85 0.85 0 1 0 1.7 0a0.85 0.85 0 1 0 -1.7 0M402.64 202.2a0.85 0.85 0 1 0 1.7 0a0.85 0.85 0 1 0 -1.7 0M358.41 205.2a0.85 0.85 0 1 0 1.7 0a0.85 0.85 0 1 0 -1.7 0M359.74 205.8a0.85 0.85 0 1 0 1.7 0a0.85 0.85 0 1 0 -1.7 0M360.40 203.8a0.85 0.85 0 1 0 1.7 0a0.85 0.85 0 1 0 -1.7 0M339.81 205.2a0.85 0.85 0 1 0 1.7 0a0.85 0.85 0 1 0 -1.7 0M339.81 207.8a0.85 0.85 0 1 0 1.7 0a0.85 0.85 0 1 0 -1.7 0M341.14 213.8a0.85 0.85 0 1 0 1.7 0a0.85 0.85 0 1 0 -1.7 0M345.13 213.8a0.85 0.85 0 1 0 1.7 0a0.85 0.85 0 1 0 -1.7 0M341.14 216.5a0.85 0.85 0 1 0 1.7 0a0.85 0.85 0 1 0 -1.7 0M341.14 218.5a0.85 0.85 0 1 0 1.7 0a0.85 0.85 0 1 0 -1.7 0M343.80 215.1a0.85 0.85 0 1 0 1.7 0a0.85 0.85 0 1 0 -1.7 0M347.78 215.8a0.85 0.85 0 1 0 1.7 0a0.85 0.85 0 1 0 -1.7 0M353.76 211.8a0.85 0.85 0 1 0 1.7 0a0.85 0.85 0 1 0 -1.7 0M356.42 213.8a0.85 0.85 0 1 0 1.7 0a0.85 0.85 0 1 0 -1.7 0M359.07 215.8a0.85 0.85 0 1 0 1.7 0a0.85 0.85 0 1 0 -1.7 0M360.40 216.9a0.85 0.85 0 1 0 1.7 0a0.85 0.85 0 1 0 -1.7 0M362.79 212.5a0.85 0.85 0 1 0 1.7 0a0.85 0.85 0 1 0 -1.7 0M343.13 222.2a0.85 0.85 0 1 0 1.7 0a0.85 0.85 0 1 0 -1.7 0M346.46 221.4a0.85 0.85 0 1 0 1.7 0a0.85 0.85 0 1 0 -1.7 0M358.41 227.1a0.85 0.85 0 1 0 1.7 0a0.85 0.85 0 1 0 -1.7 0M312.93 182.5a0.85 0.85 0 1 0 1.7 0a0.85 0.85 0 1 0 -1.7 0M333.57 182.5a0.85 0.85 0 1 0 1.7 0a0.85 0.85 0 1 0 -1.7 0M336.57 180.5a0.85 0.85 0 1 0 1.7 0a0.85 0.85 0 1 0 -1.7 0M305.15 191.5a0.85 0.85 0 1 0 1.7 0a0.85 0.85 0 1 0 -1.7 0M307.34 189.5a0.85 0.85 0 1 0 1.7 0a0.85 0.85 0 1 0 -1.7 0M312.93 189.5a0.85 0.85 0 1 0 1.7 0a0.85 0.85 0 1 0 -1.7 0M332.58 187.5a0.85 0.85 0 1 0 1.7 0a0.85 0.85 0 1 0 -1.7 0M334.87 188.5a0.85 0.85 0 1 0 1.7 0a0.85 0.85 0 1 0 -1.7 0M313.62 195.4a0.85 0.85 0 1 0 1.7 0a0.85 0.85 0 1 0 -1.7 0M327.59 194.9a0.85 0.85 0 1 0 1.7 0a0.85 0.85 0 1 0 -1.7 0M333.57 194.9a0.85 0.85 0 1 0 1.7 0a0.85 0.85 0 1 0 -1.7 0M335.07 195.9a0.85 0.85 0 1 0 1.7 0a0.85 0.85 0 1 0 -1.7 0M310.63 199.9a0.85 0.85 0 1 0 1.7 0a0.85 0.85 0 1 0 -1.7 0M313.62 201.4a0.85 0.85 0 1 0 1.7 0a0.85 0.85 0 1 0 -1.7 0M325.89 199.4a0.85 0.85 0 1 0 1.7 0a0.85 0.85 0 1 0 -1.7 0M327.09 197.9a0.85 0.85 0 1 0 1.7 0a0.85 0.85 0 1 0 -1.7 0M330.58 197.4a0.85 0.85 0 1 0 1.7 0a0.85 0.85 0 1 0 -1.7 0M332.08 198.9a0.85 0.85 0 1 0 1.7 0a0.85 0.85 0 1 0 -1.7 0M333.08 200.9a0.85 0.85 0 1 0 1.7 0a0.85 0.85 0 1 0 -1.7 0M334.07 200.4a0.85 0.85 0 1 0 1.7 0a0.85 0.85 0 1 0 -1.7 0M323.60 202.9a0.85 0.85 0 1 0 1.7 0a0.85 0.85 0 1 0 -1.7 0M325.59 203.9a0.85 0.85 0 1 0 1.7 0a0.85 0.85 0 1 0 -1.7 0M331.08 203.9a0.85 0.85 0 1 0 1.7 0a0.85 0.85 0 1 0 -1.7 0M333.08 203.9a0.85 0.85 0 1 0 1.7 0a0.85 0.85 0 1 0 -1.7 0M335.07 203.4a0.85 0.85 0 1 0 1.7 0a0.85 0.85 0 1 0 -1.7 0M337.56 199.9a0.85 0.85 0 1 0 1.7 0a0.85 0.85 0 1 0 -1.7 0M340.06 199.4a0.85 0.85 0 1 0 1.7 0a0.85 0.85 0 1 0 -1.7 0M341.55 201.4a0.85 0.85 0 1 0 1.7 0a0.85 0.85 0 1 0 -1.7 0M318.61 207.9a0.85 0.85 0 1 0 1.7 0a0.85 0.85 0 1 0 -1.7 0M327.09 208.4a0.85 0.85 0 1 0 1.7 0a0.85 0.85 0 1 0 -1.7 0M329.58 205.9a0.85 0.85 0 1 0 1.7 0a0.85 0.85 0 1 0 -1.7 0M332.08 206.9a0.85 0.85 0 1 0 1.7 0a0.85 0.85 0 1 0 -1.7 0M334.07 206.4a0.85 0.85 0 1 0 1.7 0a0.85 0.85 0 1 0 -1.7 0M336.07 206.4a0.85 0.85 0 1 0 1.7 0a0.85 0.85 0 1 0 -1.7 0M338.56 205.9a0.85 0.85 0 1 0 1.7 0a0.85 0.85 0 1 0 -1.7 0M340.06 207.9a0.85 0.85 0 1 0 1.7 0a0.85 0.85 0 1 0 -1.7 0M337.07 202.9a0.85 0.85 0 1 0 1.7 0a0.85 0.85 0 1 0 -1.7 0M328.09 205.4a0.85 0.85 0 1 0 1.7 0a0.85 0.85 0 1 0 -1.7 0M314.12 206.4a0.85 0.85 0 1 0 1.7 0a0.85 0.85 0 1 0 -1.7 0M307.64 212.4a0.85 0.85 0 1 0 1.7 0a0.85 0.85 0 1 0 -1.7 0M313.13 211.4a0.85 0.85 0 1 0 1.7 0a0.85 0.85 0 1 0 -1.7 0M314.62 212.4a0.85 0.85 0 1 0 1.7 0a0.85 0.85 0 1 0 -1.7 0M321.60 211.9a0.85 0.85 0 1 0 1.7 0a0.85 0.85 0 1 0 -1.7 0M324.10 212.9a0.85 0.85 0 1 0 1.7 0a0.85 0.85 0 1 0 -1.7 0M326.09 211.9a0.85 0.85 0 1 0 1.7 0a0.85 0.85 0 1 0 -1.7 0M332.08 211.4a0.85 0.85 0 1 0 1.7 0a0.85 0.85 0 1 0 -1.7 0M333.57 210.4a0.85 0.85 0 1 0 1.7 0a0.85 0.85 0 1 0 -1.7 0M338.06 212.9a0.85 0.85 0 1 0 1.7 0a0.85 0.85 0 1 0 -1.7 0M341.06 213.9a0.85 0.85 0 1 0 1.7 0a0.85 0.85 0 1 0 -1.7 0M341.06 217.9a0.85 0.85 0 1 0 1.7 0a0.85 0.85 0 1 0 -1.7 0M342.55 221.8a0.85 0.85 0 1 0 1.7 0a0.85 0.85 0 1 0 -1.7 0M338.56 215.9a0.85 0.85 0 1 0 1.7 0a0.85 0.85 0 1 0 -1.7 0M333.57 214.4a0.85 0.85 0 1 0 1.7 0a0.85 0.85 0 1 0 -1.7 0M332.08 219.9a0.85 0.85 0 1 0 1.7 0a0.85 0.85 0 1 0 -1.7 0M330.08 220.8a0.85 0.85 0 1 0 1.7 0a0.85 0.85 0 1 0 -1.7 0M335.07 220.8a0.85 0.85 0 1 0 1.7 0a0.85 0.85 0 1 0 -1.7 0M327.59 220.8a0.85 0.85 0 1 0 1.7 0a0.85 0.85 0 1 0 -1.7 0M324.60 220.4a0.85 0.85 0 1 0 1.7 0a0.85 0.85 0 1 0 -1.7 0M324.10 223.8a0.85 0.85 0 1 0 1.7 0a0.85 0.85 0 1 0 -1.7 0M326.09 225.8a0.85 0.85 0 1 0 1.7 0a0.85 0.85 0 1 0 -1.7 0M330.58 225.8a0.85 0.85 0 1 0 1.7 0a0.85 0.85 0 1 0 -1.7 0M332.08 226.3a0.85 0.85 0 1 0 1.7 0a0.85 0.85 0 1 0 -1.7 0M321.11 227.3a0.85 0.85 0 1 0 1.7 0a0.85 0.85 0 1 0 -1.7 0M323.10 228.8a0.85 0.85 0 1 0 1.7 0a0.85 0.85 0 1 0 -1.7 0M324.60 229.8a0.85 0.85 0 1 0 1.7 0a0.85 0.85 0 1 0 -1.7 0M327.09 229.8a0.85 0.85 0 1 0 1.7 0a0.85 0.85 0 1 0 -1.7 0M311.13 214.4a0.85 0.85 0 1 0 1.7 0a0.85 0.85 0 1 0 -1.7 0M312.63 215.4a0.85 0.85 0 1 0 1.7 0a0.85 0.85 0 1 0 -1.7 0M309.14 218.9a0.85 0.85 0 1 0 1.7 0a0.85 0.85 0 1 0 -1.7 0M311.63 218.9a0.85 0.85 0 1 0 1.7 0a0.85 0.85 0 1 0 -1.7 0M313.13 219.9a0.85 0.85 0 1 0 1.7 0a0.85 0.85 0 1 0 -1.7 0M305.64 219.9a0.85 0.85 0 1 0 1.7 0a0.85 0.85 0 1 0 -1.7 0M306.14 217.9a0.85 0.85 0 1 0 1.7 0a0.85 0.85 0 1 0 -1.7 0M307.14 214.9a0.85 0.85 0 1 0 1.7 0a0.85 0.85 0 1 0 -1.7 0M307.13 211.9a0.85 0.85 0 1 0 1.7 0a0.85 0.85 0 1 0 -1.7 0M304.47 218.0a0.85 0.85 0 1 0 1.7 0a0.85 0.85 0 1 0 -1.7 0M305.84 213.8a0.85 0.85 0 1 0 1.7 0a0.85 0.85 0 1 0 -1.7 0M305.27 220.5a0.85 0.85 0 1 0 1.7 0a0.85 0.85 0 1 0 -1.7 0M305.30 216.7a0.85 0.85 0 1 0 1.7 0a0.85 0.85 0 1 0 -1.7 0M305.55 215.2a0.85 0.85 0 1 0 1.7 0a0.85 0.85 0 1 0 -1.7 0M308.39 221.0a0.85 0.85 0 1 0 1.7 0a0.85 0.85 0 1 0 -1.7 0M305.59 213.0a0.85 0.85 0 1 0 1.7 0a0.85 0.85 0 1 0 -1.7 0M307.63 213.0a0.85 0.85 0 1 0 1.7 0a0.85 0.85 0 1 0 -1.7 0M303.58 220.0a0.85 0.85 0 1 0 1.7 0a0.85 0.85 0 1 0 -1.7 0M305.92 219.2a0.85 0.85 0 1 0 1.7 0a0.85 0.85 0 1 0 -1.7 0M305.82 219.8a0.85 0.85 0 1 0 1.7 0a0.85 0.85 0 1 0 -1.7 0M306.13 212.6a0.85 0.85 0 1 0 1.7 0a0.85 0.85 0 1 0 -1.7 0M303.63 216.5a0.85 0.85 0 1 0 1.7 0a0.85 0.85 0 1 0 -1.7 0M307.14 220.1a0.85 0.85 0 1 0 1.7 0a0.85 0.85 0 1 0 -1.7 0M304.05 217.2a0.85 0.85 0 1 0 1.7 0a0.85 0.85 0 1 0 -1.7 0M305.63 216.0a0.85 0.85 0 1 0 1.7 0a0.85 0.85 0 1 0 -1.7 0M304.37 213.8a0.85 0.85 0 1 0 1.7 0a0.85 0.85 0 1 0 -1.7 0M313.26 219.3a0.85 0.85 0 1 0 1.7 0a0.85 0.85 0 1 0 -1.7 0M311.19 214.9a0.85 0.85 0 1 0 1.7 0a0.85 0.85 0 1 0 -1.7 0M314.67 219.7a0.85 0.85 0 1 0 1.7 0a0.85 0.85 0 1 0 -1.7 0M311.64 211.3a0.85 0.85 0 1 0 1.7 0a0.85 0.85 0 1 0 -1.7 0M315.37 219.8a0.85 0.85 0 1 0 1.7 0a0.85 0.85 0 1 0 -1.7 0M313.06 210.5a0.85 0.85 0 1 0 1.7 0a0.85 0.85 0 1 0 -1.7 0M315.28 213.9a0.85 0.85 0 1 0 1.7 0a0.85 0.85 0 1 0 -1.7 0M315.17 216.2a0.85 0.85 0 1 0 1.7 0a0.85 0.85 0 1 0 -1.7 0M314.77 211.6a0.85 0.85 0 1 0 1.7 0a0.85 0.85 0 1 0 -1.7 0M314.58 212.2a0.85 0.85 0 1 0 1.7 0a0.85 0.85 0 1 0 -1.7 0M312.67 218.5a0.85 0.85 0 1 0 1.7 0a0.85 0.85 0 1 0 -1.7 0M314.80 211.8a0.85 0.85 0 1 0 1.7 0a0.85 0.85 0 1 0 -1.7 0M311.74 214.0a0.85 0.85 0 1 0 1.7 0a0.85 0.85 0 1 0 -1.7 0M313.24 213.8a0.85 0.85 0 1 0 1.7 0a0.85 0.85 0 1 0 -1.7 0M317.20 215.0a0.85 0.85 0 1 0 1.7 0a0.85 0.85 0 1 0 -1.7 0M319.91 220.2a0.85 0.85 0 1 0 1.7 0a0.85 0.85 0 1 0 -1.7 0M316.83 217.5a0.85 0.85 0 1 0 1.7 0a0.85 0.85 0 1 0 -1.7 0M320.06 213.3a0.85 0.85 0 1 0 1.7 0a0.85 0.85 0 1 0 -1.7 0M320.42 213.9a0.85 0.85 0 1 0 1.7 0a0.85 0.85 0 1 0 -1.7 0M319.35 217.4a0.85 0.85 0 1 0 1.7 0a0.85 0.85 0 1 0 -1.7 0M319.47 215.4a0.85 0.85 0 1 0 1.7 0a0.85 0.85 0 1 0 -1.7 0M318.54 217.7a0.85 0.85 0 1 0 1.7 0a0.85 0.85 0 1 0 -1.7 0M318.57 218.3a0.85 0.85 0 1 0 1.7 0a0.85 0.85 0 1 0 -1.7 0M324.72 224.4a0.85 0.85 0 1 0 1.7 0a0.85 0.85 0 1 0 -1.7 0M321.34 227.0a0.85 0.85 0 1 0 1.7 0a0.85 0.85 0 1 0 -1.7 0M325.07 221.4a0.85 0.85 0 1 0 1.7 0a0.85 0.85 0 1 0 -1.7 0M327.26 229.3a0.85 0.85 0 1 0 1.7 0a0.85 0.85 0 1 0 -1.7 0M324.82 220.6a0.85 0.85 0 1 0 1.7 0a0.85 0.85 0 1 0 -1.7 0M324.94 219.6a0.85 0.85 0 1 0 1.7 0a0.85 0.85 0 1 0 -1.7 0M322.18 224.2a0.85 0.85 0 1 0 1.7 0a0.85 0.85 0 1 0 -1.7 0M321.88 224.4a0.85 0.85 0 1 0 1.7 0a0.85 0.85 0 1 0 -1.7 0M325.23 218.6a0.85 0.85 0 1 0 1.7 0a0.85 0.85 0 1 0 -1.7 0M326.24 219.2a0.85 0.85 0 1 0 1.7 0a0.85 0.85 0 1 0 -1.7 0M327.02 229.3a0.85 0.85 0 1 0 1.7 0a0.85 0.85 0 1 0 -1.7 0M325.24 218.8a0.85 0.85 0 1 0 1.7 0a0.85 0.85 0 1 0 -1.7 0" fill="#7650e0"/>
<linearGradient id="gb1" x1="0" y1="0" x2="0" y2="1"><stop offset="0" stop-color="#5a3cff"/><stop offset="0.35" stop-color="#3a62fc"/><stop offset="0.65" stop-color="#26a6f0"/><stop offset="1" stop-color="#40e0c8"/></linearGradient>
<linearGradient id="gb1b" x1="0" y1="0" x2="0" y2="1"><stop offset="0" stop-color="#6034ff"/><stop offset="0.6" stop-color="#4a48ff"/><stop offset="1" stop-color="#3a66f8"/></linearGradient>
<rect x="304.4" y="219" width="5.8" height="13.5" fill="url(#gb1)" filter="url(#soft)"/>
<rect x="311.2" y="218.5" width="5.2" height="14" fill="url(#gb1)" filter="url(#soft)"/>
<rect x="317.8" y="219" width="3.8" height="13.5" fill="url(#gb1b)" filter="url(#soft)"/>
<line x1="304.4" y1="232.5" x2="513.0" y2="20.8" stroke="#e8899a" stroke-width="1"/>
<line x1="304.4" y1="231.89" x2="513.0" y2="70.90" stroke="#8c8ce8" stroke-width="1"/>
</g>
<path d="M303.7 20.8H513.0V233.2" fill="none" stroke="#8e8e8e" stroke-width="1.9"/>
<path d="M304.4 19.900000000000002V232.5H513.9" fill="none" stroke="#555" stroke-width="1.3"/>
<line x1="304.40" y1="232.5" x2="304.40" y2="235.5" stroke="#444" stroke-width="1"/>
<line x1="301.4" y1="232.50" x2="304.4" y2="232.50" stroke="#444" stroke-width="1"/>
<text x="304.40" y="246.00" text-anchor="middle">0</text>
<text x="299.90" y="236.20" text-anchor="end">0</text>
<line x1="330.47" y1="232.5" x2="330.47" y2="235.5" stroke="#444" stroke-width="1"/>
<line x1="301.4" y1="206.04" x2="304.4" y2="206.04" stroke="#444" stroke-width="1"/>
<text x="330.47" y="246.00" text-anchor="middle">20</text>
<text x="299.90" y="209.74" text-anchor="end">20</text>
<line x1="356.55" y1="232.5" x2="356.55" y2="235.5" stroke="#444" stroke-width="1"/>
<line x1="301.4" y1="179.57" x2="304.4" y2="179.57" stroke="#444" stroke-width="1"/>
<text x="356.55" y="246.00" text-anchor="middle">40</text>
<text x="299.90" y="183.27" text-anchor="end">40</text>
<line x1="382.62" y1="232.5" x2="382.62" y2="235.5" stroke="#444" stroke-width="1"/>
<line x1="301.4" y1="153.11" x2="304.4" y2="153.11" stroke="#444" stroke-width="1"/>
<text x="382.62" y="246.00" text-anchor="middle">60</text>
<text x="299.90" y="156.81" text-anchor="end">60</text>
<line x1="408.70" y1="232.5" x2="408.70" y2="235.5" stroke="#444" stroke-width="1"/>
<line x1="301.4" y1="126.65" x2="304.4" y2="126.65" stroke="#444" stroke-width="1"/>
<text x="408.70" y="246.00" text-anchor="middle">80</text>
<text x="299.90" y="130.35" text-anchor="end">80</text>
<line x1="434.77" y1="232.5" x2="434.77" y2="235.5" stroke="#444" stroke-width="1"/>
<line x1="301.4" y1="100.19" x2="304.4" y2="100.19" stroke="#444" stroke-width="1"/>
<text x="434.77" y="246.00" text-anchor="middle">100</text>
<text x="299.90" y="103.89" text-anchor="end">100</text>
<line x1="460.85" y1="232.5" x2="460.85" y2="235.5" stroke="#444" stroke-width="1"/>
<line x1="301.4" y1="73.72" x2="304.4" y2="73.72" stroke="#444" stroke-width="1"/>
<text x="460.85" y="246.00" text-anchor="middle">120</text>
<text x="299.90" y="77.42" text-anchor="end">120</text>
<line x1="486.93" y1="232.5" x2="486.93" y2="235.5" stroke="#444" stroke-width="1"/>
<line x1="301.4" y1="47.26" x2="304.4" y2="47.26" stroke="#444" stroke-width="1"/>
<text x="486.93" y="246.00" text-anchor="middle">140</text>
<text x="299.90" y="50.96" text-anchor="end">140</text>
<line x1="513.00" y1="232.5" x2="513.00" y2="235.5" stroke="#444" stroke-width="1"/>
<line x1="301.4" y1="20.80" x2="304.4" y2="20.80" stroke="#444" stroke-width="1"/>
<text x="513.00" y="246.00" text-anchor="middle">160</text>
<text x="299.90" y="24.50" text-anchor="end">160</text>
<text x="407.40" y="12.10" text-anchor="middle">(b1)</text>
<text x="407.90" y="263.40" text-anchor="middle" font-size="10.6" textLength="122.14" lengthAdjust="spacingAndGlyphs">Station Observed SD (cm)</text>
<text transform="translate(276.50,127.60) rotate(-90)" text-anchor="middle" textLength="88.94" lengthAdjust="spacingAndGlyphs">Estimated SD (cm)</text>
<text x="308.90" y="36.30" textLength="57.75" lengthAdjust="spacingAndGlyphs">RMSE: 2.725</text>
<text x="308.90" y="48.60" textLength="53.41" lengthAdjust="spacingAndGlyphs">MAE: 0.880</text>
<text x="308.90" y="60.90">MBE:<tspan dx="1">−0.259</tspan></text>
<text x="308.90" y="73.20">R<tspan dx="0.3" dy="-3.9" font-size="8.6">2</tspan><tspan dx="1.3" dy="3.9">: 0.698</tspan></text>
<text x="501.50" y="206.24" text-anchor="end" textLength="80" lengthAdjust="spacingAndGlyphs">y = 0.760x + 0.080</text>
<clipPath id="ca2"><rect x="41.3" y="294.5" width="208.50" height="211.80"/></clipPath>
<g clip-path="url(#ca2)">
<path d="M179.44 363.4a0.92 0.92 0 1 0 1.84 0a0.92 0.92 0 1 0 -1.84 0M187.15 365.7a0.92 0.92 0 1 0 1.84 0a0.92 0.92 0 1 0 -1.84 0M196.46 364.1a0.92 0.92 0 1 0 1.84 0a0.92 0.92 0 1 0 -1.84 0M196.46 368.3a0.92 0.92 0 1 0 1.84 0a0.92 0.92 0 1 0 -1.84 0M204.17 363.1a0.92 0.92 0 1 0 1.84 0a0.92 0.92 0 1 0 -1.84 0M178.28 381.7a0.92 0.92 0 1 0 1.84 0a0.92 0.92 0 1 0 -1.84 0M180.90 383.9a0.92 0.92 0 1 0 1.84 0a0.92 0.92 0 1 0 -1.84 0M188.61 384.5a0.92 0.92 0 1 0 1.84 0a0.92 0.92 0 1 0 -1.84 0M166.64 384.5a0.92 0.92 0 1 0 1.84 0a0.92 0.92 0 1 0 -1.84 0M168.10 386.4a0.92 0.92 0 1 0 1.84 0a0.92 0.92 0 1 0 -1.84 0M161.55 391.5a0.92 0.92 0 1 0 1.84 0a0.92 0.92 0 1 0 -1.84 0M172.90 391.5a0.92 0.92 0 1 0 1.84 0a0.92 0.92 0 1 0 -1.84 0M174.35 392.5a0.92 0.92 0 1 0 1.84 0a0.92 0.92 0 1 0 -1.84 0M170.28 394.4a0.92 0.92 0 1 0 1.84 0a0.92 0.92 0 1 0 -1.84 0M170.72 395.9a0.92 0.92 0 1 0 1.84 0a0.92 0.92 0 1 0 -1.84 0M163.01 400.0a0.92 0.92 0 1 0 1.84 0a0.92 0.92 0 1 0 -1.84 0M164.17 403.2a0.92 0.92 0 1 0 1.84 0a0.92 0.92 0 1 0 -1.84 0M167.81 401.0a0.92 0.92 0 1 0 1.84 0a0.92 0.92 0 1 0 -1.84 0M168.53 400.7a0.92 0.92 0 1 0 1.84 0a0.92 0.92 0 1 0 -1.84 0M183.52 402.1a0.92 0.92 0 1 0 1.84 0a0.92 0.92 0 1 0 -1.84 0M196.46 405.0a0.92 0.92 0 1 0 1.84 0a0.92 0.92 0 1 0 -1.84 0M133.10 397.8a0.92 0.92 0 1 0 1.84 0a0.92 0.92 0 1 0 -1.84 0M148.05 397.4a0.92 0.92 0 1 0 1.84 0a0.92 0.92 0 1 0 -1.84 0M153.91 399.6a0.92 0.92 0 1 0 1.84 0a0.92 0.92 0 1 0 -1.84 0M156.68 397.2a0.92 0.92 0 1 0 1.84 0a0.92 0.92 0 1 0 -1.84 0M157.79 404.4a0.92 0.92 0 1 0 1.84 0a0.92 0.92 0 1 0 -1.84 0M163.32 400.0a0.92 0.92 0 1 0 1.84 0a0.92 0.92 0 1 0 -1.84 0M167.75 401.1a0.92 0.92 0 1 0 1.84 0a0.92 0.92 0 1 0 -1.84 0M164.10 403.3a0.92 0.92 0 1 0 1.84 0a0.92 0.92 0 1 0 -1.84 0M152.25 403.3a0.92 0.92 0 1 0 1.84 0a0.92 0.92 0 1 0 -1.84 0M153.91 404.4a0.92 0.92 0 1 0 1.84 0a0.92 0.92 0 1 0 -1.84 0M148.38 406.1a0.92 0.92 0 1 0 1.84 0a0.92 0.92 0 1 0 -1.84 0M151.15 407.7a0.92 0.92 0 1 0 1.84 0a0.92 0.92 0 1 0 -1.84 0M142.29 405.5a0.92 0.92 0 1 0 1.84 0a0.92 0.92 0 1 0 -1.84 0M139.52 412.2a0.92 0.92 0 1 0 1.84 0a0.92 0.92 0 1 0 -1.84 0M141.18 414.9a0.92 0.92 0 1 0 1.84 0a0.92 0.92 0 1 0 -1.84 0M151.15 412.2a0.92 0.92 0 1 0 1.84 0a0.92 0.92 0 1 0 -1.84 0M161.11 411.1a0.92 0.92 0 1 0 1.84 0a0.92 0.92 0 1 0 -1.84 0M157.79 417.1a0.92 0.92 0 1 0 1.84 0a0.92 0.92 0 1 0 -1.84 0M164.43 418.8a0.92 0.92 0 1 0 1.84 0a0.92 0.92 0 1 0 -1.84 0M147.27 417.1a0.92 0.92 0 1 0 1.84 0a0.92 0.92 0 1 0 -1.84 0M141.74 418.2a0.92 0.92 0 1 0 1.84 0a0.92 0.92 0 1 0 -1.84 0M134.54 414.4a0.92 0.92 0 1 0 1.84 0a0.92 0.92 0 1 0 -1.84 0M135.09 416.6a0.92 0.92 0 1 0 1.84 0a0.92 0.92 0 1 0 -1.84 0M135.65 418.2a0.92 0.92 0 1 0 1.84 0a0.92 0.92 0 1 0 -1.84 0M136.76 419.9a0.92 0.92 0 1 0 1.84 0a0.92 0.92 0 1 0 -1.84 0M132.88 419.9a0.92 0.92 0 1 0 1.84 0a0.92 0.92 0 1 0 -1.84 0M130.11 415.5a0.92 0.92 0 1 0 1.84 0a0.92 0.92 0 1 0 -1.84 0M127.90 421.6a0.92 0.92 0 1 0 1.84 0a0.92 0.92 0 1 0 -1.84 0M129.56 422.1a0.92 0.92 0 1 0 1.84 0a0.92 0.92 0 1 0 -1.84 0M125.13 424.9a0.92 0.92 0 1 0 1.84 0a0.92 0.92 0 1 0 -1.84 0M124.58 426.5a0.92 0.92 0 1 0 1.84 0a0.92 0.92 0 1 0 -1.84 0M126.24 427.1a0.92 0.92 0 1 0 1.84 0a0.92 0.92 0 1 0 -1.84 0M129.01 426.5a0.92 0.92 0 1 0 1.84 0a0.92 0.92 0 1 0 -1.84 0M132.88 424.9a0.92 0.92 0 1 0 1.84 0a0.92 0.92 0 1 0 -1.84 0M136.76 425.4a0.92 0.92 0 1 0 1.84 0a0.92 0.92 0 1 0 -1.84 0M138.97 425.4a0.92 0.92 0 1 0 1.84 0a0.92 0.92 0 1 0 -1.84 0M138.42 422.1a0.92 0.92 0 1 0 1.84 0a0.92 0.92 0 1 0 -1.84 0M117.71 413.8a0.92 0.92 0 1 0 1.84 0a0.92 0.92 0 1 0 -1.84 0M113.51 421.6a0.92 0.92 0 1 0 1.84 0a0.92 0.92 0 1 0 -1.84 0M110.74 427.7a0.92 0.92 0 1 0 1.84 0a0.92 0.92 0 1 0 -1.84 0M117.38 424.9a0.92 0.92 0 1 0 1.84 0a0.92 0.92 0 1 0 -1.84 0M118.49 424.3a0.92 0.92 0 1 0 1.84 0a0.92 0.92 0 1 0 -1.84 0M121.26 424.3a0.92 0.92 0 1 0 1.84 0a0.92 0.92 0 1 0 -1.84 0M122.36 419.9a0.92 0.92 0 1 0 1.84 0a0.92 0.92 0 1 0 -1.84 0M120.15 430.4a0.92 0.92 0 1 0 1.84 0a0.92 0.92 0 1 0 -1.84 0M117.94 431.5a0.92 0.92 0 1 0 1.84 0a0.92 0.92 0 1 0 -1.84 0M117.38 433.7a0.92 0.92 0 1 0 1.84 0a0.92 0.92 0 1 0 -1.84 0M121.26 434.3a0.92 0.92 0 1 0 1.84 0a0.92 0.92 0 1 0 -1.84 0M130.11 432.6a0.92 0.92 0 1 0 1.84 0a0.92 0.92 0 1 0 -1.84 0M148.38 428.2a0.92 0.92 0 1 0 1.84 0a0.92 0.92 0 1 0 -1.84 0M140.63 429.3a0.92 0.92 0 1 0 1.84 0a0.92 0.92 0 1 0 -1.84 0M140.08 434.3a0.92 0.92 0 1 0 1.84 0a0.92 0.92 0 1 0 -1.84 0M125.69 437.6a0.92 0.92 0 1 0 1.84 0a0.92 0.92 0 1 0 -1.84 0M129.01 437.1a0.92 0.92 0 1 0 1.84 0a0.92 0.92 0 1 0 -1.84 0M126.79 440.4a0.92 0.92 0 1 0 1.84 0a0.92 0.92 0 1 0 -1.84 0M122.36 437.6a0.92 0.92 0 1 0 1.84 0a0.92 0.92 0 1 0 -1.84 0M119.60 437.6a0.92 0.92 0 1 0 1.84 0a0.92 0.92 0 1 0 -1.84 0M111.29 436.0a0.92 0.92 0 1 0 1.84 0a0.92 0.92 0 1 0 -1.84 0M114.62 437.1a0.92 0.92 0 1 0 1.84 0a0.92 0.92 0 1 0 -1.84 0M114.06 439.3a0.92 0.92 0 1 0 1.84 0a0.92 0.92 0 1 0 -1.84 0M115.17 440.4a0.92 0.92 0 1 0 1.84 0a0.92 0.92 0 1 0 -1.84 0M112.40 441.5a0.92 0.92 0 1 0 1.84 0a0.92 0.92 0 1 0 -1.84 0M113.51 443.2a0.92 0.92 0 1 0 1.84 0a0.92 0.92 0 1 0 -1.84 0M118.49 442.6a0.92 0.92 0 1 0 1.84 0a0.92 0.92 0 1 0 -1.84 0M120.15 443.7a0.92 0.92 0 1 0 1.84 0a0.92 0.92 0 1 0 -1.84 0M109.63 444.8a0.92 0.92 0 1 0 1.84 0a0.92 0.92 0 1 0 -1.84 0M110.19 447.0a0.92 0.92 0 1 0 1.84 0a0.92 0.92 0 1 0 -1.84 0M111.85 448.1a0.92 0.92 0 1 0 1.84 0a0.92 0.92 0 1 0 -1.84 0M113.51 449.2a0.92 0.92 0 1 0 1.84 0a0.92 0.92 0 1 0 -1.84 0M110.74 450.9a0.92 0.92 0 1 0 1.84 0a0.92 0.92 0 1 0 -1.84 0M128.45 447.6a0.92 0.92 0 1 0 1.84 0a0.92 0.92 0 1 0 -1.84 0M122.36 444.8a0.92 0.92 0 1 0 1.84 0a0.92 0.92 0 1 0 -1.84 0M132.33 441.5a0.92 0.92 0 1 0 1.84 0a0.92 0.92 0 1 0 -1.84 0M136.76 439.3a0.92 0.92 0 1 0 1.84 0a0.92 0.92 0 1 0 -1.84 0M134.54 443.7a0.92 0.92 0 1 0 1.84 0a0.92 0.92 0 1 0 -1.84 0M121.26 453.1a0.92 0.92 0 1 0 1.84 0a0.92 0.92 0 1 0 -1.84 0M111.29 452.6a0.92 0.92 0 1 0 1.84 0a0.92 0.92 0 1 0 -1.84 0M109.63 453.7a0.92 0.92 0 1 0 1.84 0a0.92 0.92 0 1 0 -1.84 0M99.49 433.9a0.92 0.92 0 1 0 1.84 0a0.92 0.92 0 1 0 -1.84 0M104.47 437.2a0.92 0.92 0 1 0 1.84 0a0.92 0.92 0 1 0 -1.84 0M107.79 432.8a0.92 0.92 0 1 0 1.84 0a0.92 0.92 0 1 0 -1.84 0M114.43 431.7a0.92 0.92 0 1 0 1.84 0a0.92 0.92 0 1 0 -1.84 0M111.11 435.5a0.92 0.92 0 1 0 1.84 0a0.92 0.92 0 1 0 -1.84 0M70.70 444.4a0.92 0.92 0 1 0 1.84 0a0.92 0.92 0 1 0 -1.84 0M73.47 447.2a0.92 0.92 0 1 0 1.84 0a0.92 0.92 0 1 0 -1.84 0M78.45 444.9a0.92 0.92 0 1 0 1.84 0a0.92 0.92 0 1 0 -1.84 0M86.20 444.4a0.92 0.92 0 1 0 1.84 0a0.92 0.92 0 1 0 -1.84 0M88.42 442.2a0.92 0.92 0 1 0 1.84 0a0.92 0.92 0 1 0 -1.84 0M91.74 446.1a0.92 0.92 0 1 0 1.84 0a0.92 0.92 0 1 0 -1.84 0M96.72 440.5a0.92 0.92 0 1 0 1.84 0a0.92 0.92 0 1 0 -1.84 0M74.58 449.9a0.92 0.92 0 1 0 1.84 0a0.92 0.92 0 1 0 -1.84 0M81.22 452.1a0.92 0.92 0 1 0 1.84 0a0.92 0.92 0 1 0 -1.84 0M84.54 451.0a0.92 0.92 0 1 0 1.84 0a0.92 0.92 0 1 0 -1.84 0M86.76 449.9a0.92 0.92 0 1 0 1.84 0a0.92 0.92 0 1 0 -1.84 0M90.08 449.4a0.92 0.92 0 1 0 1.84 0a0.92 0.92 0 1 0 -1.84 0M97.27 444.9a0.92 0.92 0 1 0 1.84 0a0.92 0.92 0 1 0 -1.84 0M107.79 444.4a0.92 0.92 0 1 0 1.84 0a0.92 0.92 0 1 0 -1.84 0M111.11 442.2a0.92 0.92 0 1 0 1.84 0a0.92 0.92 0 1 0 -1.84 0M113.32 447.7a0.92 0.92 0 1 0 1.84 0a0.92 0.92 0 1 0 -1.84 0M111.11 454.9a0.92 0.92 0 1 0 1.84 0a0.92 0.92 0 1 0 -1.84 0M113.32 450.5a0.92 0.92 0 1 0 1.84 0a0.92 0.92 0 1 0 -1.84 0M118.31 443.3a0.92 0.92 0 1 0 1.84 0a0.92 0.92 0 1 0 -1.84 0M102.25 447.7a0.92 0.92 0 1 0 1.84 0a0.92 0.92 0 1 0 -1.84 0M75.69 456.6a0.92 0.92 0 1 0 1.84 0a0.92 0.92 0 1 0 -1.84 0M78.45 457.1a0.92 0.92 0 1 0 1.84 0a0.92 0.92 0 1 0 -1.84 0M81.22 459.9a0.92 0.92 0 1 0 1.84 0a0.92 0.92 0 1 0 -1.84 0M82.33 456.6a0.92 0.92 0 1 0 1.84 0a0.92 0.92 0 1 0 -1.84 0M86.76 458.8a0.92 0.92 0 1 0 1.84 0a0.92 0.92 0 1 0 -1.84 0M92.29 458.8a0.92 0.92 0 1 0 1.84 0a0.92 0.92 0 1 0 -1.84 0M95.06 457.1a0.92 0.92 0 1 0 1.84 0a0.92 0.92 0 1 0 -1.84 0M96.72 462.1a0.92 0.92 0 1 0 1.84 0a0.92 0.92 0 1 0 -1.84 0M100.59 459.9a0.92 0.92 0 1 0 1.84 0a0.92 0.92 0 1 0 -1.84 0M102.81 456.6a0.92 0.92 0 1 0 1.84 0a0.92 0.92 0 1 0 -1.84 0M104.47 454.4a0.92 0.92 0 1 0 1.84 0a0.92 0.92 0 1 0 -1.84 0M67.94 463.2a0.92 0.92 0 1 0 1.84 0a0.92 0.92 0 1 0 -1.84 0M73.47 466.5a0.92 0.92 0 1 0 1.84 0a0.92 0.92 0 1 0 -1.84 0M78.45 465.4a0.92 0.92 0 1 0 1.84 0a0.92 0.92 0 1 0 -1.84 0M81.77 463.2a0.92 0.92 0 1 0 1.84 0a0.92 0.92 0 1 0 -1.84 0M85.65 466.5a0.92 0.92 0 1 0 1.84 0a0.92 0.92 0 1 0 -1.84 0M88.97 464.3a0.92 0.92 0 1 0 1.84 0a0.92 0.92 0 1 0 -1.84 0M92.29 466.5a0.92 0.92 0 1 0 1.84 0a0.92 0.92 0 1 0 -1.84 0M95.61 466.5a0.92 0.92 0 1 0 1.84 0a0.92 0.92 0 1 0 -1.84 0M98.38 463.2a0.92 0.92 0 1 0 1.84 0a0.92 0.92 0 1 0 -1.84 0M103.36 467.1a0.92 0.92 0 1 0 1.84 0a0.92 0.92 0 1 0 -1.84 0M83.99 472.1a0.92 0.92 0 1 0 1.84 0a0.92 0.92 0 1 0 -1.84 0M86.20 471.0a0.92 0.92 0 1 0 1.84 0a0.92 0.92 0 1 0 -1.84 0M80.67 477.0a0.92 0.92 0 1 0 1.84 0a0.92 0.92 0 1 0 -1.84 0M85.65 479.8a0.92 0.92 0 1 0 1.84 0a0.92 0.92 0 1 0 -1.84 0M86.20 482.6a0.92 0.92 0 1 0 1.84 0a0.92 0.92 0 1 0 -1.84 0M84.54 487.6a0.92 0.92 0 1 0 1.84 0a0.92 0.92 0 1 0 -1.84 0M71.26 485.4a0.92 0.92 0 1 0 1.84 0a0.92 0.92 0 1 0 -1.84 0M73.47 487.6a0.92 0.92 0 1 0 1.84 0a0.92 0.92 0 1 0 -1.84 0M118.31 477.0a0.92 0.92 0 1 0 1.84 0a0.92 0.92 0 1 0 -1.84 0M67.44 464.0a0.92 0.92 0 1 0 1.84 0a0.92 0.92 0 1 0 -1.84 0M50.60 475.5a0.92 0.92 0 1 0 1.84 0a0.92 0.92 0 1 0 -1.84 0M53.70 478.6a0.92 0.92 0 1 0 1.84 0a0.92 0.92 0 1 0 -1.84 0M42.63 478.6a0.92 0.92 0 1 0 1.84 0a0.92 0.92 0 1 0 -1.84 0M47.94 479.9a0.92 0.92 0 1 0 1.84 0a0.92 0.92 0 1 0 -1.84 0M78.52 489.2a0.92 0.92 0 1 0 1.84 0a0.92 0.92 0 1 0 -1.84 0M72.32 495.0a0.92 0.92 0 1 0 1.84 0a0.92 0.92 0 1 0 -1.84 0M78.52 502.1a0.92 0.92 0 1 0 1.84 0a0.92 0.92 0 1 0 -1.84 0M66.56 505.2a0.92 0.92 0 1 0 1.84 0a0.92 0.92 0 1 0 -1.84 0M83.40 487.5a0.92 0.92 0 1 0 1.84 0a0.92 0.92 0 1 0 -1.84 0M59.91 471.5a0.92 0.92 0 1 0 1.84 0a0.92 0.92 0 1 0 -1.84 0M119.81 443.6a0.92 0.92 0 1 0 1.84 0a0.92 0.92 0 1 0 -1.84 0M121.99 444.4a0.92 0.92 0 1 0 1.84 0a0.92 0.92 0 1 0 -1.84 0M124.90 440.7a0.92 0.92 0 1 0 1.84 0a0.92 0.92 0 1 0 -1.84 0M127.81 447.6a0.92 0.92 0 1 0 1.84 0a0.92 0.92 0 1 0 -1.84 0M131.44 441.5a0.92 0.92 0 1 0 1.84 0a0.92 0.92 0 1 0 -1.84 0M134.35 444.4a0.92 0.92 0 1 0 1.84 0a0.92 0.92 0 1 0 -1.84 0M121.26 453.1a0.92 0.92 0 1 0 1.84 0a0.92 0.92 0 1 0 -1.84 0M132.99 397.8a0.92 0.92 0 1 0 1.84 0a0.92 0.92 0 1 0 -1.84 0M156.24 386.5a0.92 0.92 0 1 0 1.84 0a0.92 0.92 0 1 0 -1.84 0M154.95 393.3a0.92 0.92 0 1 0 1.84 0a0.92 0.92 0 1 0 -1.84 0M152.36 392.3a0.92 0.92 0 1 0 1.84 0a0.92 0.92 0 1 0 -1.84 0M156.88 397.5a0.92 0.92 0 1 0 1.84 0a0.92 0.92 0 1 0 -1.84 0M148.49 397.5a0.92 0.92 0 1 0 1.84 0a0.92 0.92 0 1 0 -1.84 0M153.66 400.0a0.92 0.92 0 1 0 1.84 0a0.92 0.92 0 1 0 -1.84 0M152.36 403.9a0.92 0.92 0 1 0 1.84 0a0.92 0.92 0 1 0 -1.84 0M145.91 401.1a0.92 0.92 0 1 0 1.84 0a0.92 0.92 0 1 0 -1.84 0M142.03 404.6a0.92 0.92 0 1 0 1.84 0a0.92 0.92 0 1 0 -1.84 0M148.49 405.8a0.92 0.92 0 1 0 1.84 0a0.92 0.92 0 1 0 -1.84 0M151.07 407.8a0.92 0.92 0 1 0 1.84 0a0.92 0.92 0 1 0 -1.84 0M151.07 411.7a0.92 0.92 0 1 0 1.84 0a0.92 0.92 0 1 0 -1.84 0M157.53 416.8a0.92 0.92 0 1 0 1.84 0a0.92 0.92 0 1 0 -1.84 0M145.91 416.8a0.92 0.92 0 1 0 1.84 0a0.92 0.92 0 1 0 -1.84 0M140.74 411.7a0.92 0.92 0 1 0 1.84 0a0.92 0.92 0 1 0 -1.84 0M138.16 414.2a0.92 0.92 0 1 0 1.84 0a0.92 0.92 0 1 0 -1.84 0M142.03 414.9a0.92 0.92 0 1 0 1.84 0a0.92 0.92 0 1 0 -1.84 0M134.28 414.2a0.92 0.92 0 1 0 1.84 0a0.92 0.92 0 1 0 -1.84 0M134.93 416.8a0.92 0.92 0 1 0 1.84 0a0.92 0.92 0 1 0 -1.84 0M135.57 419.4a0.92 0.92 0 1 0 1.84 0a0.92 0.92 0 1 0 -1.84 0M130.41 415.5a0.92 0.92 0 1 0 1.84 0a0.92 0.92 0 1 0 -1.84 0M127.18 418.8a0.92 0.92 0 1 0 1.84 0a0.92 0.92 0 1 0 -1.84 0M122.66 420.1a0.92 0.92 0 1 0 1.84 0a0.92 0.92 0 1 0 -1.84 0M132.35 420.1a0.92 0.92 0 1 0 1.84 0a0.92 0.92 0 1 0 -1.84 0M129.12 422.0a0.92 0.92 0 1 0 1.84 0a0.92 0.92 0 1 0 -1.84 0M131.70 425.2a0.92 0.92 0 1 0 1.84 0a0.92 0.92 0 1 0 -1.84 0M125.24 425.2a0.92 0.92 0 1 0 1.84 0a0.92 0.92 0 1 0 -1.84 0M138.16 422.0a0.92 0.92 0 1 0 1.84 0a0.92 0.92 0 1 0 -1.84 0M139.45 425.2a0.92 0.92 0 1 0 1.84 0a0.92 0.92 0 1 0 -1.84 0M117.49 414.0a0.92 0.92 0 1 0 1.84 0a0.92 0.92 0 1 0 -1.84 0M113.62 422.0a0.92 0.92 0 1 0 1.84 0a0.92 0.92 0 1 0 -1.84 0M118.78 423.9a0.92 0.92 0 1 0 1.84 0a0.92 0.92 0 1 0 -1.84 0M116.20 425.9a0.92 0.92 0 1 0 1.84 0a0.92 0.92 0 1 0 -1.84 0M103.29 427.2a0.92 0.92 0 1 0 1.84 0a0.92 0.92 0 1 0 -1.84 0M105.87 428.2a0.92 0.92 0 1 0 1.84 0a0.92 0.92 0 1 0 -1.84 0M111.04 427.2a0.92 0.92 0 1 0 1.84 0a0.92 0.92 0 1 0 -1.84 0M120.08 427.2a0.92 0.92 0 1 0 1.84 0a0.92 0.92 0 1 0 -1.84 0M125.24 428.5a0.92 0.92 0 1 0 1.84 0a0.92 0.92 0 1 0 -1.84 0M148.49 427.2a0.92 0.92 0 1 0 1.84 0a0.92 0.92 0 1 0 -1.84 0M140.74 429.1a0.92 0.92 0 1 0 1.84 0a0.92 0.92 0 1 0 -1.84 0M54.83 489.0a0.92 0.92 0 1 0 1.84 0a0.92 0.92 0 1 0 -1.84 0M64.95 506.2a0.92 0.92 0 1 0 1.84 0a0.92 0.92 0 1 0 -1.84 0M61.37 501.2a0.92 0.92 0 1 0 1.84 0a0.92 0.92 0 1 0 -1.84 0M62.98 504.4a0.92 0.92 0 1 0 1.84 0a0.92 0.92 0 1 0 -1.84 0M42.26 488.3a0.92 0.92 0 1 0 1.84 0a0.92 0.92 0 1 0 -1.84 0M62.06 482.9a0.92 0.92 0 1 0 1.84 0a0.92 0.92 0 1 0 -1.84 0M66.08 486.1a0.92 0.92 0 1 0 1.84 0a0.92 0.92 0 1 0 -1.84 0M63.76 482.5a0.92 0.92 0 1 0 1.84 0a0.92 0.92 0 1 0 -1.84 0M46.35 485.8a0.92 0.92 0 1 0 1.84 0a0.92 0.92 0 1 0 -1.84 0M54.89 487.4a0.92 0.92 0 1 0 1.84 0a0.92 0.92 0 1 0 -1.84 0M41.44 483.6a0.92 0.92 0 1 0 1.84 0a0.92 0.92 0 1 0 -1.84 0M59.87 503.4a0.92 0.92 0 1 0 1.84 0a0.92 0.92 0 1 0 -1.84 0M58.62 488.5a0.92 0.92 0 1 0 1.84 0a0.92 0.92 0 1 0 -1.84 0M65.41 493.9a0.92 0.92 0 1 0 1.84 0a0.92 0.92 0 1 0 -1.84 0M57.01 503.0a0.92 0.92 0 1 0 1.84 0a0.92 0.92 0 1 0 -1.84 0M58.43 489.5a0.92 0.92 0 1 0 1.84 0a0.92 0.92 0 1 0 -1.84 0M63.25 485.9a0.92 0.92 0 1 0 1.84 0a0.92 0.92 0 1 0 -1.84 0M68.78 494.6a0.92 0.92 0 1 0 1.84 0a0.92 0.92 0 1 0 -1.84 0M53.06 483.4a0.92 0.92 0 1 0 1.84 0a0.92 0.92 0 1 0 -1.84 0M63.88 485.6a0.92 0.92 0 1 0 1.84 0a0.92 0.92 0 1 0 -1.84 0M58.71 505.9a0.92 0.92 0 1 0 1.84 0a0.92 0.92 0 1 0 -1.84 0M41.35 482.7a0.92 0.92 0 1 0 1.84 0a0.92 0.92 0 1 0 -1.84 0M58.04 490.5a0.92 0.92 0 1 0 1.84 0a0.92 0.92 0 1 0 -1.84 0M44.16 484.8a0.92 0.92 0 1 0 1.84 0a0.92 0.92 0 1 0 -1.84 0M40.45 488.4a0.92 0.92 0 1 0 1.84 0a0.92 0.92 0 1 0 -1.84 0M43.43 488.4a0.92 0.92 0 1 0 1.84 0a0.92 0.92 0 1 0 -1.84 0M57.27 484.2a0.92 0.92 0 1 0 1.84 0a0.92 0.92 0 1 0 -1.84 0M58.27 491.7a0.92 0.92 0 1 0 1.84 0a0.92 0.92 0 1 0 -1.84 0M47.36 482.7a0.92 0.92 0 1 0 1.84 0a0.92 0.92 0 1 0 -1.84 0M65.36 500.2a0.92 0.92 0 1 0 1.84 0a0.92 0.92 0 1 0 -1.84 0M51.90 485.8a0.92 0.92 0 1 0 1.84 0a0.92 0.92 0 1 0 -1.84 0M56.50 488.2a0.92 0.92 0 1 0 1.84 0a0.92 0.92 0 1 0 -1.84 0M58.89 490.8a0.92 0.92 0 1 0 1.84 0a0.92 0.92 0 1 0 -1.84 0M67.25 498.9a0.92 0.92 0 1 0 1.84 0a0.92 0.92 0 1 0 -1.84 0M52.02 485.1a0.92 0.92 0 1 0 1.84 0a0.92 0.92 0 1 0 -1.84 0M63.70 483.4a0.92 0.92 0 1 0 1.84 0a0.92 0.92 0 1 0 -1.84 0M49.25 486.8a0.92 0.92 0 1 0 1.84 0a0.92 0.92 0 1 0 -1.84 0M62.83 498.4a0.92 0.92 0 1 0 1.84 0a0.92 0.92 0 1 0 -1.84 0M61.74 491.4a0.92 0.92 0 1 0 1.84 0a0.92 0.92 0 1 0 -1.84 0M61.65 491.1a0.92 0.92 0 1 0 1.84 0a0.92 0.92 0 1 0 -1.84 0M46.86 481.4a0.92 0.92 0 1 0 1.84 0a0.92 0.92 0 1 0 -1.84 0M47.04 479.6a0.92 0.92 0 1 0 1.84 0a0.92 0.92 0 1 0 -1.84 0M60.31 502.0a0.92 0.92 0 1 0 1.84 0a0.92 0.92 0 1 0 -1.84 0M60.78 485.9a0.92 0.92 0 1 0 1.84 0a0.92 0.92 0 1 0 -1.84 0M56.26 490.6a0.92 0.92 0 1 0 1.84 0a0.92 0.92 0 1 0 -1.84 0M62.98 493.0a0.92 0.92 0 1 0 1.84 0a0.92 0.92 0 1 0 -1.84 0M47.84 485.1a0.92 0.92 0 1 0 1.84 0a0.92 0.92 0 1 0 -1.84 0M61.71 504.8a0.92 0.92 0 1 0 1.84 0a0.92 0.92 0 1 0 -1.84 0M61.77 487.6a0.92 0.92 0 1 0 1.84 0a0.92 0.92 0 1 0 -1.84 0M65.61 487.6a0.92 0.92 0 1 0 1.84 0a0.92 0.92 0 1 0 -1.84 0M58.46 497.8a0.92 0.92 0 1 0 1.84 0a0.92 0.92 0 1 0 -1.84 0M59.45 505.7a0.92 0.92 0 1 0 1.84 0a0.92 0.92 0 1 0 -1.84 0M60.38 502.3a0.92 0.92 0 1 0 1.84 0a0.92 0.92 0 1 0 -1.84 0M56.73 487.1a0.92 0.92 0 1 0 1.84 0a0.92 0.92 0 1 0 -1.84 0M44.53 479.2a0.92 0.92 0 1 0 1.84 0a0.92 0.92 0 1 0 -1.84 0M50.27 482.4a0.92 0.92 0 1 0 1.84 0a0.92 0.92 0 1 0 -1.84 0M41.20 479.7a0.92 0.92 0 1 0 1.84 0a0.92 0.92 0 1 0 -1.84 0M60.24 496.1a0.92 0.92 0 1 0 1.84 0a0.92 0.92 0 1 0 -1.84 0M60.36 499.0a0.92 0.92 0 1 0 1.84 0a0.92 0.92 0 1 0 -1.84 0M63.88 503.3a0.92 0.92 0 1 0 1.84 0a0.92 0.92 0 1 0 -1.84 0M66.59 504.8a0.92 0.92 0 1 0 1.84 0a0.92 0.92 0 1 0 -1.84 0M43.45 484.2a0.92 0.92 0 1 0 1.84 0a0.92 0.92 0 1 0 -1.84 0M43.59 479.5a0.92 0.92 0 1 0 1.84 0a0.92 0.92 0 1 0 -1.84 0M64.68 501.1a0.92 0.92 0 1 0 1.84 0a0.92 0.92 0 1 0 -1.84 0M58.56 501.4a0.92 0.92 0 1 0 1.84 0a0.92 0.92 0 1 0 -1.84 0M58.49 486.5a0.92 0.92 0 1 0 1.84 0a0.92 0.92 0 1 0 -1.84 0M43.24 481.2a0.92 0.92 0 1 0 1.84 0a0.92 0.92 0 1 0 -1.84 0M62.09 484.2a0.92 0.92 0 1 0 1.84 0a0.92 0.92 0 1 0 -1.84 0M49.53 490.3a0.92 0.92 0 1 0 1.84 0a0.92 0.92 0 1 0 -1.84 0M40.98 485.6a0.92 0.92 0 1 0 1.84 0a0.92 0.92 0 1 0 -1.84 0M50.93 487.4a0.92 0.92 0 1 0 1.84 0a0.92 0.92 0 1 0 -1.84 0M68.02 492.5a0.92 0.92 0 1 0 1.84 0a0.92 0.92 0 1 0 -1.84 0M64.79 495.7a0.92 0.92 0 1 0 1.84 0a0.92 0.92 0 1 0 -1.84 0M41.27 490.0a0.92 0.92 0 1 0 1.84 0a0.92 0.92 0 1 0 -1.84 0M55.80 484.5a0.92 0.92 0 1 0 1.84 0a0.92 0.92 0 1 0 -1.84 0M63.88 483.2a0.92 0.92 0 1 0 1.84 0a0.92 0.92 0 1 0 -1.84 0M40.42 484.1a0.92 0.92 0 1 0 1.84 0a0.92 0.92 0 1 0 -1.84 0M62.23 505.7a0.92 0.92 0 1 0 1.84 0a0.92 0.92 0 1 0 -1.84 0M40.51 492.1a0.92 0.92 0 1 0 1.84 0a0.92 0.92 0 1 0 -1.84 0M45.67 492.3a0.92 0.92 0 1 0 1.84 0a0.92 0.92 0 1 0 -1.84 0M48.51 484.5a0.92 0.92 0 1 0 1.84 0a0.92 0.92 0 1 0 -1.84 0M60.43 492.4a0.92 0.92 0 1 0 1.84 0a0.92 0.92 0 1 0 -1.84 0M60.37 500.4a0.92 0.92 0 1 0 1.84 0a0.92 0.92 0 1 0 -1.84 0M58.38 488.4a0.92 0.92 0 1 0 1.84 0a0.92 0.92 0 1 0 -1.84 0M51.88 489.5a0.92 0.92 0 1 0 1.84 0a0.92 0.92 0 1 0 -1.84 0M46.29 485.8a0.92 0.92 0 1 0 1.84 0a0.92 0.92 0 1 0 -1.84 0M66.22 492.4a0.92 0.92 0 1 0 1.84 0a0.92 0.92 0 1 0 -1.84 0M47.08 491.3a0.92 0.92 0 1 0 1.84 0a0.92 0.92 0 1 0 -1.84 0M61.97 496.5a0.92 0.92 0 1 0 1.84 0a0.92 0.92 0 1 0 -1.84 0M50.37 487.6a0.92 0.92 0 1 0 1.84 0a0.92 0.92 0 1 0 -1.84 0M59.36 499.1a0.92 0.92 0 1 0 1.84 0a0.92 0.92 0 1 0 -1.84 0M45.24 490.7a0.92 0.92 0 1 0 1.84 0a0.92 0.92 0 1 0 -1.84 0M62.55 494.6a0.92 0.92 0 1 0 1.84 0a0.92 0.92 0 1 0 -1.84 0M43.99 491.3a0.92 0.92 0 1 0 1.84 0a0.92 0.92 0 1 0 -1.84 0M65.76 485.1a0.92 0.92 0 1 0 1.84 0a0.92 0.92 0 1 0 -1.84 0M45.87 486.9a0.92 0.92 0 1 0 1.84 0a0.92 0.92 0 1 0 -1.84 0M60.54 502.0a0.92 0.92 0 1 0 1.84 0a0.92 0.92 0 1 0 -1.84 0M44.81 482.8a0.92 0.92 0 1 0 1.84 0a0.92 0.92 0 1 0 -1.84 0M47.48 487.6a0.92 0.92 0 1 0 1.84 0a0.92 0.92 0 1 0 -1.84 0M55.35 483.0a0.92 0.92 0 1 0 1.84 0a0.92 0.92 0 1 0 -1.84 0M73.22 477.8a0.92 0.92 0 1 0 1.84 0a0.92 0.92 0 1 0 -1.84 0M60.62 486.0a0.92 0.92 0 1 0 1.84 0a0.92 0.92 0 1 0 -1.84 0M72.28 480.4a0.92 0.92 0 1 0 1.84 0a0.92 0.92 0 1 0 -1.84 0M70.85 478.9a0.92 0.92 0 1 0 1.84 0a0.92 0.92 0 1 0 -1.84 0M59.34 484.6a0.92 0.92 0 1 0 1.84 0a0.92 0.92 0 1 0 -1.84 0M65.51 490.2a0.92 0.92 0 1 0 1.84 0a0.92 0.92 0 1 0 -1.84 0M77.32 477.6a0.92 0.92 0 1 0 1.84 0a0.92 0.92 0 1 0 -1.84 0M71.07 478.5a0.92 0.92 0 1 0 1.84 0a0.92 0.92 0 1 0 -1.84 0M63.36 485.6a0.92 0.92 0 1 0 1.84 0a0.92 0.92 0 1 0 -1.84 0M70.79 470.3a0.92 0.92 0 1 0 1.84 0a0.92 0.92 0 1 0 -1.84 0M65.95 478.6a0.92 0.92 0 1 0 1.84 0a0.92 0.92 0 1 0 -1.84 0M70.60 476.7a0.92 0.92 0 1 0 1.84 0a0.92 0.92 0 1 0 -1.84 0M60.31 486.7a0.92 0.92 0 1 0 1.84 0a0.92 0.92 0 1 0 -1.84 0M74.27 475.9a0.92 0.92 0 1 0 1.84 0a0.92 0.92 0 1 0 -1.84 0M56.91 482.2a0.92 0.92 0 1 0 1.84 0a0.92 0.92 0 1 0 -1.84 0M59.79 491.9a0.92 0.92 0 1 0 1.84 0a0.92 0.92 0 1 0 -1.84 0M58.39 483.5a0.92 0.92 0 1 0 1.84 0a0.92 0.92 0 1 0 -1.84 0M68.03 486.1a0.92 0.92 0 1 0 1.84 0a0.92 0.92 0 1 0 -1.84 0M75.46 481.3a0.92 0.92 0 1 0 1.84 0a0.92 0.92 0 1 0 -1.84 0M60.95 487.9a0.92 0.92 0 1 0 1.84 0a0.92 0.92 0 1 0 -1.84 0M65.22 491.1a0.92 0.92 0 1 0 1.84 0a0.92 0.92 0 1 0 -1.84 0M62.45 476.3a0.92 0.92 0 1 0 1.84 0a0.92 0.92 0 1 0 -1.84 0M65.88 488.5a0.92 0.92 0 1 0 1.84 0a0.92 0.92 0 1 0 -1.84 0M61.28 490.2a0.92 0.92 0 1 0 1.84 0a0.92 0.92 0 1 0 -1.84 0M61.15 492.7a0.92 0.92 0 1 0 1.84 0a0.92 0.92 0 1 0 -1.84 0M59.05 491.7a0.92 0.92 0 1 0 1.84 0a0.92 0.92 0 1 0 -1.84 0M67.02 482.9a0.92 0.92 0 1 0 1.84 0a0.92 0.92 0 1 0 -1.84 0M64.30 486.1a0.92 0.92 0 1 0 1.84 0a0.92 0.92 0 1 0 -1.84 0M67.00 472.1a0.92 0.92 0 1 0 1.84 0a0.92 0.92 0 1 0 -1.84 0M75.57 474.5a0.92 0.92 0 1 0 1.84 0a0.92 0.92 0 1 0 -1.84 0M75.97 471.0a0.92 0.92 0 1 0 1.84 0a0.92 0.92 0 1 0 -1.84 0M56.08 489.4a0.92 0.92 0 1 0 1.84 0a0.92 0.92 0 1 0 -1.84 0M63.10 479.6a0.92 0.92 0 1 0 1.84 0a0.92 0.92 0 1 0 -1.84 0M66.07 486.0a0.92 0.92 0 1 0 1.84 0a0.92 0.92 0 1 0 -1.84 0M71.48 474.8a0.92 0.92 0 1 0 1.84 0a0.92 0.92 0 1 0 -1.84 0M57.36 493.7a0.92 0.92 0 1 0 1.84 0a0.92 0.92 0 1 0 -1.84 0M59.31 493.9a0.92 0.92 0 1 0 1.84 0a0.92 0.92 0 1 0 -1.84 0M56.29 498.8a0.92 0.92 0 1 0 1.84 0a0.92 0.92 0 1 0 -1.84 0M71.40 470.3a0.92 0.92 0 1 0 1.84 0a0.92 0.92 0 1 0 -1.84 0M61.50 491.6a0.92 0.92 0 1 0 1.84 0a0.92 0.92 0 1 0 -1.84 0M59.96 496.3a0.92 0.92 0 1 0 1.84 0a0.92 0.92 0 1 0 -1.84 0M60.65 488.3a0.92 0.92 0 1 0 1.84 0a0.92 0.92 0 1 0 -1.84 0M69.04 470.8a0.92 0.92 0 1 0 1.84 0a0.92 0.92 0 1 0 -1.84 0M67.54 480.3a0.92 0.92 0 1 0 1.84 0a0.92 0.92 0 1 0 -1.84 0M56.17 494.3a0.92 0.92 0 1 0 1.84 0a0.92 0.92 0 1 0 -1.84 0M66.99 483.0a0.92 0.92 0 1 0 1.84 0a0.92 0.92 0 1 0 -1.84 0M64.81 477.1a0.92 0.92 0 1 0 1.84 0a0.92 0.92 0 1 0 -1.84 0M78.55 463.2a0.92 0.92 0 1 0 1.84 0a0.92 0.92 0 1 0 -1.84 0M70.96 486.0a0.92 0.92 0 1 0 1.84 0a0.92 0.92 0 1 0 -1.84 0M56.69 484.9a0.92 0.92 0 1 0 1.84 0a0.92 0.92 0 1 0 -1.84 0M67.99 479.8a0.92 0.92 0 1 0 1.84 0a0.92 0.92 0 1 0 -1.84 0M64.61 479.4a0.92 0.92 0 1 0 1.84 0a0.92 0.92 0 1 0 -1.84 0M60.96 477.8a0.92 0.92 0 1 0 1.84 0a0.92 0.92 0 1 0 -1.84 0M65.93 482.6a0.92 0.92 0 1 0 1.84 0a0.92 0.92 0 1 0 -1.84 0M75.41 472.0a0.92 0.92 0 1 0 1.84 0a0.92 0.92 0 1 0 -1.84 0M75.43 476.5a0.92 0.92 0 1 0 1.84 0a0.92 0.92 0 1 0 -1.84 0M67.83 471.1a0.92 0.92 0 1 0 1.84 0a0.92 0.92 0 1 0 -1.84 0M63.04 483.9a0.92 0.92 0 1 0 1.84 0a0.92 0.92 0 1 0 -1.84 0M56.96 489.5a0.92 0.92 0 1 0 1.84 0a0.92 0.92 0 1 0 -1.84 0M70.48 485.6a0.92 0.92 0 1 0 1.84 0a0.92 0.92 0 1 0 -1.84 0M72.35 484.3a0.92 0.92 0 1 0 1.84 0a0.92 0.92 0 1 0 -1.84 0M71.99 468.7a0.92 0.92 0 1 0 1.84 0a0.92 0.92 0 1 0 -1.84 0M71.66 478.7a0.92 0.92 0 1 0 1.84 0a0.92 0.92 0 1 0 -1.84 0M71.40 475.1a0.92 0.92 0 1 0 1.84 0a0.92 0.92 0 1 0 -1.84 0M69.20 470.6a0.92 0.92 0 1 0 1.84 0a0.92 0.92 0 1 0 -1.84 0M63.10 477.2a0.92 0.92 0 1 0 1.84 0a0.92 0.92 0 1 0 -1.84 0M63.49 477.6a0.92 0.92 0 1 0 1.84 0a0.92 0.92 0 1 0 -1.84 0M57.30 483.2a0.92 0.92 0 1 0 1.84 0a0.92 0.92 0 1 0 -1.84 0M77.57 478.2a0.92 0.92 0 1 0 1.84 0a0.92 0.92 0 1 0 -1.84 0M71.14 468.7a0.92 0.92 0 1 0 1.84 0a0.92 0.92 0 1 0 -1.84 0M56.13 487.9a0.92 0.92 0 1 0 1.84 0a0.92 0.92 0 1 0 -1.84 0M58.08 495.4a0.92 0.92 0 1 0 1.84 0a0.92 0.92 0 1 0 -1.84 0M72.89 469.9a0.92 0.92 0 1 0 1.84 0a0.92 0.92 0 1 0 -1.84 0M73.22 467.7a0.92 0.92 0 1 0 1.84 0a0.92 0.92 0 1 0 -1.84 0M57.19 491.6a0.92 0.92 0 1 0 1.84 0a0.92 0.92 0 1 0 -1.84 0M56.36 486.5a0.92 0.92 0 1 0 1.84 0a0.92 0.92 0 1 0 -1.84 0M63.31 489.7a0.92 0.92 0 1 0 1.84 0a0.92 0.92 0 1 0 -1.84 0M59.91 495.1a0.92 0.92 0 1 0 1.84 0a0.92 0.92 0 1 0 -1.84 0M64.64 483.5a0.92 0.92 0 1 0 1.84 0a0.92 0.92 0 1 0 -1.84 0M66.31 487.6a0.92 0.92 0 1 0 1.84 0a0.92 0.92 0 1 0 -1.84 0M59.42 492.5a0.92 0.92 0 1 0 1.84 0a0.92 0.92 0 1 0 -1.84 0M64.54 486.3a0.92 0.92 0 1 0 1.84 0a0.92 0.92 0 1 0 -1.84 0M70.79 477.1a0.92 0.92 0 1 0 1.84 0a0.92 0.92 0 1 0 -1.84 0M65.07 492.1a0.92 0.92 0 1 0 1.84 0a0.92 0.92 0 1 0 -1.84 0M69.31 472.0a0.92 0.92 0 1 0 1.84 0a0.92 0.92 0 1 0 -1.84 0M63.81 484.7a0.92 0.92 0 1 0 1.84 0a0.92 0.92 0 1 0 -1.84 0M70.12 472.6a0.92 0.92 0 1 0 1.84 0a0.92 0.92 0 1 0 -1.84 0M64.85 487.9a0.92 0.92 0 1 0 1.84 0a0.92 0.92 0 1 0 -1.84 0M74.96 471.6a0.92 0.92 0 1 0 1.84 0a0.92 0.92 0 1 0 -1.84 0M65.93 483.9a0.92 0.92 0 1 0 1.84 0a0.92 0.92 0 1 0 -1.84 0M57.01 494.0a0.92 0.92 0 1 0 1.84 0a0.92 0.92 0 1 0 -1.84 0M69.43 471.2a0.92 0.92 0 1 0 1.84 0a0.92 0.92 0 1 0 -1.84 0M60.72 490.6a0.92 0.92 0 1 0 1.84 0a0.92 0.92 0 1 0 -1.84 0M77.87 469.6a0.92 0.92 0 1 0 1.84 0a0.92 0.92 0 1 0 -1.84 0M61.99 490.6a0.92 0.92 0 1 0 1.84 0a0.92 0.92 0 1 0 -1.84 0M74.59 478.8a0.92 0.92 0 1 0 1.84 0a0.92 0.92 0 1 0 -1.84 0M58.07 492.9a0.92 0.92 0 1 0 1.84 0a0.92 0.92 0 1 0 -1.84 0M74.13 469.6a0.92 0.92 0 1 0 1.84 0a0.92 0.92 0 1 0 -1.84 0M67.20 484.1a0.92 0.92 0 1 0 1.84 0a0.92 0.92 0 1 0 -1.84 0M60.26 488.6a0.92 0.92 0 1 0 1.84 0a0.92 0.92 0 1 0 -1.84 0M64.53 483.0a0.92 0.92 0 1 0 1.84 0a0.92 0.92 0 1 0 -1.84 0M65.46 481.1a0.92 0.92 0 1 0 1.84 0a0.92 0.92 0 1 0 -1.84 0M79.41 475.3a0.92 0.92 0 1 0 1.84 0a0.92 0.92 0 1 0 -1.84 0M58.51 485.8a0.92 0.92 0 1 0 1.84 0a0.92 0.92 0 1 0 -1.84 0M74.49 466.4a0.92 0.92 0 1 0 1.84 0a0.92 0.92 0 1 0 -1.84 0M70.03 474.1a0.92 0.92 0 1 0 1.84 0a0.92 0.92 0 1 0 -1.84 0M76.33 479.9a0.92 0.92 0 1 0 1.84 0a0.92 0.92 0 1 0 -1.84 0M69.32 470.7a0.92 0.92 0 1 0 1.84 0a0.92 0.92 0 1 0 -1.84 0M74.29 477.4a0.92 0.92 0 1 0 1.84 0a0.92 0.92 0 1 0 -1.84 0M77.36 462.7a0.92 0.92 0 1 0 1.84 0a0.92 0.92 0 1 0 -1.84 0M70.05 476.3a0.92 0.92 0 1 0 1.84 0a0.92 0.92 0 1 0 -1.84 0M62.05 483.0a0.92 0.92 0 1 0 1.84 0a0.92 0.92 0 1 0 -1.84 0M71.73 476.1a0.92 0.92 0 1 0 1.84 0a0.92 0.92 0 1 0 -1.84 0M71.89 472.2a0.92 0.92 0 1 0 1.84 0a0.92 0.92 0 1 0 -1.84 0M72.84 468.0a0.92 0.92 0 1 0 1.84 0a0.92 0.92 0 1 0 -1.84 0M56.86 497.8a0.92 0.92 0 1 0 1.84 0a0.92 0.92 0 1 0 -1.84 0M58.29 497.8a0.92 0.92 0 1 0 1.84 0a0.92 0.92 0 1 0 -1.84 0M66.63 473.9a0.92 0.92 0 1 0 1.84 0a0.92 0.92 0 1 0 -1.84 0M75.32 479.5a0.92 0.92 0 1 0 1.84 0a0.92 0.92 0 1 0 -1.84 0M72.76 482.6a0.92 0.92 0 1 0 1.84 0a0.92 0.92 0 1 0 -1.84 0M59.41 495.5a0.92 0.92 0 1 0 1.84 0a0.92 0.92 0 1 0 -1.84 0M62.27 476.8a0.92 0.92 0 1 0 1.84 0a0.92 0.92 0 1 0 -1.84 0M75.71 473.7a0.92 0.92 0 1 0 1.84 0a0.92 0.92 0 1 0 -1.84 0M59.95 480.1a0.92 0.92 0 1 0 1.84 0a0.92 0.92 0 1 0 -1.84 0M57.35 496.5a0.92 0.92 0 1 0 1.84 0a0.92 0.92 0 1 0 -1.84 0M71.69 468.7a0.92 0.92 0 1 0 1.84 0a0.92 0.92 0 1 0 -1.84 0M67.22 471.7a0.92 0.92 0 1 0 1.84 0a0.92 0.92 0 1 0 -1.84 0M77.04 462.4a0.92 0.92 0 1 0 1.84 0a0.92 0.92 0 1 0 -1.84 0M73.06 472.0a0.92 0.92 0 1 0 1.84 0a0.92 0.92 0 1 0 -1.84 0M78.97 460.8a0.92 0.92 0 1 0 1.84 0a0.92 0.92 0 1 0 -1.84 0M74.95 474.0a0.92 0.92 0 1 0 1.84 0a0.92 0.92 0 1 0 -1.84 0M75.54 481.5a0.92 0.92 0 1 0 1.84 0a0.92 0.92 0 1 0 -1.84 0M77.41 469.0a0.92 0.92 0 1 0 1.84 0a0.92 0.92 0 1 0 -1.84 0M60.24 491.4a0.92 0.92 0 1 0 1.84 0a0.92 0.92 0 1 0 -1.84 0M72.71 468.1a0.92 0.92 0 1 0 1.84 0a0.92 0.92 0 1 0 -1.84 0M95.33 456.9a0.92 0.92 0 1 0 1.84 0a0.92 0.92 0 1 0 -1.84 0M98.57 453.1a0.92 0.92 0 1 0 1.84 0a0.92 0.92 0 1 0 -1.84 0M100.60 449.9a0.92 0.92 0 1 0 1.84 0a0.92 0.92 0 1 0 -1.84 0M103.20 456.0a0.92 0.92 0 1 0 1.84 0a0.92 0.92 0 1 0 -1.84 0M102.20 447.0a0.92 0.92 0 1 0 1.84 0a0.92 0.92 0 1 0 -1.84 0M84.32 471.4a0.92 0.92 0 1 0 1.84 0a0.92 0.92 0 1 0 -1.84 0M89.15 461.2a0.92 0.92 0 1 0 1.84 0a0.92 0.92 0 1 0 -1.84 0M91.09 457.7a0.92 0.92 0 1 0 1.84 0a0.92 0.92 0 1 0 -1.84 0M82.62 466.3a0.92 0.92 0 1 0 1.84 0a0.92 0.92 0 1 0 -1.84 0M87.84 466.2a0.92 0.92 0 1 0 1.84 0a0.92 0.92 0 1 0 -1.84 0M89.41 467.9a0.92 0.92 0 1 0 1.84 0a0.92 0.92 0 1 0 -1.84 0M81.07 473.1a0.92 0.92 0 1 0 1.84 0a0.92 0.92 0 1 0 -1.84 0M92.85 458.4a0.92 0.92 0 1 0 1.84 0a0.92 0.92 0 1 0 -1.84 0M104.69 445.1a0.92 0.92 0 1 0 1.84 0a0.92 0.92 0 1 0 -1.84 0M86.00 470.7a0.92 0.92 0 1 0 1.84 0a0.92 0.92 0 1 0 -1.84 0M97.69 443.9a0.92 0.92 0 1 0 1.84 0a0.92 0.92 0 1 0 -1.84 0M79.93 461.3a0.92 0.92 0 1 0 1.84 0a0.92 0.92 0 1 0 -1.84 0M94.50 458.0a0.92 0.92 0 1 0 1.84 0a0.92 0.92 0 1 0 -1.84 0M92.34 457.1a0.92 0.92 0 1 0 1.84 0a0.92 0.92 0 1 0 -1.84 0M83.31 460.2a0.92 0.92 0 1 0 1.84 0a0.92 0.92 0 1 0 -1.84 0M98.93 442.6a0.92 0.92 0 1 0 1.84 0a0.92 0.92 0 1 0 -1.84 0M89.61 453.6a0.92 0.92 0 1 0 1.84 0a0.92 0.92 0 1 0 -1.84 0M99.72 450.1a0.92 0.92 0 1 0 1.84 0a0.92 0.92 0 1 0 -1.84 0M95.96 451.2a0.92 0.92 0 1 0 1.84 0a0.92 0.92 0 1 0 -1.84 0M90.76 457.3a0.92 0.92 0 1 0 1.84 0a0.92 0.92 0 1 0 -1.84 0M96.19 446.9a0.92 0.92 0 1 0 1.84 0a0.92 0.92 0 1 0 -1.84 0M97.16 447.3a0.92 0.92 0 1 0 1.84 0a0.92 0.92 0 1 0 -1.84 0M95.67 446.3a0.92 0.92 0 1 0 1.84 0a0.92 0.92 0 1 0 -1.84 0M93.03 454.2a0.92 0.92 0 1 0 1.84 0a0.92 0.92 0 1 0 -1.84 0M104.26 447.9a0.92 0.92 0 1 0 1.84 0a0.92 0.92 0 1 0 -1.84 0M87.43 463.4a0.92 0.92 0 1 0 1.84 0a0.92 0.92 0 1 0 -1.84 0M82.61 461.1a0.92 0.92 0 1 0 1.84 0a0.92 0.92 0 1 0 -1.84 0M86.47 455.6a0.92 0.92 0 1 0 1.84 0a0.92 0.92 0 1 0 -1.84 0M87.13 453.0a0.92 0.92 0 1 0 1.84 0a0.92 0.92 0 1 0 -1.84 0M81.76 459.1a0.92 0.92 0 1 0 1.84 0a0.92 0.92 0 1 0 -1.84 0M94.33 463.5a0.92 0.92 0 1 0 1.84 0a0.92 0.92 0 1 0 -1.84 0M84.72 466.1a0.92 0.92 0 1 0 1.84 0a0.92 0.92 0 1 0 -1.84 0M91.49 459.1a0.92 0.92 0 1 0 1.84 0a0.92 0.92 0 1 0 -1.84 0M95.44 455.7a0.92 0.92 0 1 0 1.84 0a0.92 0.92 0 1 0 -1.84 0M85.25 457.6a0.92 0.92 0 1 0 1.84 0a0.92 0.92 0 1 0 -1.84 0M89.46 460.8a0.92 0.92 0 1 0 1.84 0a0.92 0.92 0 1 0 -1.84 0M101.94 445.8a0.92 0.92 0 1 0 1.84 0a0.92 0.92 0 1 0 -1.84 0M93.98 456.7a0.92 0.92 0 1 0 1.84 0a0.92 0.92 0 1 0 -1.84 0M87.18 468.8a0.92 0.92 0 1 0 1.84 0a0.92 0.92 0 1 0 -1.84 0M102.18 454.5a0.92 0.92 0 1 0 1.84 0a0.92 0.92 0 1 0 -1.84 0M90.94 467.2a0.92 0.92 0 1 0 1.84 0a0.92 0.92 0 1 0 -1.84 0M88.66 464.6a0.92 0.92 0 1 0 1.84 0a0.92 0.92 0 1 0 -1.84 0M100.88 457.8a0.92 0.92 0 1 0 1.84 0a0.92 0.92 0 1 0 -1.84 0M99.27 456.0a0.92 0.92 0 1 0 1.84 0a0.92 0.92 0 1 0 -1.84 0M103.31 441.0a0.92 0.92 0 1 0 1.84 0a0.92 0.92 0 1 0 -1.84 0M94.38 453.5a0.92 0.92 0 1 0 1.84 0a0.92 0.92 0 1 0 -1.84 0M95.30 451.9a0.92 0.92 0 1 0 1.84 0a0.92 0.92 0 1 0 -1.84 0M91.26 455.2a0.92 0.92 0 1 0 1.84 0a0.92 0.92 0 1 0 -1.84 0M98.32 448.1a0.92 0.92 0 1 0 1.84 0a0.92 0.92 0 1 0 -1.84 0M89.66 459.4a0.92 0.92 0 1 0 1.84 0a0.92 0.92 0 1 0 -1.84 0M92.49 454.6a0.92 0.92 0 1 0 1.84 0a0.92 0.92 0 1 0 -1.84 0M83.25 460.3a0.92 0.92 0 1 0 1.84 0a0.92 0.92 0 1 0 -1.84 0M103.46 449.5a0.92 0.92 0 1 0 1.84 0a0.92 0.92 0 1 0 -1.84 0M104.46 444.3a0.92 0.92 0 1 0 1.84 0a0.92 0.92 0 1 0 -1.84 0M94.20 456.9a0.92 0.92 0 1 0 1.84 0a0.92 0.92 0 1 0 -1.84 0M92.96 457.8a0.92 0.92 0 1 0 1.84 0a0.92 0.92 0 1 0 -1.84 0M97.33 452.3a0.92 0.92 0 1 0 1.84 0a0.92 0.92 0 1 0 -1.84 0M88.80 461.1a0.92 0.92 0 1 0 1.84 0a0.92 0.92 0 1 0 -1.84 0M97.10 458.1a0.92 0.92 0 1 0 1.84 0a0.92 0.92 0 1 0 -1.84 0M89.92 459.7a0.92 0.92 0 1 0 1.84 0a0.92 0.92 0 1 0 -1.84 0M90.95 462.4a0.92 0.92 0 1 0 1.84 0a0.92 0.92 0 1 0 -1.84 0M105.44 450.3a0.92 0.92 0 1 0 1.84 0a0.92 0.92 0 1 0 -1.84 0M102.62 453.6a0.92 0.92 0 1 0 1.84 0a0.92 0.92 0 1 0 -1.84 0M92.81 457.3a0.92 0.92 0 1 0 1.84 0a0.92 0.92 0 1 0 -1.84 0M95.90 461.5a0.92 0.92 0 1 0 1.84 0a0.92 0.92 0 1 0 -1.84 0M87.47 465.3a0.92 0.92 0 1 0 1.84 0a0.92 0.92 0 1 0 -1.84 0M96.89 444.0a0.92 0.92 0 1 0 1.84 0a0.92 0.92 0 1 0 -1.84 0M92.45 459.4a0.92 0.92 0 1 0 1.84 0a0.92 0.92 0 1 0 -1.84 0M86.41 463.4a0.92 0.92 0 1 0 1.84 0a0.92 0.92 0 1 0 -1.84 0M94.45 453.2a0.92 0.92 0 1 0 1.84 0a0.92 0.92 0 1 0 -1.84 0M99.56 449.4a0.92 0.92 0 1 0 1.84 0a0.92 0.92 0 1 0 -1.84 0M98.12 450.7a0.92 0.92 0 1 0 1.84 0a0.92 0.92 0 1 0 -1.84 0M82.07 474.5a0.92 0.92 0 1 0 1.84 0a0.92 0.92 0 1 0 -1.84 0M94.65 450.5a0.92 0.92 0 1 0 1.84 0a0.92 0.92 0 1 0 -1.84 0M91.20 452.1a0.92 0.92 0 1 0 1.84 0a0.92 0.92 0 1 0 -1.84 0M80.90 473.9a0.92 0.92 0 1 0 1.84 0a0.92 0.92 0 1 0 -1.84 0M90.93 462.2a0.92 0.92 0 1 0 1.84 0a0.92 0.92 0 1 0 -1.84 0M100.74 448.6a0.92 0.92 0 1 0 1.84 0a0.92 0.92 0 1 0 -1.84 0M98.20 445.0a0.92 0.92 0 1 0 1.84 0a0.92 0.92 0 1 0 -1.84 0M104.79 448.0a0.92 0.92 0 1 0 1.84 0a0.92 0.92 0 1 0 -1.84 0M93.38 452.1a0.92 0.92 0 1 0 1.84 0a0.92 0.92 0 1 0 -1.84 0M82.69 471.1a0.92 0.92 0 1 0 1.84 0a0.92 0.92 0 1 0 -1.84 0M96.79 450.2a0.92 0.92 0 1 0 1.84 0a0.92 0.92 0 1 0 -1.84 0M83.54 465.9a0.92 0.92 0 1 0 1.84 0a0.92 0.92 0 1 0 -1.84 0M101.24 441.0a0.92 0.92 0 1 0 1.84 0a0.92 0.92 0 1 0 -1.84 0M121.27 424.5a0.92 0.92 0 1 0 1.84 0a0.92 0.92 0 1 0 -1.84 0M112.43 444.3a0.92 0.92 0 1 0 1.84 0a0.92 0.92 0 1 0 -1.84 0M119.35 428.1a0.92 0.92 0 1 0 1.84 0a0.92 0.92 0 1 0 -1.84 0M117.42 426.4a0.92 0.92 0 1 0 1.84 0a0.92 0.92 0 1 0 -1.84 0M122.59 423.2a0.92 0.92 0 1 0 1.84 0a0.92 0.92 0 1 0 -1.84 0M115.56 438.0a0.92 0.92 0 1 0 1.84 0a0.92 0.92 0 1 0 -1.84 0M110.82 446.0a0.92 0.92 0 1 0 1.84 0a0.92 0.92 0 1 0 -1.84 0M113.06 442.0a0.92 0.92 0 1 0 1.84 0a0.92 0.92 0 1 0 -1.84 0M116.63 429.8a0.92 0.92 0 1 0 1.84 0a0.92 0.92 0 1 0 -1.84 0M109.00 448.8a0.92 0.92 0 1 0 1.84 0a0.92 0.92 0 1 0 -1.84 0M111.81 442.2a0.92 0.92 0 1 0 1.84 0a0.92 0.92 0 1 0 -1.84 0M107.67 438.6a0.92 0.92 0 1 0 1.84 0a0.92 0.92 0 1 0 -1.84 0M112.60 436.5a0.92 0.92 0 1 0 1.84 0a0.92 0.92 0 1 0 -1.84 0M108.00 444.1a0.92 0.92 0 1 0 1.84 0a0.92 0.92 0 1 0 -1.84 0M111.06 433.1a0.92 0.92 0 1 0 1.84 0a0.92 0.92 0 1 0 -1.84 0M106.11 442.8a0.92 0.92 0 1 0 1.84 0a0.92 0.92 0 1 0 -1.84 0M118.51 431.3a0.92 0.92 0 1 0 1.84 0a0.92 0.92 0 1 0 -1.84 0M113.60 442.1a0.92 0.92 0 1 0 1.84 0a0.92 0.92 0 1 0 -1.84 0M119.20 427.6a0.92 0.92 0 1 0 1.84 0a0.92 0.92 0 1 0 -1.84 0M122.09 431.3a0.92 0.92 0 1 0 1.84 0a0.92 0.92 0 1 0 -1.84 0M117.83 425.3a0.92 0.92 0 1 0 1.84 0a0.92 0.92 0 1 0 -1.84 0M107.79 450.9a0.92 0.92 0 1 0 1.84 0a0.92 0.92 0 1 0 -1.84 0" fill="#6c2cf0"/>
<radialGradient id="g_a2" gradientUnits="userSpaceOnUse" cx="46" cy="504.5" r="23" gradientTransform="translate(46 504.5) rotate(-36) scale(1 0.62) translate(-46 -504.5)"><stop offset="0" stop-color="#b8f07a"/><stop offset="0.15" stop-color="#70f0a8"/><stop offset="0.33" stop-color="#30d8e0"/><stop offset="0.52" stop-color="#24a8f0"/><stop offset="0.72" stop-color="#2c78fa"/><stop offset="0.87" stop-color="#4858ff"/><stop offset="1" stop-color="#5a44ff" stop-opacity="0.75"/></radialGradient>
<polygon points="41.3,494.4 47.8,493.1 54.3,490.4 59,487.5 62.5,486.8 64,489 63.5,495.7 61.5,502.3 60,506.3 41.3,506.3" fill="url(#g_a2)" filter="url(#soft)"/>
<line x1="41.3" y1="506.3" x2="249.8" y2="294.5" stroke="#e8899a" stroke-width="1"/>
<line x1="41.3" y1="505.50" x2="249.8" y2="327.48" stroke="#8c8ce8" stroke-width="1"/>
</g>
<path d="M40.599999999999994 294.5H249.8V507.0" fill="none" stroke="#8e8e8e" stroke-width="1.9"/>
<path d="M41.3 293.6V506.3H250.70000000000002" fill="none" stroke="#555" stroke-width="1.3"/>
<line x1="41.30" y1="506.3" x2="41.30" y2="509.3" stroke="#444" stroke-width="1"/>
<line x1="38.3" y1="506.30" x2="41.3" y2="506.30" stroke="#444" stroke-width="1"/>
<text x="41.30" y="519.80" text-anchor="middle">0</text>
<text x="36.80" y="510.00" text-anchor="end">0</text>
<line x1="67.36" y1="506.3" x2="67.36" y2="509.3" stroke="#444" stroke-width="1"/>
<line x1="38.3" y1="479.82" x2="41.3" y2="479.82" stroke="#444" stroke-width="1"/>
<text x="67.36" y="519.80" text-anchor="middle">20</text>
<text x="36.80" y="483.52" text-anchor="end">20</text>
<line x1="93.42" y1="506.3" x2="93.42" y2="509.3" stroke="#444" stroke-width="1"/>
<line x1="38.3" y1="453.35" x2="41.3" y2="453.35" stroke="#444" stroke-width="1"/>
<text x="93.42" y="519.80" text-anchor="middle">40</text>
<text x="36.80" y="457.05" text-anchor="end">40</text>
<line x1="119.49" y1="506.3" x2="119.49" y2="509.3" stroke="#444" stroke-width="1"/>
<line x1="38.3" y1="426.88" x2="41.3" y2="426.88" stroke="#444" stroke-width="1"/>
<text x="119.49" y="519.80" text-anchor="middle">60</text>
<text x="36.80" y="430.57" text-anchor="end">60</text>
<line x1="145.55" y1="506.3" x2="145.55" y2="509.3" stroke="#444" stroke-width="1"/>
<line x1="38.3" y1="400.40" x2="41.3" y2="400.40" stroke="#444" stroke-width="1"/>
<text x="145.55" y="519.80" text-anchor="middle">80</text>
<text x="36.80" y="404.10" text-anchor="end">80</text>
<line x1="171.61" y1="506.3" x2="171.61" y2="509.3" stroke="#444" stroke-width="1"/>
<line x1="38.3" y1="373.93" x2="41.3" y2="373.93" stroke="#444" stroke-width="1"/>
<text x="171.61" y="519.80" text-anchor="middle">100</text>
<text x="36.80" y="377.62" text-anchor="end">100</text>
<line x1="197.68" y1="506.3" x2="197.68" y2="509.3" stroke="#444" stroke-width="1"/>
<line x1="38.3" y1="347.45" x2="41.3" y2="347.45" stroke="#444" stroke-width="1"/>
<text x="197.68" y="519.80" text-anchor="middle">120</text>
<text x="36.80" y="351.15" text-anchor="end">120</text>
<line x1="223.74" y1="506.3" x2="223.74" y2="509.3" stroke="#444" stroke-width="1"/>
<line x1="38.3" y1="320.98" x2="41.3" y2="320.98" stroke="#444" stroke-width="1"/>
<text x="223.74" y="519.80" text-anchor="middle">140</text>
<text x="36.80" y="324.68" text-anchor="end">140</text>
<line x1="249.80" y1="506.3" x2="249.80" y2="509.3" stroke="#444" stroke-width="1"/>
<line x1="38.3" y1="294.50" x2="41.3" y2="294.50" stroke="#444" stroke-width="1"/>
<text x="249.80" y="519.80" text-anchor="middle">160</text>
<text x="36.80" y="298.20" text-anchor="end">160</text>
<text x="144.00" y="285.80" text-anchor="middle">(a2)</text>
<text x="144.60" y="537.20" text-anchor="middle" font-size="10.6" textLength="122.14" lengthAdjust="spacingAndGlyphs">Station Observed SD (cm)</text>
<text transform="translate(13.40,401.75) rotate(-90)" text-anchor="middle" textLength="88.94" lengthAdjust="spacingAndGlyphs">Estimated SD (cm)</text>
<text x="45.80" y="310.00" textLength="57.75" lengthAdjust="spacingAndGlyphs">RMSE: 1.835</text>
<text x="45.80" y="322.30" textLength="53.41" lengthAdjust="spacingAndGlyphs">MAE: 0.811</text>
<text x="45.80" y="334.60" textLength="51.64" lengthAdjust="spacingAndGlyphs">MBE: 0.000</text>
<text x="45.80" y="346.90">R<tspan dx="0.3" dy="-3.9" font-size="8.6">2</tspan><tspan dx="1.3" dy="3.9">: 0.878</tspan></text>
<text x="238.30" y="480.02" text-anchor="end" textLength="80" lengthAdjust="spacingAndGlyphs">y = 0.840x + 0.230</text>
<clipPath id="cb2"><rect x="304.4" y="294.5" width="208.60" height="211.80"/></clipPath>
<g clip-path="url(#cb2)">
<path d="M415.91 374.0a0.85 0.85 0 1 0 1.7 0a0.85 0.85 0 1 0 -1.7 0M461.22 369.4a0.85 0.85 0 1 0 1.7 0a0.85 0.85 0 1 0 -1.7 0M431.19 386.7a0.85 0.85 0 1 0 1.7 0a0.85 0.85 0 1 0 -1.7 0M415.91 392.3a0.85 0.85 0 1 0 1.7 0a0.85 0.85 0 1 0 -1.7 0M427.88 406.3a0.85 0.85 0 1 0 1.7 0a0.85 0.85 0 1 0 -1.7 0M448.50 402.0a0.85 0.85 0 1 0 1.7 0a0.85 0.85 0 1 0 -1.7 0M409.30 417.8a0.85 0.85 0 1 0 1.7 0a0.85 0.85 0 1 0 -1.7 0M388.42 421.1a0.85 0.85 0 1 0 1.7 0a0.85 0.85 0 1 0 -1.7 0M379.51 428.2a0.85 0.85 0 1 0 1.7 0a0.85 0.85 0 1 0 -1.7 0M378.75 428.1a0.85 0.85 0 1 0 1.7 0a0.85 0.85 0 1 0 -1.7 0M394.79 432.6a0.85 0.85 0 1 0 1.7 0a0.85 0.85 0 1 0 -1.7 0M397.33 435.2a0.85 0.85 0 1 0 1.7 0a0.85 0.85 0 1 0 -1.7 0M404.97 435.2a0.85 0.85 0 1 0 1.7 0a0.85 0.85 0 1 0 -1.7 0M407.51 431.4a0.85 0.85 0 1 0 1.7 0a0.85 0.85 0 1 0 -1.7 0M388.42 436.5a0.85 0.85 0 1 0 1.7 0a0.85 0.85 0 1 0 -1.7 0M384.60 442.8a0.85 0.85 0 1 0 1.7 0a0.85 0.85 0 1 0 -1.7 0M394.79 444.1a0.85 0.85 0 1 0 1.7 0a0.85 0.85 0 1 0 -1.7 0M375.70 437.7a0.85 0.85 0 1 0 1.7 0a0.85 0.85 0 1 0 -1.7 0M383.33 449.7a0.85 0.85 0 1 0 1.7 0a0.85 0.85 0 1 0 -1.7 0M396.06 454.8a0.85 0.85 0 1 0 1.7 0a0.85 0.85 0 1 0 -1.7 0M403.19 454.8a0.85 0.85 0 1 0 1.7 0a0.85 0.85 0 1 0 -1.7 0M377.73 458.6a0.85 0.85 0 1 0 1.7 0a0.85 0.85 0 1 0 -1.7 0M477.51 493.0a0.85 0.85 0 1 0 1.7 0a0.85 0.85 0 1 0 -1.7 0M308.50 434.0a0.85 0.85 0 1 0 1.7 0a0.85 0.85 0 1 0 -1.7 0M313.97 435.0a0.85 0.85 0 1 0 1.7 0a0.85 0.85 0 1 0 -1.7 0M333.44 431.5a0.85 0.85 0 1 0 1.7 0a0.85 0.85 0 1 0 -1.7 0M345.15 433.4a0.85 0.85 0 1 0 1.7 0a0.85 0.85 0 1 0 -1.7 0M365.13 433.4a0.85 0.85 0 1 0 1.7 0a0.85 0.85 0 1 0 -1.7 0M371.50 428.3a0.85 0.85 0 1 0 1.7 0a0.85 0.85 0 1 0 -1.7 0M330.13 437.2a0.85 0.85 0 1 0 1.7 0a0.85 0.85 0 1 0 -1.7 0M317.15 443.5a0.85 0.85 0 1 0 1.7 0a0.85 0.85 0 1 0 -1.7 0M323.51 446.7a0.85 0.85 0 1 0 1.7 0a0.85 0.85 0 1 0 -1.7 0M312.95 448.6a0.85 0.85 0 1 0 1.7 0a0.85 0.85 0 1 0 -1.7 0M306.71 452.8a0.85 0.85 0 1 0 1.7 0a0.85 0.85 0 1 0 -1.7 0M307.60 455.9a0.85 0.85 0 1 0 1.7 0a0.85 0.85 0 1 0 -1.7 0M307.60 457.3a0.85 0.85 0 1 0 1.7 0a0.85 0.85 0 1 0 -1.7 0M325.80 452.8a0.85 0.85 0 1 0 1.7 0a0.85 0.85 0 1 0 -1.7 0M331.40 450.9a0.85 0.85 0 1 0 1.7 0a0.85 0.85 0 1 0 -1.7 0M332.68 452.8a0.85 0.85 0 1 0 1.7 0a0.85 0.85 0 1 0 -1.7 0M334.97 454.4a0.85 0.85 0 1 0 1.7 0a0.85 0.85 0 1 0 -1.7 0M336.50 455.6a0.85 0.85 0 1 0 1.7 0a0.85 0.85 0 1 0 -1.7 0M340.06 457.3a0.85 0.85 0 1 0 1.7 0a0.85 0.85 0 1 0 -1.7 0M333.44 459.7a0.85 0.85 0 1 0 1.7 0a0.85 0.85 0 1 0 -1.7 0M337.51 459.7a0.85 0.85 0 1 0 1.7 0a0.85 0.85 0 1 0 -1.7 0M333.70 463.3a0.85 0.85 0 1 0 1.7 0a0.85 0.85 0 1 0 -1.7 0M340.06 463.3a0.85 0.85 0 1 0 1.7 0a0.85 0.85 0 1 0 -1.7 0M340.06 465.2a0.85 0.85 0 1 0 1.7 0a0.85 0.85 0 1 0 -1.7 0M353.80 452.8a0.85 0.85 0 1 0 1.7 0a0.85 0.85 0 1 0 -1.7 0M359.53 454.4a0.85 0.85 0 1 0 1.7 0a0.85 0.85 0 1 0 -1.7 0M362.97 441.0a0.85 0.85 0 1 0 1.7 0a0.85 0.85 0 1 0 -1.7 0M365.90 446.1a0.85 0.85 0 1 0 1.7 0a0.85 0.85 0 1 0 -1.7 0M366.40 448.6a0.85 0.85 0 1 0 1.7 0a0.85 0.85 0 1 0 -1.7 0M363.99 454.4a0.85 0.85 0 1 0 1.7 0a0.85 0.85 0 1 0 -1.7 0M365.51 457.8a0.85 0.85 0 1 0 1.7 0a0.85 0.85 0 1 0 -1.7 0M354.06 458.2a0.85 0.85 0 1 0 1.7 0a0.85 0.85 0 1 0 -1.7 0M351.90 461.3a0.85 0.85 0 1 0 1.7 0a0.85 0.85 0 1 0 -1.7 0M356.60 463.3a0.85 0.85 0 1 0 1.7 0a0.85 0.85 0 1 0 -1.7 0M362.97 463.3a0.85 0.85 0 1 0 1.7 0a0.85 0.85 0 1 0 -1.7 0M370.60 458.2a0.85 0.85 0 1 0 1.7 0a0.85 0.85 0 1 0 -1.7 0M350.88 463.9a0.85 0.85 0 1 0 1.7 0a0.85 0.85 0 1 0 -1.7 0M353.17 468.1a0.85 0.85 0 1 0 1.7 0a0.85 0.85 0 1 0 -1.7 0M306.97 466.4a0.85 0.85 0 1 0 1.7 0a0.85 0.85 0 1 0 -1.7 0M310.79 466.4a0.85 0.85 0 1 0 1.7 0a0.85 0.85 0 1 0 -1.7 0M313.33 468.3a0.85 0.85 0 1 0 1.7 0a0.85 0.85 0 1 0 -1.7 0M304.42 469.0a0.85 0.85 0 1 0 1.7 0a0.85 0.85 0 1 0 -1.7 0M326.06 469.4a0.85 0.85 0 1 0 1.7 0a0.85 0.85 0 1 0 -1.7 0M332.42 469.0a0.85 0.85 0 1 0 1.7 0a0.85 0.85 0 1 0 -1.7 0M341.33 469.0a0.85 0.85 0 1 0 1.7 0a0.85 0.85 0 1 0 -1.7 0M346.42 467.1a0.85 0.85 0 1 0 1.7 0a0.85 0.85 0 1 0 -1.7 0M364.24 467.7a0.85 0.85 0 1 0 1.7 0a0.85 0.85 0 1 0 -1.7 0M369.33 469.6a0.85 0.85 0 1 0 1.7 0a0.85 0.85 0 1 0 -1.7 0M307.24 466.1a0.85 0.85 0 1 0 1.7 0a0.85 0.85 0 1 0 -1.7 0M310.42 466.1a0.85 0.85 0 1 0 1.7 0a0.85 0.85 0 1 0 -1.7 0M312.70 468.4a0.85 0.85 0 1 0 1.7 0a0.85 0.85 0 1 0 -1.7 0M313.15 468.8a0.85 0.85 0 1 0 1.7 0a0.85 0.85 0 1 0 -1.7 0M317.70 470.6a0.85 0.85 0 1 0 1.7 0a0.85 0.85 0 1 0 -1.7 0M325.88 470.2a0.85 0.85 0 1 0 1.7 0a0.85 0.85 0 1 0 -1.7 0M328.15 470.2a0.85 0.85 0 1 0 1.7 0a0.85 0.85 0 1 0 -1.7 0M332.24 468.4a0.85 0.85 0 1 0 1.7 0a0.85 0.85 0 1 0 -1.7 0M333.15 468.8a0.85 0.85 0 1 0 1.7 0a0.85 0.85 0 1 0 -1.7 0M333.60 462.9a0.85 0.85 0 1 0 1.7 0a0.85 0.85 0 1 0 -1.7 0M339.97 463.4a0.85 0.85 0 1 0 1.7 0a0.85 0.85 0 1 0 -1.7 0M345.88 467.0a0.85 0.85 0 1 0 1.7 0a0.85 0.85 0 1 0 -1.7 0M350.88 463.8a0.85 0.85 0 1 0 1.7 0a0.85 0.85 0 1 0 -1.7 0M351.79 465.6a0.85 0.85 0 1 0 1.7 0a0.85 0.85 0 1 0 -1.7 0M306.79 474.3a0.85 0.85 0 1 0 1.7 0a0.85 0.85 0 1 0 -1.7 0M307.24 475.2a0.85 0.85 0 1 0 1.7 0a0.85 0.85 0 1 0 -1.7 0M312.70 474.7a0.85 0.85 0 1 0 1.7 0a0.85 0.85 0 1 0 -1.7 0M314.06 472.5a0.85 0.85 0 1 0 1.7 0a0.85 0.85 0 1 0 -1.7 0M321.33 473.4a0.85 0.85 0 1 0 1.7 0a0.85 0.85 0 1 0 -1.7 0M325.42 474.7a0.85 0.85 0 1 0 1.7 0a0.85 0.85 0 1 0 -1.7 0M334.51 472.0a0.85 0.85 0 1 0 1.7 0a0.85 0.85 0 1 0 -1.7 0M340.42 469.3a0.85 0.85 0 1 0 1.7 0a0.85 0.85 0 1 0 -1.7 0M343.15 470.6a0.85 0.85 0 1 0 1.7 0a0.85 0.85 0 1 0 -1.7 0M341.33 474.3a0.85 0.85 0 1 0 1.7 0a0.85 0.85 0 1 0 -1.7 0M338.60 476.5a0.85 0.85 0 1 0 1.7 0a0.85 0.85 0 1 0 -1.7 0M334.06 474.7a0.85 0.85 0 1 0 1.7 0a0.85 0.85 0 1 0 -1.7 0M333.15 476.5a0.85 0.85 0 1 0 1.7 0a0.85 0.85 0 1 0 -1.7 0M332.24 477.5a0.85 0.85 0 1 0 1.7 0a0.85 0.85 0 1 0 -1.7 0M330.42 477.9a0.85 0.85 0 1 0 1.7 0a0.85 0.85 0 1 0 -1.7 0M330.42 478.8a0.85 0.85 0 1 0 1.7 0a0.85 0.85 0 1 0 -1.7 0M327.24 478.8a0.85 0.85 0 1 0 1.7 0a0.85 0.85 0 1 0 -1.7 0M326.33 479.7a0.85 0.85 0 1 0 1.7 0a0.85 0.85 0 1 0 -1.7 0M325.42 481.1a0.85 0.85 0 1 0 1.7 0a0.85 0.85 0 1 0 -1.7 0M321.79 481.1a0.85 0.85 0 1 0 1.7 0a0.85 0.85 0 1 0 -1.7 0M316.79 481.1a0.85 0.85 0 1 0 1.7 0a0.85 0.85 0 1 0 -1.7 0M318.60 479.3a0.85 0.85 0 1 0 1.7 0a0.85 0.85 0 1 0 -1.7 0M312.24 479.3a0.85 0.85 0 1 0 1.7 0a0.85 0.85 0 1 0 -1.7 0M313.15 482.9a0.85 0.85 0 1 0 1.7 0a0.85 0.85 0 1 0 -1.7 0M312.24 484.7a0.85 0.85 0 1 0 1.7 0a0.85 0.85 0 1 0 -1.7 0M307.24 480.6a0.85 0.85 0 1 0 1.7 0a0.85 0.85 0 1 0 -1.7 0M305.42 483.8a0.85 0.85 0 1 0 1.7 0a0.85 0.85 0 1 0 -1.7 0M304.51 485.2a0.85 0.85 0 1 0 1.7 0a0.85 0.85 0 1 0 -1.7 0M308.60 484.7a0.85 0.85 0 1 0 1.7 0a0.85 0.85 0 1 0 -1.7 0M308.15 487.5a0.85 0.85 0 1 0 1.7 0a0.85 0.85 0 1 0 -1.7 0M311.33 486.5a0.85 0.85 0 1 0 1.7 0a0.85 0.85 0 1 0 -1.7 0M311.79 489.3a0.85 0.85 0 1 0 1.7 0a0.85 0.85 0 1 0 -1.7 0M308.60 492.0a0.85 0.85 0 1 0 1.7 0a0.85 0.85 0 1 0 -1.7 0M321.33 488.4a0.85 0.85 0 1 0 1.7 0a0.85 0.85 0 1 0 -1.7 0M324.51 489.7a0.85 0.85 0 1 0 1.7 0a0.85 0.85 0 1 0 -1.7 0M326.79 492.0a0.85 0.85 0 1 0 1.7 0a0.85 0.85 0 1 0 -1.7 0M327.70 493.4a0.85 0.85 0 1 0 1.7 0a0.85 0.85 0 1 0 -1.7 0M325.42 493.8a0.85 0.85 0 1 0 1.7 0a0.85 0.85 0 1 0 -1.7 0M323.60 496.5a0.85 0.85 0 1 0 1.7 0a0.85 0.85 0 1 0 -1.7 0M324.51 498.4a0.85 0.85 0 1 0 1.7 0a0.85 0.85 0 1 0 -1.7 0M323.60 502.0a0.85 0.85 0 1 0 1.7 0a0.85 0.85 0 1 0 -1.7 0M324.06 503.4a0.85 0.85 0 1 0 1.7 0a0.85 0.85 0 1 0 -1.7 0M327.24 499.3a0.85 0.85 0 1 0 1.7 0a0.85 0.85 0 1 0 -1.7 0M329.97 500.2a0.85 0.85 0 1 0 1.7 0a0.85 0.85 0 1 0 -1.7 0M329.97 502.5a0.85 0.85 0 1 0 1.7 0a0.85 0.85 0 1 0 -1.7 0M330.42 489.3a0.85 0.85 0 1 0 1.7 0a0.85 0.85 0 1 0 -1.7 0M332.24 484.7a0.85 0.85 0 1 0 1.7 0a0.85 0.85 0 1 0 -1.7 0M333.60 485.2a0.85 0.85 0 1 0 1.7 0a0.85 0.85 0 1 0 -1.7 0M336.79 483.8a0.85 0.85 0 1 0 1.7 0a0.85 0.85 0 1 0 -1.7 0M340.88 479.3a0.85 0.85 0 1 0 1.7 0a0.85 0.85 0 1 0 -1.7 0M343.15 483.8a0.85 0.85 0 1 0 1.7 0a0.85 0.85 0 1 0 -1.7 0M344.51 485.2a0.85 0.85 0 1 0 1.7 0a0.85 0.85 0 1 0 -1.7 0M346.79 490.2a0.85 0.85 0 1 0 1.7 0a0.85 0.85 0 1 0 -1.7 0M340.42 493.8a0.85 0.85 0 1 0 1.7 0a0.85 0.85 0 1 0 -1.7 0M337.70 495.6a0.85 0.85 0 1 0 1.7 0a0.85 0.85 0 1 0 -1.7 0M332.24 496.5a0.85 0.85 0 1 0 1.7 0a0.85 0.85 0 1 0 -1.7 0M336.79 500.6a0.85 0.85 0 1 0 1.7 0a0.85 0.85 0 1 0 -1.7 0M343.15 498.4a0.85 0.85 0 1 0 1.7 0a0.85 0.85 0 1 0 -1.7 0M343.15 503.8a0.85 0.85 0 1 0 1.7 0a0.85 0.85 0 1 0 -1.7 0M347.70 503.8a0.85 0.85 0 1 0 1.7 0a0.85 0.85 0 1 0 -1.7 0M337.70 486.5a0.85 0.85 0 1 0 1.7 0a0.85 0.85 0 1 0 -1.7 0M334.97 481.5a0.85 0.85 0 1 0 1.7 0a0.85 0.85 0 1 0 -1.7 0M307.29 488.7a0.85 0.85 0 1 0 1.7 0a0.85 0.85 0 1 0 -1.7 0M303.76 478.6a0.85 0.85 0 1 0 1.7 0a0.85 0.85 0 1 0 -1.7 0M304.38 481.0a0.85 0.85 0 1 0 1.7 0a0.85 0.85 0 1 0 -1.7 0M305.10 483.7a0.85 0.85 0 1 0 1.7 0a0.85 0.85 0 1 0 -1.7 0M303.75 482.7a0.85 0.85 0 1 0 1.7 0a0.85 0.85 0 1 0 -1.7 0M306.81 480.7a0.85 0.85 0 1 0 1.7 0a0.85 0.85 0 1 0 -1.7 0M307.83 486.6a0.85 0.85 0 1 0 1.7 0a0.85 0.85 0 1 0 -1.7 0M307.20 481.8a0.85 0.85 0 1 0 1.7 0a0.85 0.85 0 1 0 -1.7 0M305.77 488.3a0.85 0.85 0 1 0 1.7 0a0.85 0.85 0 1 0 -1.7 0M305.33 478.0a0.85 0.85 0 1 0 1.7 0a0.85 0.85 0 1 0 -1.7 0M307.80 489.6a0.85 0.85 0 1 0 1.7 0a0.85 0.85 0 1 0 -1.7 0M305.01 478.6a0.85 0.85 0 1 0 1.7 0a0.85 0.85 0 1 0 -1.7 0M307.91 487.1a0.85 0.85 0 1 0 1.7 0a0.85 0.85 0 1 0 -1.7 0M303.79 481.7a0.85 0.85 0 1 0 1.7 0a0.85 0.85 0 1 0 -1.7 0M304.12 489.9a0.85 0.85 0 1 0 1.7 0a0.85 0.85 0 1 0 -1.7 0M304.62 491.7a0.85 0.85 0 1 0 1.7 0a0.85 0.85 0 1 0 -1.7 0M307.37 479.3a0.85 0.85 0 1 0 1.7 0a0.85 0.85 0 1 0 -1.7 0M307.09 483.9a0.85 0.85 0 1 0 1.7 0a0.85 0.85 0 1 0 -1.7 0M307.36 490.4a0.85 0.85 0 1 0 1.7 0a0.85 0.85 0 1 0 -1.7 0M304.98 479.3a0.85 0.85 0 1 0 1.7 0a0.85 0.85 0 1 0 -1.7 0M308.38 484.4a0.85 0.85 0 1 0 1.7 0a0.85 0.85 0 1 0 -1.7 0M308.29 488.4a0.85 0.85 0 1 0 1.7 0a0.85 0.85 0 1 0 -1.7 0M313.97 488.9a0.85 0.85 0 1 0 1.7 0a0.85 0.85 0 1 0 -1.7 0M313.48 482.2a0.85 0.85 0 1 0 1.7 0a0.85 0.85 0 1 0 -1.7 0M310.89 486.6a0.85 0.85 0 1 0 1.7 0a0.85 0.85 0 1 0 -1.7 0M312.58 483.2a0.85 0.85 0 1 0 1.7 0a0.85 0.85 0 1 0 -1.7 0M314.83 476.3a0.85 0.85 0 1 0 1.7 0a0.85 0.85 0 1 0 -1.7 0M314.08 474.8a0.85 0.85 0 1 0 1.7 0a0.85 0.85 0 1 0 -1.7 0M313.81 488.5a0.85 0.85 0 1 0 1.7 0a0.85 0.85 0 1 0 -1.7 0M311.83 483.8a0.85 0.85 0 1 0 1.7 0a0.85 0.85 0 1 0 -1.7 0M315.01 485.5a0.85 0.85 0 1 0 1.7 0a0.85 0.85 0 1 0 -1.7 0M313.10 478.5a0.85 0.85 0 1 0 1.7 0a0.85 0.85 0 1 0 -1.7 0M310.92 480.4a0.85 0.85 0 1 0 1.7 0a0.85 0.85 0 1 0 -1.7 0M312.50 477.6a0.85 0.85 0 1 0 1.7 0a0.85 0.85 0 1 0 -1.7 0M312.05 476.5a0.85 0.85 0 1 0 1.7 0a0.85 0.85 0 1 0 -1.7 0M313.83 486.1a0.85 0.85 0 1 0 1.7 0a0.85 0.85 0 1 0 -1.7 0M311.72 478.4a0.85 0.85 0 1 0 1.7 0a0.85 0.85 0 1 0 -1.7 0M312.97 482.0a0.85 0.85 0 1 0 1.7 0a0.85 0.85 0 1 0 -1.7 0M314.86 480.3a0.85 0.85 0 1 0 1.7 0a0.85 0.85 0 1 0 -1.7 0M312.00 489.9a0.85 0.85 0 1 0 1.7 0a0.85 0.85 0 1 0 -1.7 0M317.22 488.2a0.85 0.85 0 1 0 1.7 0a0.85 0.85 0 1 0 -1.7 0M317.98 491.0a0.85 0.85 0 1 0 1.7 0a0.85 0.85 0 1 0 -1.7 0M318.84 490.4a0.85 0.85 0 1 0 1.7 0a0.85 0.85 0 1 0 -1.7 0M317.33 489.3a0.85 0.85 0 1 0 1.7 0a0.85 0.85 0 1 0 -1.7 0M319.04 487.1a0.85 0.85 0 1 0 1.7 0a0.85 0.85 0 1 0 -1.7 0M319.71 491.1a0.85 0.85 0 1 0 1.7 0a0.85 0.85 0 1 0 -1.7 0M317.11 485.2a0.85 0.85 0 1 0 1.7 0a0.85 0.85 0 1 0 -1.7 0M318.09 484.3a0.85 0.85 0 1 0 1.7 0a0.85 0.85 0 1 0 -1.7 0M316.89 485.1a0.85 0.85 0 1 0 1.7 0a0.85 0.85 0 1 0 -1.7 0M317.44 489.7a0.85 0.85 0 1 0 1.7 0a0.85 0.85 0 1 0 -1.7 0M323.39 490.0a0.85 0.85 0 1 0 1.7 0a0.85 0.85 0 1 0 -1.7 0M322.77 496.4a0.85 0.85 0 1 0 1.7 0a0.85 0.85 0 1 0 -1.7 0M322.96 491.0a0.85 0.85 0 1 0 1.7 0a0.85 0.85 0 1 0 -1.7 0M321.51 488.2a0.85 0.85 0 1 0 1.7 0a0.85 0.85 0 1 0 -1.7 0M326.11 501.5a0.85 0.85 0 1 0 1.7 0a0.85 0.85 0 1 0 -1.7 0M321.57 500.9a0.85 0.85 0 1 0 1.7 0a0.85 0.85 0 1 0 -1.7 0M326.05 498.1a0.85 0.85 0 1 0 1.7 0a0.85 0.85 0 1 0 -1.7 0M321.69 496.8a0.85 0.85 0 1 0 1.7 0a0.85 0.85 0 1 0 -1.7 0M323.32 491.4a0.85 0.85 0 1 0 1.7 0a0.85 0.85 0 1 0 -1.7 0" fill="#7650e0"/>
<rect x="304.4" y="491.5" width="5.8" height="14.8" fill="url(#gb1)" filter="url(#soft)"/>
<rect x="311.2" y="491" width="5.3" height="15.3" fill="url(#gb1)" filter="url(#soft)"/>
<rect x="317.6" y="491.5" width="4" height="14.8" fill="url(#gb1b)" filter="url(#soft)"/>
<line x1="304.4" y1="506.3" x2="513.0" y2="294.5" stroke="#e8899a" stroke-width="1"/>
<line x1="304.4" y1="505.26" x2="513.0" y2="350.54" stroke="#8c8ce8" stroke-width="1"/>
</g>
<path d="M303.7 294.5H513.0V507.0" fill="none" stroke="#8e8e8e" stroke-width="1.9"/>
<path d="M304.4 293.6V506.3H513.9" fill="none" stroke="#555" stroke-width="1.3"/>
<line x1="304.40" y1="506.3" x2="304.40" y2="509.3" stroke="#444" stroke-width="1"/>
<line x1="301.4" y1="506.30" x2="304.4" y2="506.30" stroke="#444" stroke-width="1"/>
<text x="304.40" y="519.80" text-anchor="middle">0</text>
<text x="299.90" y="510.00" text-anchor="end">0</text>
<line x1="330.47" y1="506.3" x2="330.47" y2="509.3" stroke="#444" stroke-width="1"/>
<line x1="301.4" y1="479.82" x2="304.4" y2="479.82" stroke="#444" stroke-width="1"/>
<text x="330.47" y="519.80" text-anchor="middle">20</text>
<text x="299.90" y="483.52" text-anchor="end">20</text>
<line x1="356.55" y1="506.3" x2="356.55" y2="509.3" stroke="#444" stroke-width="1"/>
<line x1="301.4" y1="453.35" x2="304.4" y2="453.35" stroke="#444" stroke-width="1"/>
<text x="356.55" y="519.80" text-anchor="middle">40</text>
<text x="299.90" y="457.05" text-anchor="end">40</text>
<line x1="382.62" y1="506.3" x2="382.62" y2="509.3" stroke="#444" stroke-width="1"/>
<line x1="301.4" y1="426.88" x2="304.4" y2="426.88" stroke="#444" stroke-width="1"/>
<text x="382.62" y="519.80" text-anchor="middle">60</text>
<text x="299.90" y="430.57" text-anchor="end">60</text>
<line x1="408.70" y1="506.3" x2="408.70" y2="509.3" stroke="#444" stroke-width="1"/>
<line x1="301.4" y1="400.40" x2="304.4" y2="400.40" stroke="#444" stroke-width="1"/>
<text x="408.70" y="519.80" text-anchor="middle">80</text>
<text x="299.90" y="404.10" text-anchor="end">80</text>
<line x1="434.77" y1="506.3" x2="434.77" y2="509.3" stroke="#444" stroke-width="1"/>
<line x1="301.4" y1="373.93" x2="304.4" y2="373.93" stroke="#444" stroke-width="1"/>
<text x="434.77" y="519.80" text-anchor="middle">100</text>
<text x="299.90" y="377.62" text-anchor="end">100</text>
<line x1="460.85" y1="506.3" x2="460.85" y2="509.3" stroke="#444" stroke-width="1"/>
<line x1="301.4" y1="347.45" x2="304.4" y2="347.45" stroke="#444" stroke-width="1"/>
<text x="460.85" y="519.80" text-anchor="middle">120</text>
<text x="299.90" y="351.15" text-anchor="end">120</text>
<line x1="486.93" y1="506.3" x2="486.93" y2="509.3" stroke="#444" stroke-width="1"/>
<line x1="301.4" y1="320.98" x2="304.4" y2="320.98" stroke="#444" stroke-width="1"/>
<text x="486.93" y="519.80" text-anchor="middle">140</text>
<text x="299.90" y="324.68" text-anchor="end">140</text>
<line x1="513.00" y1="506.3" x2="513.00" y2="509.3" stroke="#444" stroke-width="1"/>
<line x1="301.4" y1="294.50" x2="304.4" y2="294.50" stroke="#444" stroke-width="1"/>
<text x="513.00" y="519.80" text-anchor="middle">160</text>
<text x="299.90" y="298.20" text-anchor="end">160</text>
<text x="410.30" y="285.80" text-anchor="middle">(b2)</text>
<text x="408.50" y="537.20" text-anchor="middle" font-size="10.6" textLength="122.14" lengthAdjust="spacingAndGlyphs">Station Observed SD (cm)</text>
<text transform="translate(276.50,400.70) rotate(-90)" text-anchor="middle" textLength="88.94" lengthAdjust="spacingAndGlyphs">Estimated SD (cm)</text>
<text x="308.90" y="310.00" textLength="57.75" lengthAdjust="spacingAndGlyphs">RMSE: 3.083</text>
<text x="308.90" y="322.30" textLength="53.41" lengthAdjust="spacingAndGlyphs">MAE: 1.006</text>
<text x="308.90" y="334.60" textLength="51.64" lengthAdjust="spacingAndGlyphs">MBE: 0.030</text>
<text x="308.90" y="346.90">R<tspan dx="0.3" dy="-3.9" font-size="8.6">2</tspan><tspan dx="1.3" dy="3.9">: 0.618</tspan></text>
<text x="501.50" y="480.02" text-anchor="end" textLength="80" lengthAdjust="spacingAndGlyphs">y = 0.730x + 0.410</text>
<rect x="528.4" y="21.2" width="8.8" height="211.5" fill="url(#rb)" stroke="#555" stroke-width="0.6"/>
<line x1="537.2" y1="21.2" x2="540.2" y2="21.2" stroke="#444" stroke-width="1"/>
<line x1="537.2" y1="232.7" x2="540.2" y2="232.7" stroke="#444" stroke-width="1"/>
<text x="542.1" y="24.9">1</text>
<text x="541.5" y="236.4">0</text>
<rect x="528.4" y="294.4" width="8.8" height="212.0" fill="url(#rb)" stroke="#555" stroke-width="0.6"/>
<line x1="537.2" y1="294.4" x2="540.2" y2="294.4" stroke="#444" stroke-width="1"/>
<line x1="537.2" y1="506.4" x2="540.2" y2="506.4" stroke="#444" stroke-width="1"/>
<text x="542.1" y="298.1">1</text>
<text x="541.5" y="510.1">0</text>
</svg></body></html>
